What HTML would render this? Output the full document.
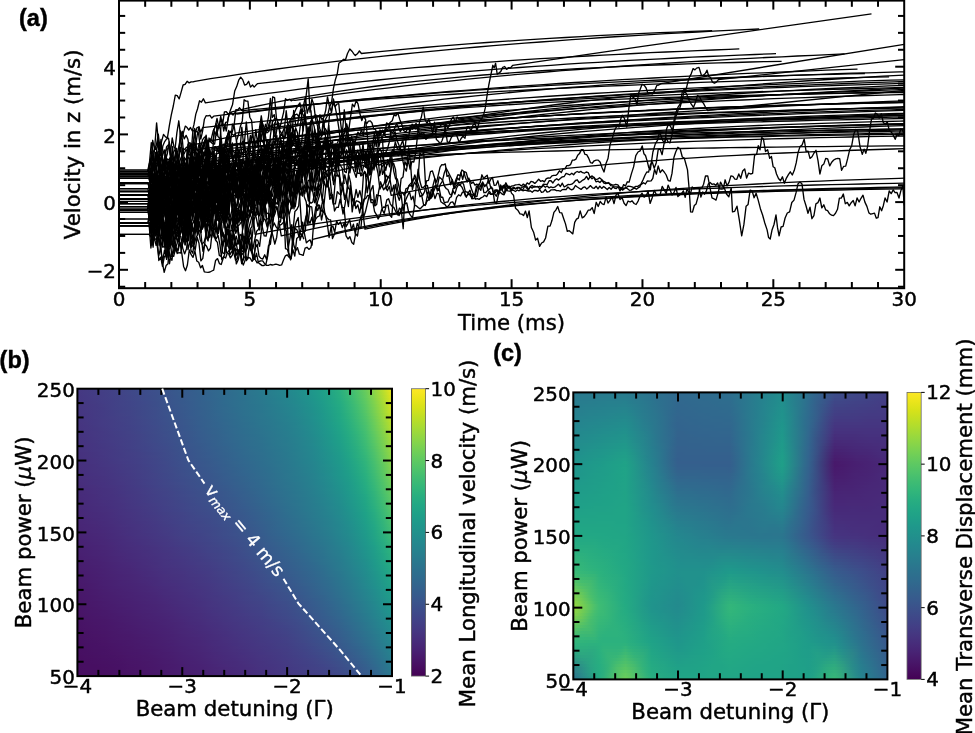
<!DOCTYPE html>
<html><head><meta charset="utf-8"><title>Figure</title>
<style>
html,body{margin:0;padding:0;background:#fff}
#fig{position:relative;width:975px;height:733px;overflow:hidden;background:#fff}
#fig svg{position:absolute;left:0;top:0}
.hm{position:absolute;height:733px}
.hm div{position:absolute;left:0;width:100%;height:3.69px}
.cb{position:absolute}
</style></head><body>
<div id="fig">
<div class="hm" style="left:77px;top:0;width:315px"><div style="top:389.0px;background:linear-gradient(90deg,#453882,#443a83,#433c84,#433f85,#424186,#414487,#3f4788,#3e4a89,#3d4d8a,#3c508b,#3a538b,#38578c,#375b8d,#355d8d,#34618d,#32658e,#31688e,#2f6b8e,#2e6f8e,#2c728e,#2b768e,#297a8e,#277e8e,#26828e,#24878e,#228c8d,#20918c,#1f988b,#1f9e88,#22a685,#29af80,#39b976,#4ec36b,#68cc5c,#8ed544,#b9de2e,#eae51b)"></div><div style="top:392.0px;background:linear-gradient(90deg,#453782,#443a83,#433c84,#433e85,#424186,#414487,#404788,#3e4a89,#3d4d8a,#3c4f8b,#3a538b,#39578c,#375a8c,#365d8d,#34608d,#32648e,#31688e,#2f6b8e,#2e6e8e,#2c728e,#2b768e,#29798e,#287e8e,#26828e,#24868e,#228b8d,#21918c,#1f978b,#1f9e89,#22a585,#28ae80,#38b877,#4cc26c,#65cb5d,#8bd546,#b5dd2f,#e6e41b)"></div><div style="top:395.0px;background:linear-gradient(90deg,#453782,#443983,#443c84,#433e85,#424186,#414387,#404688,#3f4989,#3d4c8a,#3c4f8a,#3a538b,#39568c,#375a8c,#365d8d,#34608d,#32648e,#31688e,#2f6b8e,#2e6e8e,#2c728e,#2b758e,#29798e,#287d8e,#26818e,#25858e,#238a8d,#21908c,#1f968b,#1f9d89,#22a485,#27ad81,#36b778,#4ac16d,#63cb5f,#88d448,#b2dc31,#e1e31b)"></div><div style="top:398.0px;background:linear-gradient(90deg,#453782,#443983,#443b84,#433e85,#424086,#414387,#404688,#3f4989,#3d4c8a,#3c4f8a,#3a528b,#39568c,#37598c,#365d8d,#34608d,#32648e,#31678e,#2f6b8e,#2e6e8e,#2c718e,#2b758e,#2a788e,#287c8e,#26808e,#25848e,#23898d,#218f8d,#1f958b,#1f9c89,#21a386,#26ac81,#34b679,#48c06e,#60ca60,#84d34a,#aedc33,#dde31b)"></div><div style="top:401.0px;background:linear-gradient(90deg,#453781,#443982,#443b83,#433d85,#424086,#414387,#404588,#3f4889,#3e4b8a,#3c4e8a,#3b528b,#39568c,#37598c,#365c8d,#34608d,#33638d,#31678e,#2f6b8e,#2e6e8e,#2d718e,#2b758e,#2a788e,#287c8e,#27808e,#25848e,#23898d,#218e8d,#20948c,#1f9b8a,#21a386,#25ab82,#32b57a,#46bf6f,#5ec962,#81d34c,#aadb35,#d9e21b)"></div><div style="top:403.9px;background:linear-gradient(90deg,#453781,#453882,#443a83,#433d84,#424086,#414387,#404588,#3f4889,#3e4b89,#3c4e8a,#3b528b,#39558c,#38598c,#365c8d,#34608d,#33638d,#31678e,#2f6a8e,#2e6e8e,#2d718e,#2b748e,#2a778e,#287b8e,#277f8e,#25838e,#24888e,#228d8d,#20938c,#1f9a8a,#21a287,#24aa83,#31b47b,#43be71,#5bc863,#7ed24e,#a6da36,#d5e21b)"></div><div style="top:406.9px;background:linear-gradient(90deg,#453681,#453882,#443a83,#433c84,#424086,#414287,#404587,#3f4888,#3e4b89,#3d4e8a,#3b518b,#39558c,#38588c,#365c8d,#345f8d,#33638d,#31678e,#306a8e,#2e6d8e,#2d718e,#2b748e,#2a778e,#297b8e,#277e8e,#26828e,#24878e,#228c8d,#20928c,#1f998a,#20a187,#23a983,#30b37c,#41bd72,#59c765,#7bd150,#a3da38,#d0e11c)"></div><div style="top:409.9px;background:linear-gradient(90deg,#453681,#453882,#443a83,#433c84,#423f85,#414286,#414487,#3f4788,#3e4a89,#3d4d8a,#3b518b,#3a548c,#38588c,#365b8d,#355f8d,#33628d,#31668e,#306a8e,#2e6d8e,#2d708e,#2c738e,#2a768e,#297a8e,#277e8e,#26828e,#24868e,#228c8d,#20918c,#1f988a,#20a088,#23a884,#2fb27d,#3fbc73,#56c666,#78d052,#9fd93a,#cce11f)"></div><div style="top:412.9px;background:linear-gradient(90deg,#453681,#453782,#443a83,#433c84,#423f85,#424286,#414487,#3f4788,#3e4a89,#3d4d8a,#3b518b,#3a548b,#38578c,#365b8d,#355f8d,#33628d,#32668e,#30698e,#2f6c8e,#2d708e,#2c738e,#2b768e,#297a8e,#287d8e,#26818e,#24868e,#238b8d,#21908c,#1f978b,#209f88,#22a784,#2db17d,#3dbb74,#53c568,#75cf54,#9bd83c,#c7e021)"></div><div style="top:415.9px;background:linear-gradient(90deg,#453581,#453782,#443a83,#433c84,#433f85,#424186,#414387,#404788,#3e4a89,#3d4d8a,#3b508b,#3a548b,#38578c,#375b8d,#355e8d,#33628d,#32658e,#30698e,#2f6c8e,#2d6f8e,#2c728e,#2b768e,#29798e,#287d8e,#26808e,#25858e,#238a8d,#21908d,#1f978b,#209e88,#22a785,#2cb07e,#3cba75,#50c469,#71ce56,#98d73e,#c3df23)"></div><div style="top:418.9px;background:linear-gradient(90deg,#453580,#453782,#443983,#443c84,#433e85,#424186,#414387,#404688,#3f4989,#3d4c8a,#3c508b,#3a538b,#39568c,#375a8c,#355e8d,#34618d,#32658e,#30688e,#2f6b8e,#2e6f8e,#2c728e,#2b758e,#2a788e,#287c8e,#27808e,#25848e,#23898d,#218f8d,#1f968b,#209d88,#21a685,#2aaf7f,#3ab976,#4ec36b,#6ecd58,#94d741,#bedf26)"></div><div style="top:421.9px;background:linear-gradient(90deg,#463480,#453781,#443983,#443c84,#433e85,#424086,#414387,#404688,#3f4989,#3d4c8a,#3c4f8b,#3a538b,#39568c,#375a8c,#355e8d,#34618d,#32648e,#31688e,#2f6b8e,#2e6e8e,#2c718e,#2b758e,#2a788e,#287b8e,#277f8e,#25838e,#23898d,#218e8d,#20958b,#1f9d89,#21a586,#29ae80,#38b877,#4bc26c,#6bcd5a,#90d643,#bade28)"></div><div style="top:424.9px;background:linear-gradient(90deg,#463480,#453681,#443982,#443b84,#433e85,#424086,#414287,#404588,#3f4889,#3e4b8a,#3c4f8a,#3b528b,#39558c,#37598c,#355d8d,#34618d,#32648e,#31678e,#2f6a8e,#2e6e8e,#2d718e,#2b748e,#2a778e,#297b8e,#277e8e,#26838e,#24888e,#228d8d,#20948b,#1f9c89,#20a486,#28ad80,#36b778,#49c16e,#68cc5b,#8dd545,#b6de2b)"></div><div style="top:427.9px;background:linear-gradient(90deg,#463480,#453681,#443882,#443b83,#433d85,#424086,#414286,#404588,#3f4889,#3e4b89,#3c4f8a,#3b528b,#39558c,#37598c,#365d8d,#34608d,#33638d,#31678e,#306a8e,#2e6d8e,#2d708e,#2c738e,#2a778e,#297a8e,#277e8e,#26828e,#24878e,#228d8d,#20938c,#1f9b8a,#20a387,#27ac81,#34b679,#47c06f,#66cb5d,#89d447,#b2dd2d)"></div><div style="top:430.9px;background:linear-gradient(90deg,#463480,#453681,#453882,#443a83,#433d84,#423f85,#424286,#404587,#3f4888,#3e4b89,#3c4e8a,#3b518b,#3a558c,#38588c,#365c8d,#34608d,#33638d,#31668e,#306a8e,#2e6d8e,#2d708e,#2c738e,#2b768e,#297a8e,#287d8e,#26828e,#24868e,#228c8d,#20938c,#1f9a8a,#20a287,#26ab82,#32b57a,#44bf70,#62ca5f,#85d34a,#aedc30)"></div><div style="top:433.8px;background:linear-gradient(90deg,#463380,#453581,#453882,#443a83,#433c84,#423f85,#424186,#414487,#3f4788,#3e4a89,#3d4e8a,#3b518b,#3a548c,#38588c,#365c8d,#355f8d,#33628d,#32668e,#30698e,#2f6c8e,#2d6f8e,#2c728e,#2b768e,#29798e,#287d8e,#26818e,#24868e,#228b8d,#20928c,#1f998a,#1fa187,#25aa82,#31b37b,#42be71,#5fc961,#82d24c,#aadc33)"></div><div style="top:436.8px;background:linear-gradient(90deg,#46337f,#453580,#453782,#443a83,#433c84,#433e85,#424186,#414487,#3f4788,#3e4a89,#3d4d8a,#3b508b,#3a548b,#38578c,#365b8d,#355f8d,#33628d,#32658e,#30698e,#2f6c8e,#2e6f8e,#2c718e,#2b758e,#2a798e,#287c8e,#27808e,#25858e,#238a8d,#21918c,#1f988a,#1fa088,#24a983,#30b27c,#40bd72,#5cc863,#7ed14e,#a6db35)"></div><div style="top:439.8px;background:linear-gradient(90deg,#46337f,#453580,#453781,#443983,#443c84,#433e85,#424086,#414387,#404788,#3e4a89,#3d4d8a,#3c508b,#3a538b,#38578c,#375b8d,#355e8d,#34618d,#32658e,#31688e,#2f6b8e,#2e6e8e,#2d718e,#2b758e,#2a788e,#287b8e,#27808e,#25848e,#23898d,#21908c,#1f988b,#1f9f88,#24a884,#2eb17d,#3ebc74,#59c764,#7ad150,#a2da38)"></div><div style="top:442.8px;background:linear-gradient(90deg,#46337f,#463480,#453681,#443982,#443b84,#433e85,#424086,#414387,#404688,#3f4989,#3d4c8a,#3c4f8b,#3a538b,#39578c,#375a8c,#355d8d,#34618d,#32648e,#31678e,#2f6b8e,#2e6e8e,#2d708e,#2b748e,#2a788e,#297b8e,#277f8e,#25848e,#23898e,#21908c,#1f978b,#1f9e89,#23a784,#2db07e,#3cbb75,#56c666,#77d052,#9eda3a)"></div><div style="top:445.8px;background:linear-gradient(90deg,#46327f,#463480,#453681,#443882,#443b83,#433d85,#424086,#414387,#404588,#3f4989,#3e4b8a,#3c4f8a,#3a528b,#39568c,#37598c,#365d8d,#34608d,#33638d,#31678e,#306a8e,#2e6d8e,#2d708e,#2c748e,#2a778e,#297a8e,#277f8e,#25838e,#23888e,#218f8d,#20968b,#1f9d89,#23a685,#2baf7f,#3aba76,#54c467,#74cf54,#9bd93c)"></div><div style="top:448.8px;background:linear-gradient(90deg,#46327f,#463480,#453681,#453882,#443a83,#433d84,#423f85,#414286,#404588,#3f4889,#3e4b89,#3c4e8a,#3b528b,#39558c,#38598c,#365c8d,#345f8d,#33638d,#31668e,#30698e,#2f6d8e,#2d6f8e,#2c738e,#2a768e,#297a8e,#277e8e,#26838e,#24878e,#218e8d,#20958b,#1f9c89,#22a585,#2aae7f,#38b977,#51c369,#71ce56,#97d83f)"></div><div style="top:451.8px;background:linear-gradient(90deg,#46317e,#46337f,#453580,#453882,#443a83,#433c84,#433f85,#424186,#404487,#3f4788,#3e4a89,#3d4e8a,#3b518b,#39558c,#38588c,#365b8d,#355f8d,#33628d,#32658e,#30698e,#2f6c8e,#2e6f8e,#2c728e,#2b768e,#29798e,#287e8e,#26828e,#24878e,#228d8d,#20948b,#1f9b8a,#21a486,#29ad80,#36b878,#4ec26b,#6ecd58,#94d741)"></div><div style="top:454.8px;background:linear-gradient(90deg,#46317e,#46337f,#453580,#453782,#443a83,#433c84,#433e85,#424186,#414487,#404788,#3e4a89,#3d4d8a,#3b518b,#3a548c,#38588c,#375b8d,#355e8d,#33618d,#32658e,#30688e,#2f6b8e,#2e6e8e,#2c728e,#2b758e,#29798e,#287d8e,#26828e,#24868e,#228d8d,#20938c,#1f9a8a,#21a386,#28ad80,#34b679,#4cc16c,#6bcc5a,#90d743)"></div><div style="top:457.8px;background:linear-gradient(90deg,#46317e,#46327f,#463480,#453781,#443983,#443c84,#433e85,#424086,#414387,#404688,#3e4989,#3d4d8a,#3b508b,#3a548b,#38578c,#375a8c,#355d8d,#34618d,#32648e,#31678e,#2f6b8e,#2e6e8e,#2d718e,#2b758e,#2a788e,#287d8e,#26818e,#24868e,#228c8d,#20938c,#1f998a,#20a287,#27ab81,#32b57a,#49c06d,#68cb5c,#8dd645)"></div><div style="top:460.8px;background:linear-gradient(90deg,#46307e,#46327f,#463480,#453681,#443982,#443b84,#433d85,#424086,#414387,#404688,#3f4989,#3d4c8a,#3c508b,#3a538b,#39568c,#37598c,#365d8d,#34608d,#33648d,#31678e,#306a8e,#2e6d8e,#2d718e,#2b748e,#2a788e,#287c8e,#26818e,#25858e,#228b8d,#20928c,#1f998a,#20a187,#26aa82,#30b47b,#47bf6f,#65ca5d,#89d547)"></div><div style="top:463.7px;background:linear-gradient(90deg,#47307d,#46317e,#46337f,#453681,#453882,#443a83,#433d84,#423f85,#414287,#404588,#3f4889,#3d4c8a,#3c4f8b,#3a538b,#39568c,#38598c,#365c8d,#345f8d,#33638d,#31668e,#30698e,#2e6d8e,#2d708e,#2c748e,#2a778e,#287c8e,#27808e,#25848e,#238b8d,#21918c,#1f988b,#20a087,#25a983,#2fb37c,#45be70,#61c95f,#86d44a)"></div><div style="top:466.7px;background:linear-gradient(90deg,#472f7d,#46317e,#46337f,#453580,#453782,#443a83,#433c84,#423f85,#414286,#404588,#3f4889,#3e4b89,#3c4f8a,#3b528b,#39558c,#38588c,#365b8d,#355f8d,#33628d,#32658e,#30698e,#2f6c8e,#2d6f8e,#2c738e,#2a778e,#297b8e,#277f8e,#25848e,#238a8d,#21908c,#1f978b,#209f88,#24a883,#2db27d,#43bd71,#5fc861,#82d34c)"></div><div style="top:469.7px;background:linear-gradient(90deg,#472f7d,#46317e,#46337f,#463480,#453781,#443983,#443c84,#433f85,#424186,#404587,#3f4888,#3e4b89,#3c4e8a,#3b518b,#3a548c,#38578c,#375b8d,#355e8d,#33618d,#32658e,#30688e,#2f6b8e,#2d6f8e,#2c738e,#2a768e,#297a8e,#277f8e,#25838e,#23898d,#218f8c,#1f968b,#1f9e88,#24a784,#2cb17e,#40bc73,#5cc762,#7ed24e)"></div><div style="top:472.7px;background:linear-gradient(90deg,#472f7d,#46307e,#46327f,#463480,#453681,#443982,#443b84,#433e85,#424186,#414487,#3f4788,#3e4a89,#3d4e8a,#3b518b,#3a548b,#39568c,#375a8c,#355d8d,#34618d,#32648e,#31678e,#2f6b8e,#2e6e8e,#2c728e,#2b768e,#297a8e,#277e8e,#26828e,#23888e,#218f8d,#1f968b,#1f9d89,#23a684,#2ab07f,#3ebb74,#59c664,#7ad251)"></div><div style="top:475.7px;background:linear-gradient(90deg,#472e7c,#47307d,#46327e,#46337f,#453681,#453882,#443b83,#433e85,#424186,#414487,#3f4788,#3e4a89,#3d4d8a,#3c508b,#3a538b,#39568c,#37598c,#365d8d,#34608d,#33638d,#31678e,#306a8e,#2e6e8e,#2c728e,#2b768e,#29798e,#287d8e,#26828e,#24888e,#228e8d,#1f958b,#1f9c89,#22a585,#29af80,#3cba75,#56c566,#77d153)"></div><div style="top:478.7px;background:linear-gradient(90deg,#472e7c,#472f7d,#46317e,#46337f,#453580,#453882,#443a83,#433d84,#424086,#414387,#404688,#3e4989,#3d4c8a,#3c4f8a,#3b528b,#39558c,#38598c,#365c8d,#345f8d,#33638d,#31668e,#30698e,#2e6d8e,#2d718e,#2b758e,#29798e,#287d8e,#26818e,#24878e,#228d8d,#20948c,#1f9b89,#22a486,#28ae80,#3ab976,#53c468,#73d055)"></div><div style="top:481.7px;background:linear-gradient(90deg,#472d7b,#472f7d,#46317e,#46327f,#453580,#453782,#443a83,#433d84,#424086,#414387,#404688,#3f4989,#3e4c8a,#3c4f8a,#3b518b,#3a548c,#38588c,#365b8d,#355f8d,#33628d,#32658e,#30698e,#2f6d8e,#2d718e,#2b748e,#2a788e,#287c8e,#26818e,#24868e,#228c8d,#20938c,#1f9a8a,#21a386,#27ad81,#38b877,#50c369,#70cf57)"></div><div style="top:484.7px;background:linear-gradient(90deg,#472c7b,#472e7c,#47307d,#46327f,#463480,#453681,#443983,#433c84,#423f85,#414287,#404588,#3f4888,#3e4b89,#3d4e8a,#3b518b,#3a548b,#38578c,#375a8c,#355e8d,#34618d,#32658e,#30688e,#2f6c8e,#2d708e,#2c748e,#2a778e,#287c8e,#27808e,#25858e,#228b8d,#20928c,#1f998a,#21a287,#26ac82,#36b778,#4ec26b,#6cce59)"></div><div style="top:487.7px;background:linear-gradient(90deg,#472c7b,#472d7c,#472f7d,#46317e,#46337f,#453681,#443982,#443b84,#433e85,#424286,#414487,#3f4788,#3e4a89,#3d4d8a,#3c508b,#3a538b,#39568c,#37598c,#365d8d,#34608d,#32648d,#31678e,#2f6b8e,#2d6f8e,#2c738e,#2a778e,#297b8e,#277f8e,#25858e,#238b8d,#20918c,#1f998a,#21a187,#25ab82,#34b679,#4bc16c,#69cd5b)"></div><div style="top:490.6px;background:linear-gradient(90deg,#472b7a,#472d7b,#472f7d,#46317e,#46337f,#453581,#443882,#443b83,#433e85,#424186,#414387,#404688,#3e4989,#3d4c8a,#3c4f8a,#3b528b,#39558c,#38588c,#365c8d,#345f8d,#33638d,#31678e,#2f6b8e,#2e6f8e,#2c728e,#2a768e,#297a8e,#277f8e,#25848e,#238a8d,#21908c,#1f988b,#21a087,#24aa83,#32b47a,#49c06d,#65cb5d)"></div><div style="top:493.6px;background:linear-gradient(90deg,#472b7a,#472c7b,#472e7c,#46317e,#46327f,#453580,#453882,#443a83,#433d85,#424086,#414387,#404688,#3f4989,#3e4c8a,#3c4f8a,#3b518b,#3a548c,#38588c,#365b8d,#355f8d,#33628d,#31668e,#306a8e,#2e6e8e,#2c728e,#2b768e,#297a8e,#277e8e,#25838e,#23898d,#218f8d,#1f978b,#209f88,#23a884,#31b37b,#46bf6f,#62ca5f)"></div><div style="top:496.6px;background:linear-gradient(90deg,#472a79,#472c7b,#472e7c,#46307e,#46327f,#463480,#453782,#443a83,#433d84,#424086,#414287,#404588,#3f4889,#3e4b89,#3d4e8a,#3b518b,#3a548b,#38578c,#375a8c,#355e8d,#34618d,#32658e,#30698e,#2e6d8e,#2d718e,#2b758e,#29798e,#287d8e,#26828e,#24888e,#218e8d,#20968b,#209e88,#22a784,#2fb27c,#43be71,#5fc961)"></div><div style="top:499.6px;background:linear-gradient(90deg,#482a79,#472b7a,#472d7c,#47307d,#46317e,#463480,#453781,#443983,#433c84,#423f85,#424186,#414487,#3f4788,#3e4a89,#3d4d8a,#3c508b,#3a538b,#39568c,#37598c,#365d8d,#34618d,#32658e,#30698e,#2f6d8e,#2d718e,#2b748e,#2a788e,#287d8e,#26828e,#24878e,#228d8d,#20958b,#209d89,#22a685,#2eb17d,#41bc72,#5cc863)"></div><div style="top:502.6px;background:linear-gradient(90deg,#482979,#472b7a,#472d7b,#472f7d,#46317e,#46337f,#453681,#443982,#443b84,#433e85,#424186,#414487,#404688,#3e4989,#3d4c8a,#3c4f8a,#3b528b,#39558c,#38588c,#365c8d,#34608d,#32648d,#31688e,#2f6c8e,#2d708e,#2c748e,#2a788e,#287c8e,#26818e,#24868e,#228c8d,#20948b,#209c89,#21a585,#2db07e,#3fbb73,#59c764)"></div><div style="top:505.6px;background:linear-gradient(90deg,#482978,#472a7a,#472c7b,#472e7c,#46307e,#46337f,#453681,#453882,#443b83,#433d85,#424086,#414387,#404688,#3f4989,#3e4b8a,#3c4e8a,#3b518b,#3a548b,#38588c,#365b8d,#355f8d,#33638d,#31678e,#2f6b8e,#2d6f8e,#2c738e,#2a778e,#287c8e,#27808e,#25868e,#228b8d,#20938c,#209b89,#21a486,#2baf7f,#3dba74,#57c666)"></div><div style="top:508.6px;background:linear-gradient(90deg,#482878,#472a79,#472c7b,#472e7c,#47307d,#46327f,#453580,#453782,#443a83,#433d84,#424086,#414287,#404588,#3f4889,#3e4b89,#3d4d8a,#3c508b,#3a538b,#38578c,#375a8c,#355e8d,#33628d,#31668e,#306a8e,#2e6f8e,#2c728e,#2a778e,#297b8e,#277f8e,#25858e,#238a8d,#20928c,#209a8a,#20a386,#29ae80,#3bb975,#54c568)"></div><div style="top:511.6px;background:linear-gradient(90deg,#482878,#482a79,#472b7a,#472d7b,#472f7d,#46327f,#463480,#453781,#443983,#433c84,#423f85,#414286,#414487,#3f4788,#3e4a89,#3d4c8a,#3c4f8a,#3b528b,#39568c,#37598c,#355d8d,#34618d,#32658e,#30698e,#2e6e8e,#2c728e,#2b768e,#297a8e,#277f8e,#25848e,#238a8d,#21918c,#1f998a,#1fa287,#28ac81,#39b877,#51c469)"></div><div style="top:514.6px;background:linear-gradient(90deg,#482777,#482979,#472b7a,#472c7b,#472f7d,#46317e,#463480,#453681,#443982,#443b84,#433e85,#424186,#414387,#404688,#3f4989,#3e4b8a,#3c4e8a,#3b518b,#39558c,#38588c,#365c8d,#34608d,#32648e,#30698e,#2e6d8e,#2d718e,#2b758e,#297a8e,#277e8e,#25838e,#23898e,#21908c,#1f988a,#1fa187,#27ab81,#37b778,#4ec36b)"></div><div style="top:517.6px;background:linear-gradient(90deg,#482777,#482878,#472a79,#472c7b,#472e7c,#46317e,#46337f,#453681,#453882,#443b83,#433e85,#424086,#414387,#404688,#3f4889,#3e4a89,#3d4d8a,#3b518b,#3a548b,#38588c,#365b8d,#34608d,#32648d,#31688e,#2f6c8e,#2d708e,#2b748e,#29798e,#287d8e,#26828e,#24888e,#218f8c,#20978b,#1fa088,#26aa82,#34b579,#4bc26c)"></div><div style="top:520.5px;background:linear-gradient(90deg,#482676,#482878,#482a79,#472b7a,#472e7c,#46307d,#46337f,#453580,#453782,#443a83,#433d84,#424086,#414287,#404588,#3f4788,#3e4a89,#3d4d8a,#3c508b,#3a538b,#38578c,#375b8c,#355f8d,#33638d,#31678e,#2f6c8e,#2d6f8e,#2c748e,#2a788e,#287c8e,#26818e,#24878e,#218e8d,#20968b,#1f9f88,#25a983,#33b47a,#49c16e)"></div><div style="top:523.5px;background:linear-gradient(90deg,#482676,#482777,#482978,#472b7a,#472d7b,#47307d,#46327f,#463480,#453781,#443983,#433c84,#423f85,#424286,#414487,#404788,#3f4989,#3d4c8a,#3c4f8a,#3b528b,#39568c,#375a8c,#355e8d,#33628d,#31678e,#2f6b8e,#2e6f8e,#2c738e,#2a778e,#287c8e,#26818e,#24868e,#228d8d,#20958b,#1f9e89,#24a884,#32b37b,#46bf6f)"></div><div style="top:526.5px;background:linear-gradient(90deg,#482575,#482777,#482878,#472a79,#472c7b,#472f7d,#46317e,#463480,#453681,#443982,#443b84,#433e85,#424186,#414387,#404688,#3f4889,#3e4b89,#3c4e8a,#3b518b,#39558c,#38598c,#365d8d,#33628d,#31668e,#306a8e,#2e6e8e,#2c728e,#2a768e,#297b8e,#27808e,#24868e,#228c8d,#20948b,#1f9d89,#23a784,#30b27c,#43be71)"></div><div style="top:529.5px;background:linear-gradient(90deg,#482475,#482676,#482878,#482979,#472c7b,#472e7c,#46317e,#46337f,#453681,#453882,#443b83,#433d85,#424086,#414387,#404588,#3f4788,#3e4a89,#3d4d8a,#3b508b,#3a548b,#38588c,#365c8d,#34618d,#32658e,#30698e,#2e6d8e,#2d718e,#2b768e,#297a8e,#277f8e,#25858e,#228b8d,#20938c,#1f9b8a,#22a585,#2eb17d,#40bd72)"></div><div style="top:532.5px;background:linear-gradient(90deg,#482474,#482576,#482777,#482978,#472b7a,#472e7c,#46307e,#46337f,#453580,#453782,#443a83,#433d84,#424086,#414286,#404487,#404788,#3e4a89,#3d4d8a,#3c508b,#3a538b,#38578c,#365b8d,#34608d,#32648e,#30688e,#2f6c8e,#2d708e,#2b758e,#29798e,#277e8e,#25848e,#238a8d,#21928c,#1f9a8a,#22a485,#2caf7e,#3dbc74)"></div><div style="top:535.5px;background:linear-gradient(90deg,#482374,#482575,#482677,#482878,#472b7a,#472d7b,#47307d,#46327f,#463480,#453781,#443982,#443c84,#433f85,#424186,#414387,#404688,#3f4989,#3d4c8a,#3c4f8a,#3b528b,#39568c,#375a8c,#355f8d,#33638d,#31678e,#2f6b8e,#2d6f8e,#2b748e,#2a788e,#287d8e,#25838e,#23898d,#21918c,#1f998a,#22a386,#2aae7f,#3bba75)"></div><div style="top:538.5px;background:linear-gradient(90deg,#482273,#482475,#482676,#482777,#472a79,#472c7b,#472f7d,#46317e,#46337f,#453681,#453882,#443b83,#433e85,#424086,#414387,#404588,#3f4889,#3e4b89,#3d4e8a,#3b518b,#39558c,#375a8c,#355e8d,#33628d,#31668e,#306a8e,#2e6e8e,#2c738e,#2a778e,#287c8e,#26828e,#23888d,#21908c,#1f988b,#21a286,#29ad80,#38b977)"></div><div style="top:541.5px;background:linear-gradient(90deg,#482273,#482374,#482576,#482777,#482979,#472c7b,#472e7c,#46307e,#46337f,#453580,#453782,#443a83,#433d84,#423f85,#414286,#404487,#3f4788,#3e4a89,#3d4d8a,#3b508b,#3a548b,#38598c,#365d8d,#34618d,#32658e,#30698e,#2e6d8e,#2c728e,#2a768e,#287b8e,#26818e,#24878e,#218f8c,#1f978b,#20a187,#28ab81,#36b778)"></div><div style="top:544.5px;background:linear-gradient(90deg,#482172,#482374,#482475,#482676,#482978,#472b7a,#472e7c,#472f7d,#46327e,#463480,#453781,#443983,#433c84,#433e85,#424186,#414487,#404688,#3f4989,#3d4c8a,#3c508b,#3a548b,#38588c,#365c8d,#34608d,#32648e,#30688e,#2f6c8e,#2d718e,#2b758e,#297a8e,#27808e,#24868e,#228e8d,#1f968b,#209f88,#27aa82,#33b67a)"></div><div style="top:547.4px;background:linear-gradient(90deg,#482072,#482273,#482475,#482676,#482878,#472b7a,#472d7b,#472f7d,#46317e,#46337f,#453681,#453882,#443b83,#433d84,#424086,#414387,#404588,#3f4889,#3e4b89,#3c4f8a,#3a538b,#38578c,#365b8d,#355f8d,#33638d,#31678e,#2f6c8e,#2d708e,#2b748e,#297a8e,#277f8e,#25858e,#228d8d,#1f958b,#209e88,#26a983,#31b47b)"></div><div style="top:550.4px;background:linear-gradient(90deg,#482071,#482173,#482374,#482575,#482777,#472a79,#472c7b,#472e7c,#46307d,#46337f,#453580,#453782,#443a83,#433c84,#423f85,#414287,#404487,#3f4788,#3e4a89,#3d4e8a,#3b528b,#39568c,#375a8c,#355e8d,#33628d,#31668e,#2f6b8e,#2d6f8e,#2c738e,#2a798e,#277e8e,#25858e,#228c8d,#20948c,#209d89,#24a884,#2eb37c)"></div><div style="top:553.4px;background:linear-gradient(90deg,#481f71,#482172,#482374,#482475,#482777,#482979,#472b7a,#472d7c,#47307d,#46327f,#463480,#453781,#443983,#443b84,#433e85,#424186,#414387,#404688,#3e4989,#3d4d8a,#3b518b,#39558c,#37598c,#355d8d,#34618d,#32658e,#30698e,#2e6e8e,#2c728e,#2a788e,#287d8e,#25848e,#238b8d,#20938c,#209c89,#23a684,#2db17d)"></div><div style="top:556.4px;background:linear-gradient(90deg,#481e70,#482072,#482273,#482474,#482676,#482878,#472b7a,#472d7b,#472f7d,#46317e,#463480,#453681,#453882,#443b83,#433d84,#424086,#414387,#404688,#3f4989,#3d4c8a,#3c508b,#3a548b,#38588c,#365c8d,#34608d,#32648e,#30688e,#2e6d8e,#2c718e,#2a778e,#287c8e,#26838e,#238a8d,#20928c,#209b89,#23a585,#2bb07f)"></div><div style="top:559.4px;background:linear-gradient(90deg,#481e6f,#482071,#482172,#482374,#482676,#482878,#472a79,#472c7b,#472e7c,#46317e,#46337f,#453581,#453782,#443a83,#433c84,#423f85,#414286,#404587,#3f4889,#3e4b89,#3c4f8a,#3a538b,#38578c,#365b8d,#355f8d,#33638d,#31678e,#2f6c8e,#2d718e,#2b768e,#287b8e,#26828e,#23898d,#21908c,#1f9a8a,#23a485,#29ae80)"></div><div style="top:562.4px;background:linear-gradient(90deg,#481d6f,#481f70,#482172,#482273,#482575,#482777,#482979,#472b7a,#472e7c,#46307d,#46337f,#453580,#453781,#443983,#443c84,#433e85,#424186,#414487,#3f4788,#3e4a89,#3d4e8a,#3b528b,#39568c,#375a8c,#355e8d,#33628d,#31668e,#2f6a8e,#2d708e,#2b758e,#297a8e,#26818e,#24888d,#218f8d,#1f998a,#22a386,#27ad81)"></div><div style="top:565.4px;background:linear-gradient(90deg,#481d6e,#481e70,#482071,#482273,#482475,#482677,#482878,#472b7a,#472d7b,#47307d,#46327f,#463480,#453681,#453882,#443b83,#433d84,#424086,#414387,#404688,#3e4989,#3d4d8a,#3b518b,#39558c,#37598c,#355d8d,#34618d,#32658e,#30698e,#2e6e8e,#2b748e,#297a8e,#27808e,#24878e,#218e8d,#1f988a,#21a187,#25ab82)"></div><div style="top:568.4px;background:linear-gradient(90deg,#481c6e,#481e6f,#481f71,#482172,#482474,#482676,#482777,#472a79,#472c7b,#472f7d,#46317e,#46337f,#453580,#453782,#443a83,#433c84,#423f85,#414287,#404588,#3f4889,#3d4c8a,#3c508b,#3a548b,#38588c,#365c8d,#34608d,#32648e,#30688e,#2e6d8e,#2c738e,#2a798e,#277f8e,#24868e,#228d8d,#20978b,#20a087,#24aa83)"></div><div style="top:571.4px;background:linear-gradient(90deg,#481b6d,#481d6f,#481f70,#482172,#482374,#482576,#482777,#482979,#472b7a,#472e7c,#46307e,#46337f,#463480,#453781,#443983,#443b84,#433f85,#424286,#404487,#3f4888,#3e4b89,#3c4f8a,#3a538b,#38578c,#375b8d,#355f8d,#33638d,#31678e,#2f6c8e,#2c728e,#2a778e,#287e8e,#25858e,#228c8d,#20958b,#209f88,#23a983)"></div><div style="top:574.4px;background:linear-gradient(90deg,#481b6d,#481c6e,#481e70,#482072,#482373,#482475,#482676,#482878,#472b7a,#472d7c,#47307d,#46327e,#46337f,#453681,#453882,#443b83,#433e85,#424186,#414487,#404788,#3e4a89,#3d4e8a,#3b528b,#39568c,#375a8c,#355e8d,#33628d,#31668e,#2f6b8e,#2d718e,#2a768e,#287d8e,#25848e,#228b8d,#20948b,#209d88,#22a784)"></div><div style="top:577.3px;background:linear-gradient(90deg,#481a6c,#481c6e,#481e6f,#482071,#482273,#482475,#482676,#482877,#472a79,#472c7b,#472f7d,#46317e,#46337f,#453580,#453782,#443a83,#433d84,#424086,#414387,#404688,#3f4989,#3d4d8a,#3b518b,#39558c,#38588c,#365d8d,#34618d,#32658e,#306a8e,#2d6f8e,#2b758e,#287c8e,#26828e,#238a8d,#20938c,#209c89,#22a685)"></div><div style="top:580.3px;background:linear-gradient(90deg,#48196b,#481b6d,#481d6f,#481f71,#482172,#482374,#482575,#482777,#482979,#472b7a,#472e7c,#46307d,#46327e,#463480,#453781,#443983,#433c84,#423f85,#414286,#404587,#3f4889,#3d4c8a,#3c508b,#3a548b,#38578c,#365b8d,#34608d,#32648e,#30698e,#2e6e8e,#2b748e,#297a8e,#26818e,#23898d,#21918c,#209a89,#21a486)"></div><div style="top:583.3px;background:linear-gradient(90deg,#48196b,#481a6c,#481c6e,#481f71,#482172,#482374,#482475,#482676,#482878,#472b7a,#472d7c,#472f7d,#46317e,#46337f,#453681,#453882,#443b84,#433e85,#424186,#414487,#3f4788,#3e4b89,#3c4f8a,#3a528b,#39568c,#375a8c,#355f8d,#33638d,#31688e,#2e6d8e,#2c738e,#29798e,#27808e,#24888e,#21908c,#20998a,#20a386)"></div><div style="top:586.3px;background:linear-gradient(90deg,#48186a,#481a6c,#481c6e,#481e70,#482072,#482273,#482474,#482576,#482777,#482a79,#472c7b,#472e7c,#46307e,#46337f,#453580,#453782,#443b83,#433d85,#424086,#414387,#404688,#3e4a89,#3d4e8a,#3b518b,#39558c,#37598c,#355d8d,#33628d,#31678e,#2f6c8e,#2c728e,#2a788e,#277f8e,#24878e,#218f8d,#20988a,#1fa287)"></div><div style="top:589.3px;background:linear-gradient(90deg,#48186a,#48196b,#481b6d,#481e6f,#482071,#482172,#482374,#482575,#482777,#482979,#472b7a,#472e7c,#47307d,#46327f,#463480,#453781,#443a83,#433d84,#423f85,#414286,#404588,#3f4989,#3d4c8a,#3c508b,#3a548b,#38588c,#365c8d,#34618d,#32668e,#2f6b8e,#2d718e,#2a778e,#277e8e,#25858e,#228d8d,#20968b,#1fa088)"></div><div style="top:592.3px;background:linear-gradient(90deg,#481769,#48196b,#481b6d,#481d6f,#481f70,#482172,#482273,#482475,#482676,#482878,#472b7a,#472d7b,#472f7d,#46317e,#463480,#453681,#443983,#433c84,#433e85,#424186,#404487,#3f4888,#3e4b89,#3c4f8a,#3b528b,#39578c,#365b8d,#34608d,#32658e,#306a8e,#2d708e,#2b768e,#287d8e,#25848e,#228c8d,#20958b,#1f9e88)"></div><div style="top:595.3px;background:linear-gradient(90deg,#481769,#48186b,#481a6c,#481d6e,#481e70,#482071,#482273,#482374,#482576,#482777,#472a79,#472c7b,#472e7c,#46307e,#46337f,#453681,#443882,#443b83,#433d85,#424186,#414487,#404688,#3e4a89,#3d4e8a,#3b518b,#39558c,#375a8c,#355f8d,#33638d,#30698e,#2e6f8e,#2b758e,#287c8e,#26838e,#238b8d,#20948b,#1f9d89)"></div><div style="top:598.3px;background:linear-gradient(90deg,#481669,#48186a,#481a6c,#481c6e,#481e6f,#481f71,#482172,#482374,#482575,#482677,#482979,#472b7a,#472e7c,#472f7d,#46327f,#453580,#453882,#443a83,#433d84,#424086,#414387,#404588,#3f4989,#3d4d8a,#3c508b,#3a548b,#38598c,#355d8d,#33628d,#31688e,#2e6d8e,#2c748e,#297b8e,#26828e,#238a8d,#21928c,#1f9b89)"></div><div style="top:601.3px;background:linear-gradient(90deg,#481668,#48186a,#48196b,#481b6d,#481d6f,#481f70,#482072,#482273,#482475,#482676,#482878,#472b7a,#472d7b,#472f7d,#46317e,#463480,#453781,#443983,#433c84,#423f85,#414286,#414487,#3f4889,#3e4b8a,#3c4e8a,#3a538b,#38578c,#365c8d,#34618d,#31668e,#2f6c8e,#2c738e,#29798e,#26808e,#23888d,#21918c,#1f9a8a)"></div><div style="top:604.2px;background:linear-gradient(90deg,#481568,#481769,#48196b,#481b6d,#481c6e,#481e70,#482071,#482173,#482374,#482575,#482777,#472a79,#472c7b,#472e7c,#46317e,#463480,#453681,#443982,#443b84,#433e85,#424186,#414387,#3f4788,#3e4a89,#3d4d8a,#3b528b,#39568c,#365b8d,#34608d,#32658e,#2f6b8e,#2c718e,#2a788e,#277f8e,#24878e,#21908c,#1f988b)"></div><div style="top:607.2px;background:linear-gradient(90deg,#481567,#481769,#48186a,#481a6c,#481c6e,#481d6f,#481f71,#482172,#482374,#482475,#482777,#482979,#472b7a,#472d7c,#47307d,#46337f,#453581,#453882,#443a83,#433d84,#424086,#414287,#404688,#3f4989,#3d4c8a,#3b508b,#39558c,#375a8c,#355f8d,#32648d,#306a8e,#2d708e,#2a778e,#277e8e,#24868e,#228e8d,#1f978b)"></div><div style="top:610.2px;background:linear-gradient(90deg,#481467,#481669,#48186a,#48196b,#481b6d,#481d6f,#481e70,#482072,#482273,#482474,#482676,#482878,#472b7a,#472d7b,#472f7d,#46327f,#453580,#453781,#443983,#433c84,#423f85,#424186,#404587,#3f4889,#3e4b89,#3c4f8a,#3a548b,#38598c,#355d8d,#33638d,#30688e,#2e6f8e,#2b768e,#287d8e,#25848e,#228d8d,#1f968b)"></div><div style="top:613.2px;background:linear-gradient(90deg,#481466,#481668,#48176a,#48196b,#481a6c,#481c6e,#481e6f,#482071,#482172,#482374,#482575,#482777,#472a79,#472c7b,#472e7c,#46317e,#463480,#453681,#443982,#443b84,#433e85,#424086,#414487,#3f4788,#3e4a89,#3c4e8a,#3a528b,#38578c,#365c8d,#33628d,#31678e,#2e6e8e,#2b748e,#287b8e,#25838e,#238b8d,#20948c)"></div><div style="top:616.2px;background:linear-gradient(90deg,#481366,#481568,#481769,#48186a,#481a6c,#481b6d,#481d6f,#481f70,#482172,#482273,#482475,#482677,#482979,#472b7a,#472e7c,#46307e,#46337f,#453581,#453882,#443a83,#433d84,#423f85,#414387,#404688,#3f4989,#3d4d8a,#3b518b,#39568c,#365b8d,#34608d,#32668e,#2f6c8e,#2c738e,#297a8e,#26828e,#238a8d,#20938c)"></div><div style="top:619.2px;background:linear-gradient(90deg,#471365,#481567,#481669,#481769,#48196b,#481b6d,#481d6e,#481e70,#482071,#482273,#482374,#482676,#482878,#472b7a,#472d7b,#47307d,#46327f,#453580,#453782,#443983,#433c84,#433e85,#424186,#404587,#3f4888,#3e4b8a,#3c508b,#39558c,#375a8c,#355f8d,#32648e,#2f6b8e,#2c728e,#29798e,#27808e,#23898d,#20918c)"></div><div style="top:622.2px;background:linear-gradient(90deg,#471265,#481467,#481668,#481769,#48186b,#481a6c,#481c6e,#481e6f,#481f71,#482172,#482374,#482575,#482777,#472a79,#472c7b,#472f7d,#46317e,#463480,#453681,#443982,#443b84,#433d85,#424086,#414387,#404788,#3e4a89,#3c4f8a,#3a548b,#38598c,#355e8d,#33638d,#306a8e,#2d708e,#2a778e,#277f8e,#24878e,#21908c)"></div><div style="top:625.2px;background:linear-gradient(90deg,#471265,#481466,#481568,#481669,#48186a,#481a6c,#481b6d,#481d6f,#481f70,#482072,#482273,#482475,#482777,#482979,#472b7a,#472e7c,#46307e,#46337f,#453581,#453882,#443a83,#433d84,#424085,#414287,#404588,#3f4989,#3d4d8a,#3a528b,#38578c,#365c8d,#33628d,#30688e,#2e6f8e,#2b768e,#287e8e,#24868e,#218e8d)"></div><div style="top:628.2px;background:linear-gradient(90deg,#471264,#481366,#481567,#481668,#48186a,#48196b,#481b6d,#481c6e,#481e70,#482071,#482173,#482474,#482676,#482878,#472b7a,#472d7c,#47307d,#46327f,#453580,#453781,#443983,#433c84,#433f85,#424186,#404487,#3f4888,#3d4c8a,#3b518b,#39568c,#375b8c,#34608d,#31678e,#2e6e8e,#2b758e,#287c8e,#25848e,#228d8d)"></div><div style="top:631.2px;background:linear-gradient(90deg,#471164,#471365,#481467,#481568,#481769,#48196b,#481a6c,#481c6e,#481d6f,#481f71,#482172,#482374,#482676,#482877,#472a79,#472c7b,#472f7d,#46317e,#463480,#453681,#443982,#443b84,#433e85,#424086,#414387,#3f4788,#3e4b89,#3c508b,#3a548b,#375a8c,#355f8d,#32658e,#2f6c8e,#2c738e,#297b8e,#26838e,#228c8d)"></div><div style="top:634.1px;background:linear-gradient(90deg,#471163,#471265,#481466,#481567,#481769,#48186a,#48196b,#481b6d,#481d6e,#481e70,#482072,#482273,#482575,#482777,#482979,#472b7a,#472e7c,#46307e,#46337f,#453581,#453882,#443a83,#433d84,#423f85,#414286,#404688,#3e4a89,#3c4f8a,#3a538b,#38588c,#355e8d,#32648d,#2f6b8e,#2c728e,#29798e,#26818e,#238a8d)"></div><div style="top:637.1px;background:linear-gradient(90deg,#471063,#471265,#481366,#481467,#481669,#48186a,#48196b,#481a6c,#481c6e,#481e6f,#482071,#482273,#482475,#482676,#482878,#472b7a,#472d7c,#47307d,#46327f,#453580,#453781,#443983,#433c84,#433e85,#424186,#404587,#3f4989,#3d4d8a,#3b528b,#38578c,#365c8d,#33638d,#30698e,#2d708e,#2a788e,#27808e,#23898e)"></div><div style="top:640.1px;background:linear-gradient(90deg,#471062,#471264,#471365,#481466,#481668,#481769,#48186a,#481a6c,#481b6d,#481d6f,#481f70,#482172,#482474,#482576,#482777,#472a79,#472c7b,#472f7d,#46317e,#463480,#453681,#443982,#443b84,#433d85,#424086,#414487,#3f4888,#3d4c8a,#3b508b,#39558c,#375b8d,#34618d,#31688e,#2e6f8e,#2b768e,#277f8e,#24878e)"></div><div style="top:643.1px;background:linear-gradient(90deg,#470f62,#471164,#471265,#481366,#481567,#481669,#48186a,#48196b,#481b6d,#481d6e,#481e70,#482072,#482374,#482575,#482777,#482979,#472c7b,#472e7c,#46307e,#46337f,#453581,#453882,#443a83,#433d84,#423f85,#414387,#404688,#3e4b89,#3c4f8a,#3a548b,#37598c,#345f8d,#32668e,#2e6d8e,#2b758e,#287d8e,#24868e)"></div><div style="top:646.1px;background:linear-gradient(90deg,#470f62,#471163,#471265,#471365,#481467,#481668,#481769,#48196b,#481a6c,#481c6e,#481e6f,#482071,#482273,#482475,#482676,#482978,#472b7a,#472d7c,#47307d,#46327f,#453580,#453781,#443983,#433c84,#433e85,#414286,#404588,#3e4989,#3d4e8a,#3a528b,#38588c,#355e8d,#32648d,#2f6b8e,#2c738e,#287c8e,#25858e)"></div><div style="top:649.1px;background:linear-gradient(90deg,#470f62,#471063,#471264,#471265,#481466,#481568,#481769,#48186a,#48196c,#481b6d,#481d6f,#481f71,#482273,#482374,#482676,#482878,#472b7a,#472d7b,#472f7d,#46317e,#463480,#453681,#443982,#443b83,#433d85,#424186,#404487,#3f4889,#3d4c8a,#3b518b,#39568c,#365c8d,#33628d,#30698e,#2d718e,#297a8e,#25838e)"></div><div style="top:652.1px;background:linear-gradient(90deg,#470f62,#471063,#471164,#471265,#481366,#481567,#481669,#48176a,#48196b,#481b6d,#481c6e,#481e70,#482172,#482374,#482575,#482777,#472a79,#472c7b,#472e7c,#46307e,#46337f,#453581,#453882,#443a83,#433d84,#424086,#414387,#3f4788,#3e4b89,#3c4f8a,#39558c,#375a8c,#34618d,#31688e,#2d708e,#2a788e,#26828e)"></div><div style="top:655.1px;background:linear-gradient(90deg,#470e61,#471062,#471163,#471264,#471365,#481466,#481668,#481769,#48186a,#481a6c,#481c6e,#481e6f,#482072,#482273,#482475,#482777,#482979,#472b7a,#472d7c,#47307d,#46327f,#463580,#453781,#443983,#433c84,#423f85,#414287,#404588,#3e4989,#3d4e8a,#3a538b,#38598c,#355f8d,#32668e,#2e6e8e,#2a778e,#26808e)"></div><div style="top:658.1px;background:linear-gradient(90deg,#470e61,#470f62,#471063,#471164,#471265,#481366,#481568,#481669,#48186a,#48196b,#481b6d,#481d6f,#482071,#482173,#482474,#482676,#482978,#472b7a,#472c7b,#472f7d,#46317e,#463480,#453681,#443982,#443b84,#433e85,#424186,#414487,#3f4888,#3d4c8a,#3b518b,#38578c,#365d8d,#32648d,#2f6c8e,#2b758e,#277f8e)"></div><div style="top:661.1px;background:linear-gradient(90deg,#470e61,#470f62,#471063,#471163,#471264,#471365,#481567,#481668,#481769,#48196b,#481b6d,#481d6e,#481f71,#482172,#482374,#482576,#482878,#472a79,#472b7a,#472e7c,#46317e,#46337f,#453681,#453882,#443b83,#433e85,#424086,#414387,#404788,#3e4b89,#3c4f8a,#39558b,#365b8c,#33628d,#2f6b8e,#2b748e,#277e8e)"></div><div style="top:664.0px;background:linear-gradient(90deg,#470e61,#470f62,#470f62,#471063,#471164,#471265,#481467,#481568,#481769,#48186b,#481a6c,#481c6e,#481e70,#482072,#482273,#482475,#482777,#482979,#472b7a,#472d7b,#47307d,#46337f,#453580,#453782,#443a83,#433d84,#423f85,#414286,#404588,#3f4989,#3d4e8a,#3a538b,#37598c,#34608d,#30698e,#2c728e,#287d8e)"></div><div style="top:667.0px;background:linear-gradient(90deg,#470e61,#470f62,#470f62,#471062,#471163,#471265,#481466,#481567,#481669,#48186a,#481a6c,#481c6e,#481e6f,#482071,#482173,#482474,#482676,#482878,#472a79,#472c7b,#472f7d,#46327f,#463480,#453781,#443983,#433c84,#433f85,#424186,#414487,#3f4788,#3d4c89,#3b518b,#38578c,#355e8d,#31678e,#2d718e,#287b8e)"></div><div style="top:670.0px;background:linear-gradient(90deg,#470e61,#470f61,#470f62,#470f62,#471063,#471264,#481366,#481467,#481668,#48186a,#48196b,#481b6d,#481d6f,#481f70,#482172,#482374,#482576,#482777,#482979,#472b7a,#472e7c,#46317e,#463480,#453681,#443982,#443b84,#433e85,#424085,#414287,#404688,#3e4a89,#3c4f8a,#39558c,#365c8d,#32658e,#2e6f8e,#297a8e)"></div><div style="top:673.0px;background:linear-gradient(90deg,#470e61,#470e61,#470f61,#470f61,#471062,#471164,#471365,#481466,#481568,#481769,#48196b,#481b6d,#481d6e,#481e70,#482071,#482273,#482475,#482677,#482878,#472b7a,#472e7c,#46317e,#46337f,#453681,#453882,#443b83,#433d84,#433e85,#424186,#414487,#3f4889,#3d4d8a,#3a538b,#375b8d,#33638d,#2e6d8e,#29798e)"></div></div>
<div class="hm" style="left:573px;top:0;width:314px"><div style="top:392.0px;background:linear-gradient(90deg,#2a798e,#29798e,#29798e,#297a8e,#297a8e,#297a8e,#297b8e,#297b8e,#297b8e,#287b8e,#287b8e,#287c8e,#287c8e,#297a8e,#2a798e,#2a778e,#2b768e,#2b748e,#2c738e,#2d718e,#2d6f8e,#2e6e8e,#2f6c8e,#2f6a8e,#30698e,#30698e,#306a8e,#306a8e,#2f6b8e,#2f6b8e,#2f6b8e,#2f6c8e,#2f6c8e,#2e6d8e,#2e6d8e,#2e6e8e,#2e6e8e,#2d718e,#2c748e,#2b768e,#2a798e,#297b8e,#277e8e,#26818e,#26838e,#25868e,#24888d,#238b8d,#228d8d,#24888d,#26838d,#287e8e,#2a798e,#2c748e,#2e6e8e,#30688d,#33638d,#355e8c,#38588b,#3a538b,#3d4d8a,#3d4c89,#3e4b89,#3e4a89,#3f4889,#3f4788,#404688,#404588,#404487,#414387,#414286,#424186,#424086)"></div><div style="top:395.0px;background:linear-gradient(90deg,#297a8e,#297a8e,#297b8e,#297b8e,#297b8e,#287c8e,#287c8e,#287c8e,#287d8e,#287d8e,#287d8e,#287d8e,#287d8e,#297b8e,#297a8e,#2a788e,#2a778e,#2b768e,#2c738e,#2d718e,#2d6f8e,#2e6e8e,#2f6c8e,#2f6b8e,#30688e,#30698e,#30698e,#306a8e,#306a8e,#2f6b8e,#2f6b8e,#2f6b8e,#2f6c8e,#2f6c8e,#2e6d8e,#2e6d8e,#2e6e8e,#2d718e,#2c738e,#2b768e,#2a788e,#297b8e,#277e8e,#26818e,#25838e,#24868e,#23888d,#238b8d,#218e8d,#24888d,#26838d,#287e8d,#2a798e,#2c748e,#2e6e8e,#31678d,#33628c,#365c8c,#38578b,#3b518a,#3e4b89,#3e4a89,#3e4988,#3f4888,#3f4788,#404587,#404587,#404487,#414387,#414286,#424186,#423f85,#423f85)"></div><div style="top:398.0px;background:linear-gradient(90deg,#297b8e,#287b8e,#287c8e,#287c8e,#287c8e,#287d8e,#287d8e,#287e8e,#277e8e,#277e8e,#277e8e,#277f8e,#277f8e,#287d8e,#297b8e,#297a8e,#2a788e,#2a768e,#2b748e,#2d718e,#2d6f8e,#2e6e8e,#2f6c8e,#306a8e,#31688e,#30688e,#30698e,#30698e,#306a8e,#306a8e,#2f6a8e,#2f6b8e,#2f6b8e,#2f6c8e,#2f6c8e,#2e6d8e,#2e6d8e,#2d708e,#2c738e,#2b758e,#2a788e,#297b8e,#277e8e,#26818e,#25848e,#24868d,#23898d,#228c8d,#218f8d,#24888d,#26838d,#287e8d,#2a798e,#2c748e,#2e6d8e,#31668d,#34608c,#365b8b,#39558a,#3b508a,#3e4888,#3f4888,#3f4788,#404687,#404587,#404487,#414387,#414386,#414286,#424086,#423f85,#433e85,#433e85)"></div><div style="top:401.0px;background:linear-gradient(90deg,#287c8e,#287d8e,#287d8e,#287d8e,#287e8e,#277e8e,#277f8e,#277f8e,#27808e,#27808e,#27808e,#27808e,#26818e,#277e8e,#287c8e,#297b8e,#29798e,#2a778e,#2b758e,#2c728e,#2d708e,#2e6e8e,#2f6c8e,#306a8e,#31678e,#31688e,#30688e,#30698e,#30698e,#306a8e,#306a8e,#306a8e,#2f6b8e,#2f6b8e,#2f6c8e,#2f6c8e,#2f6c8e,#2d708e,#2c738e,#2b758e,#2a788e,#297b8e,#277e8e,#26818e,#25848e,#24878d,#23898d,#228c8d,#21908c,#23898d,#26838d,#287e8d,#2a798d,#2c738e,#2e6d8e,#31668d,#345f8b,#375a8b,#39548a,#3c4d89,#3f4687,#3f4687,#404587,#404487,#414386,#414286,#414286,#414186,#424085,#423f85,#433e85,#433d84,#433d84)"></div><div style="top:404.0px;background:linear-gradient(90deg,#287d8e,#287e8e,#277e8e,#277f8e,#277f8e,#277f8e,#27808e,#26808e,#26818e,#26818e,#26818e,#26828e,#26828e,#27808e,#287e8e,#287c8e,#297a8e,#2a788e,#2b758e,#2c738e,#2d708e,#2e6e8e,#2f6c8e,#306a8e,#31678e,#31678e,#31688e,#30688e,#30698e,#30698e,#306a8e,#306a8e,#306a8e,#2f6b8e,#2f6b8e,#2f6b8e,#2f6c8e,#2e6f8e,#2c728e,#2b758e,#2a788e,#297b8e,#277e8e,#26818e,#25858e,#24878d,#238a8d,#228d8d,#21908c,#238a8d,#26848d,#287e8d,#2a798d,#2c738e,#2f6c8e,#32658d,#355e8b,#37588a,#3a5289,#3d4b88,#404486,#404486,#404386,#414286,#414185,#414185,#424085,#423f85,#423f85,#433e84,#433d84,#433c84,#433c84)"></div><div style="top:406.9px;background:linear-gradient(90deg,#277e8e,#277f8e,#277f8e,#27808e,#27808e,#26818e,#26818e,#26828e,#26828e,#26838e,#26838e,#25848e,#25848e,#26828e,#277f8e,#287d8e,#297b8e,#2a788e,#2b768e,#2c738e,#2d718e,#2e6e8e,#2f6c8e,#30698e,#31678e,#31678e,#31678e,#31688e,#30688e,#30698e,#30698e,#30698e,#306a8e,#306a8e,#2f6a8e,#2f6b8e,#2f6b8e,#2e6e8e,#2d728e,#2b758e,#2a788e,#297b8e,#277e8e,#26818e,#25858e,#24888d,#238b8d,#228e8d,#21918c,#238b8c,#25858d,#287f8d,#2a798d,#2c728e,#2f6c8e,#32658d,#355e8b,#38578a,#3b5088,#3e4987,#414285,#414185,#414185,#414085,#424085,#423f85,#423e84,#423e84,#433d84,#433d84,#433c84,#433b83,#443b83)"></div><div style="top:409.9px;background:linear-gradient(90deg,#277f8e,#27808e,#27808e,#26818e,#26828e,#26828e,#26838e,#25838e,#25848e,#25848e,#25858e,#25858e,#25868d,#25838e,#26818e,#277e8e,#287b8e,#29798e,#2a778e,#2c748e,#2d718e,#2e6e8e,#2f6b8e,#30698e,#31668e,#31678e,#31678e,#31678e,#31688e,#30688e,#30698e,#30698e,#30698e,#30698e,#306a8e,#306a8e,#2f6a8e,#2e6e8e,#2d718e,#2b748e,#2a788e,#297b8e,#277e8e,#26828e,#25858e,#24888d,#238b8d,#218f8c,#20928c,#238c8c,#25858d,#287f8d,#2a788d,#2d728e,#2f6b8e,#32648d,#355d8b,#385689,#3b4e88,#3e4786,#414085,#423f84,#423f84,#423e84,#423e84,#433d84,#433d84,#433c84,#433c83,#433b83,#443b83,#443a83,#443a83)"></div><div style="top:412.9px;background:linear-gradient(90deg,#26808e,#26818e,#26818e,#26828e,#26838e,#25838e,#25848e,#25848e,#25858e,#25868e,#24868d,#24878d,#24878d,#25858d,#26828e,#277f8e,#287c8e,#297a8e,#2a778e,#2b758e,#2c728e,#2e6e8e,#2f6b8e,#30688e,#32668e,#31668e,#31678e,#31678e,#31678e,#31688e,#31688e,#30688e,#30698e,#30698e,#30698e,#30698e,#306a8e,#2e6d8e,#2d708e,#2c748e,#2a788e,#297b8e,#277e8e,#26828e,#25858e,#24898d,#228c8d,#218f8c,#20938c,#228c8c,#25868c,#287f8d,#2a788d,#2d718e,#2f6b8e,#32648c,#355d8b,#395489,#3c4c87,#3f4585,#423e84,#423d84,#433d83,#433d83,#433c83,#433c83,#433b83,#443b83,#443a83,#443a83,#443a83,#443982,#443982)"></div><div style="top:415.9px;background:linear-gradient(90deg,#26818e,#26828e,#26838e,#25838e,#25848e,#25858e,#25858e,#24868e,#24868e,#24878d,#24888d,#23888d,#23898d,#24878d,#25848d,#27808e,#287d8e,#297a8e,#2a788e,#2b758e,#2c728e,#2e6f8e,#2f6b8e,#31688e,#32658e,#32668e,#31668e,#31668e,#31678e,#31678e,#31688e,#31688e,#30688e,#30688e,#30688e,#30698e,#30698e,#2f6c8e,#2d708e,#2c748e,#2a788e,#297b8e,#277e8e,#26828e,#25858d,#24898d,#228d8c,#21908c,#20938c,#228d8c,#25878c,#287f8d,#2a778d,#2d718e,#2f6a8e,#32638c,#365c8b,#395388,#3d4a86,#404384,#433c83,#433b83,#433b83,#433b83,#433b83,#443a83,#443a82,#443982,#443982,#443982,#443982,#443882,#453882)"></div><div style="top:418.9px;background:linear-gradient(90deg,#26838e,#25838e,#25848e,#25858e,#25858e,#24868e,#24878e,#24878e,#24888d,#23898d,#23898d,#238a8d,#238b8d,#24888d,#25858d,#26828e,#277e8e,#297b8e,#2a788e,#2b768e,#2c728e,#2e6f8e,#2f6b8e,#31688e,#32658e,#32658e,#32668e,#31668e,#31668e,#31678e,#31678e,#31678e,#31688e,#31688e,#31688e,#30688e,#30688e,#2f6c8e,#2d708e,#2c738e,#2a778e,#297b8e,#277f8e,#26828e,#25858d,#23898d,#228d8c,#21918c,#20948c,#228e8c,#25878c,#287f8d,#2a788d,#2d708e,#306a8e,#33638c,#365b8a,#3a5288,#3d4986,#414184,#443a82,#443982,#443982,#443982,#443982,#443982,#443882,#453881,#453781,#453781,#453781,#453781,#453781)"></div><div style="top:421.9px;background:linear-gradient(90deg,#25848e,#25848e,#25858e,#24868e,#24878e,#24878e,#24888e,#23898d,#23898d,#238a8d,#238b8d,#228c8d,#228c8d,#238a8d,#24868d,#26838e,#277f8e,#287c8e,#29798e,#2b768e,#2c728e,#2e6f8e,#2f6b8e,#31678e,#32648e,#32658e,#32658e,#32668e,#31668e,#31668e,#31678e,#31678e,#31678e,#31678e,#31678e,#31688e,#31688e,#2f6b8e,#2e6f8e,#2c738e,#2a778e,#297b8e,#277f8e,#26828e,#25868d,#238a8d,#228e8c,#21928c,#1f958b,#228e8c,#25878c,#287f8d,#2a788d,#2d708e,#306a8e,#33628c,#37598a,#3a5088,#3e4885,#413f83,#443781,#453781,#453781,#453781,#453781,#453781,#453781,#453681,#453681,#453681,#453681,#453681,#453681)"></div><div style="top:424.9px;background:linear-gradient(90deg,#25858e,#24858e,#24868e,#24878e,#24888e,#23898d,#23898d,#238a8d,#238b8d,#228c8d,#228c8d,#228d8d,#218e8d,#238b8d,#24878d,#25848e,#27808e,#287d8e,#297a8e,#2b768e,#2c738e,#2e6f8e,#2f6b8e,#31678e,#32648e,#32648e,#32658e,#32658e,#32658e,#32668e,#31668e,#31668e,#31668e,#31678e,#31678e,#31678e,#31678e,#2f6b8e,#2e6f8e,#2c738e,#2a778e,#297b8e,#277f8e,#26828e,#24868d,#238a8d,#228e8c,#20928c,#1f968b,#228f8c,#25878c,#287f8d,#2a788d,#2d708d,#30698e,#34618c,#375889,#3b4f87,#3e4685,#423e82,#453580,#453580,#453580,#453580,#453580,#453580,#453580,#453580,#453580,#453580,#453580,#453580,#453580)"></div><div style="top:427.9px;background:linear-gradient(90deg,#24868e,#24878e,#24888e,#23888e,#23898d,#238a8d,#238b8d,#228c8d,#228c8d,#228d8d,#228e8d,#218f8d,#21908c,#228c8d,#24888d,#25858d,#26818e,#287e8e,#297a8e,#2b768e,#2c738e,#2e6f8e,#2f6b8e,#31688e,#32648d,#32648e,#32648e,#32658e,#32658e,#32658e,#32668e,#32668e,#31668e,#31668e,#31668e,#31668e,#31668e,#2f6b8e,#2e6f8e,#2c738e,#2a778e,#297b8e,#277f8e,#26838e,#24878d,#238b8d,#228f8c,#20938c,#1f978b,#228f8c,#25878c,#28808c,#2b788d,#2d708d,#30698e,#345f8b,#375789,#3b4e86,#3f4584,#423c82,#46337f,#46337f,#46337f,#46337f,#46337f,#46337f,#46337f,#46337f,#46337f,#46337f,#46337f,#46337f,#463480)"></div><div style="top:430.9px;background:linear-gradient(90deg,#24878e,#24888d,#23898d,#238a8d,#238a8d,#238b8d,#228c8d,#228d8d,#228e8d,#228f8c,#218f8c,#21908c,#21918c,#228d8d,#238a8d,#25868d,#26838d,#277f8e,#297b8e,#2b768e,#2c738e,#2e6f8e,#2f6b8e,#31688e,#33638d,#33638d,#32648d,#32648e,#32648e,#32658e,#32658e,#32658e,#32658e,#32658e,#32668e,#32668e,#32668e,#306a8e,#2e6e8e,#2c728e,#2b768e,#297a8e,#277f8e,#26838e,#24878d,#238b8c,#228f8c,#20938b,#1f978b,#228f8b,#25878c,#28808c,#2b788d,#2d718d,#31688e,#345e8a,#385588,#3b4c86,#3f4483,#423b81,#46317d,#46317e,#46317e,#46317e,#46317e,#46317e,#46327e,#46327f,#46327f,#46327f,#46327f,#46327f,#46337f)"></div><div style="top:433.9px;background:linear-gradient(90deg,#24888d,#23898d,#238a8d,#238b8d,#228c8d,#228d8d,#228e8d,#228f8c,#228f8c,#21908c,#21918c,#21928c,#21938b,#228e8c,#238b8d,#25878d,#26848d,#27808e,#287c8e,#2a778e,#2c738e,#2e6f8e,#2f6b8e,#31688e,#33638d,#33638d,#33638d,#33648d,#32648e,#32648e,#32648e,#32648e,#32658e,#32658e,#32658e,#32658e,#32658e,#306a8e,#2e6e8e,#2c728e,#2b768e,#297a8e,#277f8e,#26848d,#24888d,#238c8c,#228f8c,#20948b,#1f988a,#228f8b,#25878c,#28808c,#2b788d,#2e708d,#31688e,#345d8a,#385487,#3b4b85,#3f4282,#433980,#462e7b,#462f7c,#462f7c,#462f7c,#462f7c,#462f7c,#46307d,#46317d,#46317e,#46317e,#46317e,#46317e,#46327e)"></div><div style="top:436.8px;background:linear-gradient(90deg,#23898d,#238a8d,#238b8d,#228c8d,#228d8d,#228e8d,#228f8c,#21908c,#21918c,#21928c,#21928c,#21938b,#21948b,#22908c,#238c8c,#24888d,#26858d,#27818e,#287c8e,#2a778e,#2c738e,#2e6f8e,#2f6c8e,#31678e,#33628d,#33638d,#33638d,#33638d,#33638d,#33648d,#32648d,#32648d,#32648d,#32648e,#32648e,#32648e,#32648e,#30698e,#2e6e8e,#2d728e,#2b768e,#297a8e,#277f8e,#26848d,#24888d,#238c8c,#22908c,#20948b,#1f998a,#22908b,#25888c,#28808c,#2b788c,#2e708d,#31678e,#355c8a,#385286,#3c4a84,#3f4181,#43377e,#462c7a,#462d7a,#462d7b,#462d7b,#462d7b,#462e7b,#462e7c,#462f7c,#462f7d,#462f7d,#462f7d,#46307d,#46317e)"></div><div style="top:439.8px;background:linear-gradient(90deg,#238b8d,#228c8d,#228d8d,#228d8d,#228e8c,#218f8c,#21908c,#21918c,#21928b,#21938b,#21948b,#21958b,#21968b,#22928b,#238d8c,#24898c,#25868d,#27818d,#287d8e,#2a788e,#2c738e,#2e6f8e,#2f6b8e,#31678d,#33628d,#33628d,#33628d,#33638d,#33638d,#33638d,#33638d,#33638d,#33638d,#33648d,#33648d,#32648d,#32648d,#30698e,#2e6d8e,#2d718e,#2b768e,#297a8e,#277f8e,#26848d,#24888d,#238c8c,#22908c,#20958b,#1f9a8a,#22918b,#25888b,#28808c,#2b788c,#2e6f8d,#31678e,#355c8a,#385186,#3c4883,#3f3f80,#43347c,#472a78,#472a78,#472b79,#472b79,#472b79,#472c7a,#472d7b,#472d7b,#472e7c,#472e7c,#462e7c,#462f7c,#462f7d)"></div><div style="top:442.8px;background:linear-gradient(90deg,#228c8d,#228d8d,#228e8c,#228f8c,#21908c,#21918c,#21928c,#21938b,#21948b,#21958b,#20968b,#20978a,#20988a,#22938b,#238f8c,#248b8c,#25868d,#26828d,#287d8e,#2a798e,#2c748e,#2e708e,#2f6b8e,#31668d,#33628d,#33628d,#33628d,#33628d,#33628d,#33628d,#33638d,#33638d,#33638d,#33638d,#33638d,#33638d,#33638d,#31688e,#2f6d8e,#2d718e,#2b768e,#297a8e,#277f8e,#26848d,#24888d,#238d8c,#22918b,#20968a,#1f9b8a,#22928a,#25898b,#28808c,#2b788c,#2e6f8d,#31668e,#355b8a,#395186,#3c4782,#403d7e,#43327a,#472776,#472877,#472977,#472978,#472a78,#472a79,#472b79,#472c7a,#472c7a,#472d7b,#472d7b,#472e7c,#472e7c)"></div><div style="top:445.8px;background:linear-gradient(90deg,#228d8d,#228e8d,#218f8c,#21908c,#21918c,#21928c,#20938b,#20948b,#20958b,#20968a,#20978a,#20988a,#20998a,#21958a,#23908b,#248c8c,#25878d,#26838d,#277e8e,#29798e,#2b758e,#2e708e,#306b8e,#32668d,#34618d,#34618d,#34618d,#33628d,#33628d,#33628d,#33628d,#33628d,#33628d,#33628d,#33628d,#33628d,#33628d,#31678d,#2f6c8e,#2d718e,#2b768e,#297b8e,#277f8e,#26848d,#24888d,#238d8c,#22928b,#20978a,#1f9b89,#22928a,#258a8b,#28808c,#2b778c,#2f6e8d,#32668e,#355b8a,#395085,#3c4581,#403a7c,#433078,#472574,#472675,#472675,#472776,#472877,#472978,#472978,#472a79,#472b79,#472b7a,#472c7a,#472d7b,#472d7b)"></div><div style="top:448.8px;background:linear-gradient(90deg,#228e8d,#218f8c,#21908c,#21918c,#21938c,#20948b,#20958b,#20968b,#20978b,#20988a,#20998a,#209a89,#209b89,#21978a,#22928b,#248d8c,#25888d,#26838d,#277f8e,#297a8e,#2b758e,#2d708e,#306a8e,#32658d,#34618d,#34618d,#34618d,#34618d,#34618d,#34618d,#34618d,#33628d,#33628d,#33628d,#33628d,#33628d,#33628d,#31678d,#2f6b8e,#2d718e,#2b768e,#297b8e,#277f8e,#26848d,#24898d,#238e8c,#22938b,#20978a,#1f9c89,#22938a,#258a8b,#28818b,#2c778c,#2f6e8d,#32658e,#355a8a,#395085,#3c4480,#40387b,#442d77,#472372,#472373,#472474,#472575,#472676,#472776,#472877,#472877,#472978,#472a79,#472b7a,#472c7a,#472c7b)"></div><div style="top:451.8px;background:linear-gradient(90deg,#218f8c,#21908c,#21918c,#20938c,#20948b,#20958b,#20968b,#20978b,#20988a,#20998a,#209b89,#209c89,#209d89,#219889,#22938a,#238e8b,#25898d,#26848d,#277f8e,#297b8e,#2b768e,#2d708e,#306a8d,#32658d,#34608d,#34608d,#34618d,#34618d,#34618d,#34618d,#34618d,#34618d,#34618d,#34618d,#34618d,#34618d,#34618d,#32668d,#306b8e,#2d708e,#2b768e,#297b8e,#277f8e,#26848d,#24898d,#238e8c,#22938b,#20988a,#1f9d89,#22948a,#258b8a,#28818b,#2c778c,#2f6d8d,#32658e,#365a89,#394f85,#3d427f,#403679,#442b75,#472071,#472171,#472272,#472373,#472474,#472575,#472676,#472776,#472777,#472978,#472a79,#472b7a,#472b7a)"></div><div style="top:454.8px;background:linear-gradient(90deg,#21908c,#20918c,#20938c,#20948b,#20958b,#20968b,#1f978b,#1f988a,#1f9a8a,#209b89,#209c89,#209d88,#209e88,#219a89,#22958a,#238f8b,#248a8c,#25848d,#27808e,#297b8e,#2b768e,#2d708e,#306a8d,#32658d,#34608d,#34608d,#34608d,#34608d,#34608d,#34608d,#34608d,#34608d,#34608d,#34608d,#34608d,#34608d,#34608d,#32658d,#306a8e,#2d708e,#2b758e,#297b8e,#277f8e,#25848d,#24898c,#238f8b,#21948a,#209989,#1f9e89,#229589,#258b8a,#29818b,#2c778c,#2f6d8d,#32648e,#365989,#394d84,#3d417e,#403578,#442973,#471e6f,#481f6f,#482071,#482172,#482273,#482474,#482474,#482575,#482676,#472777,#472978,#472a79,#472a79)"></div><div style="top:457.8px;background:linear-gradient(90deg,#20928c,#20938c,#20948b,#20958b,#1f968b,#1f988a,#1f998a,#1f9a8a,#1f9b89,#1f9c89,#209e88,#209f88,#20a088,#219b88,#22968a,#23908b,#248b8c,#25858d,#26818e,#287c8e,#2b768e,#2d708e,#306a8d,#32648d,#345f8d,#34608d,#34608d,#34608d,#34608d,#34608d,#34608d,#34608d,#34608d,#34608d,#34608d,#34608d,#34608d,#32658d,#306a8d,#2e708e,#2b758e,#297b8e,#27808e,#25848d,#248a8c,#238f8b,#21948a,#209a89,#1f9e88,#229589,#258b8a,#29818b,#2c778c,#2f6d8d,#33648d,#365989,#3a4c83,#3d407d,#413377,#442772,#481c6d,#481d6e,#481e6f,#481f70,#482071,#482273,#482373,#482374,#482575,#482676,#482777,#482878,#472979)"></div><div style="top:460.8px;background:linear-gradient(90deg,#20938c,#20948c,#1f958b,#1f978b,#1f988b,#1f998a,#1f9a8a,#1f9b89,#1f9d89,#1f9e88,#1f9f88,#1fa088,#20a287,#219c88,#229789,#23918b,#248c8c,#25868d,#26818e,#287c8e,#2b768e,#2d708e,#306a8d,#32658d,#355f8d,#355f8d,#355f8d,#355f8d,#355f8d,#355f8d,#355f8d,#355f8d,#355f8d,#355f8d,#355f8d,#355f8d,#355f8d,#32648d,#306a8d,#2e6f8e,#2b758e,#297a8e,#27808e,#25858d,#248a8c,#238f8b,#21958a,#209a89,#1f9f88,#229589,#258b8a,#29818b,#2c778c,#2f6d8d,#33638d,#365788,#3a4b82,#3d3e7c,#413277,#442571,#48196b,#481b6c,#481c6e,#481d6f,#481e70,#482071,#482172,#482273,#482374,#482575,#482676,#482777,#482878)"></div><div style="top:463.8px;background:linear-gradient(90deg,#20948c,#1f958b,#1f968b,#1f978b,#1f998a,#1f9a8a,#1e9b8a,#1f9c89,#1f9e89,#1f9f88,#1fa088,#1fa187,#1fa287,#209d88,#229889,#23928a,#248d8c,#25878d,#26828e,#287c8e,#2b778e,#2d718e,#306b8d,#32658d,#34608d,#34608d,#34608d,#34608d,#34608d,#34608d,#345f8d,#345f8d,#345f8d,#345f8d,#345f8d,#345f8d,#345f8d,#32648d,#306a8d,#2e6f8e,#2b758e,#297a8e,#277f8e,#26848d,#248a8c,#238f8b,#22948a,#209a89,#1f9f88,#229589,#268b8a,#29818b,#2c778c,#306c8d,#33638d,#365788,#3a4a82,#3d3e7c,#413176,#452570,#48196b,#481a6c,#481b6d,#481d6e,#481e70,#481f71,#482072,#482273,#482374,#482475,#482576,#482777,#482878)"></div><div style="top:466.7px;background:linear-gradient(90deg,#20958b,#1f968b,#1f978b,#1f988a,#1f998a,#1f9b8a,#1f9c89,#1f9d89,#1f9e89,#1f9f88,#1fa088,#1fa287,#20a387,#209e88,#219889,#23938a,#248d8c,#25888d,#26838e,#287e8e,#2a788e,#2d728e,#2f6c8d,#31678d,#34618d,#34618d,#34618d,#34618d,#34618d,#34618d,#34618d,#34618d,#34618d,#34618d,#34618d,#34618d,#34608d,#32658d,#306a8d,#2d708e,#2b758e,#297b8e,#277f8e,#26838e,#24898c,#238e8b,#22938a,#209989,#1f9d89,#239489,#268a8a,#297f8b,#2d758c,#306b8d,#33628d,#375788,#3a4a82,#3e3e7d,#413277,#452571,#481a6c,#481b6d,#481c6e,#481e6f,#481f70,#482071,#482172,#482273,#482374,#482575,#482676,#482777,#482878)"></div><div style="top:469.7px;background:linear-gradient(90deg,#1f968b,#1f968b,#1f988b,#1f998a,#1f9a8a,#1f9b8a,#1f9c89,#1f9d89,#1f9e89,#1f9f88,#1fa188,#1fa287,#20a387,#209e88,#219989,#22938a,#238e8c,#24888d,#25848e,#277f8e,#2a798e,#2c738e,#2e6e8d,#31688d,#33638d,#33638d,#33638d,#33638d,#33638d,#33638d,#33628d,#33628d,#33628d,#33628d,#33628d,#33628d,#34618d,#32658d,#306b8e,#2d708e,#2b768e,#297b8e,#277f8e,#26838e,#25888d,#238d8c,#22928b,#21978a,#209b89,#23928a,#26888a,#2a7e8b,#2d748c,#306a8d,#33628d,#375789,#3a4b83,#3e3e7d,#413277,#452672,#481b6d,#481c6e,#481d6f,#481e70,#482071,#482172,#482273,#482373,#482474,#482575,#482676,#482777,#482878)"></div><div style="top:472.7px;background:linear-gradient(90deg,#1f968b,#1f978b,#1f988a,#1f998a,#1f9b8a,#1f9c89,#1f9d89,#1f9d89,#1f9e88,#1fa088,#1fa187,#1fa287,#20a387,#209e88,#219989,#22948a,#238e8b,#24898d,#25858e,#27808e,#297a8e,#2b758e,#2e6f8d,#306a8d,#32658d,#32648d,#32648d,#32648d,#32648d,#32648d,#33648d,#33638d,#33638d,#33638d,#33638d,#33638d,#33638d,#31678d,#2f6b8e,#2d708e,#2b768e,#297a8e,#277e8e,#26828e,#25868d,#248c8c,#22918b,#21958a,#20998a,#23908a,#26878b,#2a7d8b,#2d738c,#306a8d,#34618d,#375688,#3a4b83,#3e3f7e,#413278,#452773,#481c6e,#481d6f,#481e6f,#481f71,#482172,#482273,#482273,#482374,#482475,#482576,#482777,#482878,#482878)"></div><div style="top:475.7px;background:linear-gradient(90deg,#1f978b,#1f988a,#1f998a,#1f9a8a,#1f9b89,#1f9c89,#1f9d89,#1f9e89,#1f9f88,#1fa088,#1fa187,#1fa287,#20a387,#209e88,#219989,#22948a,#238f8b,#248a8d,#25858e,#27808e,#297c8e,#2b768e,#2d708d,#2f6b8e,#31678e,#31668d,#32668d,#32668d,#32668d,#32658d,#32658d,#32658d,#32648d,#32648d,#32648d,#32648d,#33648d,#31688e,#2f6c8e,#2d718e,#2b768e,#297a8e,#277e8e,#26828e,#25868d,#248b8c,#23908b,#21948b,#20978a,#248f8a,#27868b,#2a7c8c,#2d728c,#31698d,#34618d,#375688,#3a4b84,#3e3f7e,#413379,#452874,#481e6f,#481e70,#481f70,#482071,#482172,#482273,#482374,#482474,#482575,#482676,#482777,#482878,#482978)"></div><div style="top:478.7px;background:linear-gradient(90deg,#1f988a,#1f998a,#1f9a8a,#1f9b8a,#1f9c89,#1f9d89,#1f9d89,#1f9e88,#1f9f88,#1fa088,#1fa187,#1fa287,#20a387,#209e88,#219989,#22958a,#23908b,#238b8c,#24868e,#26818e,#287c8e,#2a778e,#2d728e,#2f6d8e,#31688e,#31688e,#31688e,#31678e,#31678e,#31678e,#31668e,#31668e,#32668e,#32668e,#32658e,#32658e,#32658d,#30698e,#2f6d8e,#2d718e,#2b758e,#297a8e,#287e8e,#26818e,#25858d,#248a8c,#238e8c,#22928b,#21968a,#248d8b,#27848b,#2a7b8c,#2e728c,#31698d,#34608d,#375588,#3b4b84,#3e3f7f,#41347a,#452975,#481f70,#482071,#482071,#482172,#482273,#482374,#482474,#482475,#482576,#482676,#482777,#482878,#482978)"></div><div style="top:481.7px;background:linear-gradient(90deg,#1f998a,#1f9a8a,#1f9b8a,#1f9b89,#1f9c89,#1f9d89,#1f9e89,#1f9f88,#1fa088,#1fa088,#1fa187,#20a287,#20a387,#209e88,#219a89,#22958a,#22918b,#238c8c,#24878e,#26828e,#287d8e,#2a798e,#2c748e,#2e6f8e,#306a8e,#306a8e,#30698e,#30698e,#30698e,#31688e,#31688e,#31688e,#31678e,#31678e,#31668e,#31668e,#32668e,#306a8e,#2e6e8e,#2d718e,#2b758e,#29798e,#287d8e,#27818e,#25858d,#24898d,#238c8c,#22908c,#21948b,#248b8b,#27828c,#2b7a8c,#2e718c,#31688d,#34608d,#385588,#3b4a84,#3e407f,#41357b,#452b76,#482071,#482172,#482172,#482273,#482373,#482374,#482475,#482575,#482676,#482777,#482777,#482878,#482979)"></div><div style="top:484.7px;background:linear-gradient(90deg,#1f9a8a,#1f9b8a,#1f9c89,#1f9c89,#1f9d89,#1f9e89,#1f9e88,#1f9f88,#1fa088,#1fa188,#1fa187,#20a287,#20a387,#209e88,#219a89,#22958a,#22918b,#238d8c,#24888e,#26838e,#287e8e,#297a8e,#2b768e,#2d718e,#2f6c8e,#2f6b8e,#2f6b8e,#306a8e,#306a8e,#306a8e,#30698e,#30698e,#30698e,#31688e,#31688e,#31678e,#31678e,#2f6b8e,#2e6f8e,#2c728e,#2b758e,#2a798e,#287d8e,#27818e,#26858d,#25878d,#248a8d,#228e8c,#21928b,#25898c,#28808c,#2b798c,#2e718c,#31688d,#355f8d,#385488,#3b4a84,#3e4080,#41377c,#452c77,#482172,#482273,#482373,#482374,#482374,#482475,#482575,#482676,#482777,#482777,#482877,#482878,#482979)"></div><div style="top:487.7px;background:linear-gradient(90deg,#1f9b8a,#1f9c89,#1f9c89,#1f9d89,#1f9d89,#1f9e89,#1f9f88,#1fa088,#1fa088,#1fa187,#1fa187,#20a287,#20a387,#209e88,#219a89,#21968a,#22928b,#238e8c,#23898d,#25848d,#277f8d,#297b8e,#2a778e,#2c728e,#2e6d8e,#2e6d8e,#2f6d8e,#2f6c8e,#2f6b8e,#2f6b8e,#2f6b8e,#306a8e,#306a8e,#30698e,#30698e,#30688e,#31688e,#2f6c8e,#2d708e,#2c728e,#2b758e,#2a788e,#287c8e,#27808e,#26848d,#25868d,#24898d,#238c8c,#22908c,#25878c,#287f8d,#2b778c,#2e708c,#32678d,#355f8d,#385488,#3b4984,#3e4080,#41377c,#452d78,#482273,#482374,#482474,#482474,#482475,#482575,#482676,#482677,#482777,#482877,#482878,#482978,#482a79)"></div><div style="top:490.7px;background:linear-gradient(90deg,#1f9c89,#1f9c89,#1f9d89,#1f9d89,#1f9e89,#1f9e88,#1f9f88,#1fa088,#1fa188,#1fa187,#1fa287,#20a287,#20a386,#209e88,#219a89,#21968a,#22938b,#228e8c,#238a8d,#25858d,#27808d,#287c8e,#2a788e,#2c748e,#2e6f8e,#2e6f8e,#2e6e8e,#2e6e8e,#2e6d8e,#2f6c8e,#2f6c8e,#2f6c8e,#2f6b8e,#2f6b8e,#306a8e,#30698e,#30698e,#2e6d8e,#2d708e,#2c728e,#2b758e,#2a788e,#287c8e,#27808e,#26838d,#25858d,#24888d,#238b8d,#228e8c,#25868d,#287e8d,#2c768d,#2f6f8d,#32678d,#355e8d,#385388,#3b4a84,#3e4181,#42387d,#452e79,#482474,#482475,#482575,#482575,#482575,#482576,#482676,#482777,#482877,#482878,#482878,#482978,#482a79)"></div><div style="top:493.6px;background:linear-gradient(90deg,#1f9c89,#1f9d89,#1f9e89,#1f9e89,#1f9f88,#1f9f88,#1fa088,#1fa188,#1fa187,#1fa287,#1fa287,#20a287,#20a386,#209f88,#219b89,#21978a,#22938b,#228f8c,#238b8d,#25868d,#26828e,#287e8e,#297a8e,#2b768e,#2d718e,#2d708e,#2d708e,#2d6f8e,#2e6f8e,#2e6e8e,#2e6d8e,#2e6d8e,#2f6c8e,#2f6c8e,#2f6b8e,#2f6a8e,#306a8e,#2e6e8e,#2d708e,#2c738e,#2b758e,#2a788e,#287c8e,#277f8e,#26828e,#25848e,#24878d,#23898d,#228d8d,#26848d,#297d8d,#2c758d,#2f6e8d,#32668d,#355e8d,#395388,#3c4a85,#3f4181,#42387d,#452f7a,#482575,#482576,#482676,#482676,#482676,#482676,#482777,#482877,#482878,#482878,#482978,#482979,#482a79)"></div><div style="top:496.6px;background:linear-gradient(90deg,#1f9d89,#1f9e89,#1f9e89,#1f9f88,#1f9f88,#1fa088,#1fa088,#1fa187,#1fa187,#1fa287,#20a287,#20a387,#20a386,#209f88,#219b89,#21978a,#21938b,#22908c,#228b8d,#24878d,#26838e,#277f8e,#297b8e,#2a778e,#2c738e,#2c728e,#2d718e,#2d718e,#2d708e,#2d6f8e,#2e6f8e,#2e6e8e,#2e6e8e,#2e6d8e,#2f6c8e,#2f6c8e,#2f6b8e,#2e6e8e,#2d718e,#2c738e,#2b768e,#2a788e,#297b8e,#287e8e,#27818e,#26838e,#25868e,#24888d,#238b8d,#26838d,#297b8d,#2c748d,#2f6c8d,#32658d,#365d8d,#395489,#3c4a85,#3f4182,#42387e,#452f7a,#482676,#482676,#482677,#482777,#482777,#482777,#482777,#482878,#482878,#482978,#482979,#482a79,#472a79)"></div><div style="top:499.6px;background:linear-gradient(90deg,#1f9e89,#1f9f88,#1f9f88,#1f9f88,#1fa088,#1fa088,#1fa188,#1fa187,#1fa287,#1fa287,#20a387,#20a387,#20a386,#20a087,#219c89,#21988a,#21948b,#22908c,#228c8d,#23888d,#25848d,#27808e,#287c8e,#2a788e,#2b748e,#2c748e,#2c738e,#2c728e,#2c728e,#2d718e,#2d708e,#2d708e,#2e6f8e,#2e6e8e,#2e6e8e,#2e6d8e,#2f6c8e,#2e6e8e,#2d718e,#2c738e,#2b768e,#2a798e,#297b8e,#287d8e,#277f8e,#26828e,#25848e,#24878e,#23898d,#26828d,#297a8d,#2c738d,#306b8d,#33648d,#365c8d,#395489,#3c4b86,#3f4282,#42397e,#45307b,#482777,#482777,#482777,#482877,#482878,#482878,#482878,#482878,#482978,#482979,#482a79,#472a79,#472a7a)"></div><div style="top:502.6px;background:linear-gradient(90deg,#1f9f88,#1f9f88,#1fa088,#1fa088,#1fa188,#1fa187,#1fa187,#1fa287,#1fa287,#20a287,#20a387,#20a386,#20a486,#20a087,#209c88,#21988a,#21948b,#22918c,#228d8d,#238a8d,#25868d,#26828e,#287d8e,#29798e,#2b768e,#2b758e,#2b748e,#2c748e,#2c738e,#2c728e,#2c728e,#2d718e,#2d708e,#2d6f8e,#2e6f8e,#2e6e8e,#2e6d8e,#2e6f8e,#2d718e,#2c748e,#2a768e,#29798e,#297a8e,#287c8e,#277e8e,#26818e,#25838e,#24868e,#24878e,#27818d,#2a798d,#2d728d,#306a8d,#33638d,#365c8d,#39548a,#3c4b86,#3f4282,#42397f,#45307b,#482878,#482878,#482878,#482978,#482978,#482978,#482978,#482978,#482979,#482a79,#472a79,#472b7a,#472b7a)"></div><div style="top:505.6px;background:linear-gradient(90deg,#1fa088,#1fa088,#1fa088,#1fa187,#1fa187,#20a287,#20a287,#20a287,#20a287,#20a387,#20a386,#20a486,#20a486,#20a187,#209d88,#219989,#21958b,#21918c,#218e8d,#238b8d,#24878d,#26838d,#277f8e,#297b8e,#2a788e,#2a778e,#2b768e,#2b758e,#2b758e,#2c748e,#2c738e,#2c728e,#2d718e,#2d718e,#2d708e,#2d6f8e,#2e6e8e,#2d6f8e,#2c728e,#2b748e,#2a778e,#29798e,#297a8e,#297b8e,#287d8e,#27808e,#26828e,#25858e,#24868e,#277f8d,#2a788d,#2d718d,#31698d,#34628d,#365b8d,#39548a,#3c4b86,#3f4283,#42397f,#45317b,#472979,#472979,#472979,#472979,#472a79,#472a79,#472a79,#482979,#472a79,#472a79,#472b7a,#472b7a,#472b7a)"></div><div style="top:508.6px;background:linear-gradient(90deg,#20a187,#20a187,#20a187,#20a287,#20a287,#20a287,#20a287,#20a287,#20a387,#20a386,#20a486,#20a486,#20a486,#20a187,#209d88,#219989,#21958a,#21928c,#218f8d,#228c8d,#24888d,#25848d,#27808e,#287c8e,#29798e,#2a788e,#2a778e,#2a778e,#2b768e,#2b758e,#2b748e,#2c738e,#2c728e,#2c728e,#2d718e,#2d708e,#2d6f8e,#2d708e,#2c728e,#2b748e,#2a778e,#2a788e,#297a8e,#297b8e,#287c8e,#277f8e,#26818e,#26838e,#25848e,#287e8d,#2b778d,#2e6f8d,#31688d,#34618d,#375b8d,#39548a,#3c4c87,#3f4383,#423a7f,#45327c,#472a79,#472a79,#472a79,#472a79,#472b7a,#472a7a,#472a79,#472a79,#472a79,#472b7a,#472b7a,#472b7a,#472b7a)"></div><div style="top:511.6px;background:linear-gradient(90deg,#20a287,#20a287,#20a287,#20a287,#20a387,#20a387,#20a386,#20a386,#20a386,#20a386,#20a486,#20a486,#20a486,#20a187,#209e88,#219a89,#21968a,#21938b,#21908c,#228c8d,#23898d,#25858d,#26818d,#287e8e,#297b8e,#297a8e,#29798e,#2a788e,#2a778e,#2a778e,#2b768e,#2b758e,#2c748e,#2c738e,#2c728e,#2d718e,#2d708e,#2c718e,#2c738e,#2b758e,#2a778e,#2a788e,#29798e,#297a8e,#287c8e,#287e8e,#27808e,#26818e,#26828e,#297c8d,#2b768d,#2e6e8d,#31678d,#34618d,#375a8c,#39538a,#3c4c87,#3f4383,#423a80,#44337d,#472c7a,#472b7a,#472b7a,#472b7a,#472b7a,#472b7a,#472b7a,#472b7a,#472b7a,#472b7a,#472b7a,#472b7a,#472b7a)"></div><div style="top:514.6px;background:linear-gradient(90deg,#20a287,#20a387,#20a386,#20a386,#20a386,#20a386,#20a486,#20a486,#20a486,#20a486,#20a486,#20a486,#20a486,#20a187,#209e88,#209a89,#21978a,#21948b,#21918c,#228d8d,#238a8d,#24878d,#26838d,#27808e,#287c8e,#287c8e,#297b8e,#297a8e,#2a798e,#2a788e,#2a778e,#2b768e,#2b758e,#2b748e,#2c738e,#2c728e,#2d718e,#2c738e,#2c748e,#2b758e,#2a778e,#2a788e,#29798e,#297a8e,#297b8e,#287d8e,#277e8e,#277f8e,#26818e,#297a8e,#2c748d,#2f6d8d,#32678d,#34608d,#375a8c,#3a528a,#3c4b87,#3f4384,#423c81,#44347e,#472d7b,#472d7b,#472c7b,#472c7b,#472c7b,#472c7b,#472c7a,#472c7a,#472c7a,#472c7a,#472c7a,#472b7a,#472b7a)"></div><div style="top:517.6px;background:linear-gradient(90deg,#21a386,#21a386,#21a486,#21a486,#20a486,#20a486,#20a486,#20a486,#20a486,#20a486,#20a486,#20a486,#20a486,#20a187,#209e88,#209b89,#20988a,#20958b,#20918c,#228e8c,#238b8d,#24888d,#25858d,#26818e,#277e8e,#287d8e,#287c8e,#297b8e,#297a8e,#29798e,#2a788e,#2a778e,#2a768e,#2b758e,#2b748e,#2c738e,#2c728e,#2c748e,#2b758e,#2b758e,#2b768e,#2a778e,#2a788e,#297a8e,#297b8e,#287c8e,#287c8e,#287e8e,#277f8e,#2a788e,#2d728d,#2f6c8d,#32668d,#35608d,#37598c,#3a5289,#3c4b87,#3f4484,#413d81,#44357f,#472e7c,#472e7c,#472d7b,#472d7b,#472d7b,#472d7b,#472c7b,#472c7b,#472c7b,#472c7b,#472c7b,#472c7b,#472c7a)"></div><div style="top:520.6px;background:linear-gradient(90deg,#21a486,#21a486,#21a486,#21a486,#21a486,#21a486,#21a586,#21a586,#21a586,#21a586,#20a486,#20a486,#20a486,#20a187,#209e88,#209b89,#20998a,#20968b,#20928c,#218f8c,#238c8d,#23898d,#24868d,#26838e,#27808e,#277f8e,#287e8e,#287d8e,#287c8e,#297b8e,#297a8e,#2a798e,#2a788e,#2a778e,#2b758e,#2b748e,#2c738e,#2b758e,#2b768e,#2b768e,#2b768e,#2a778e,#2a788e,#29798e,#297a8e,#297b8e,#297b8e,#287c8e,#287d8e,#2b778e,#2d708d,#306b8d,#32668d,#355f8d,#38598c,#3a5189,#3d4a87,#3f4484,#413e82,#44367f,#462f7c,#472f7c,#472f7c,#472e7c,#472e7c,#472d7c,#472d7b,#472d7b,#472d7b,#472d7b,#472c7b,#472c7b,#472c7b)"></div><div style="top:523.5px;background:linear-gradient(90deg,#21a585,#21a585,#21a585,#21a585,#21a585,#21a585,#21a585,#21a585,#21a585,#21a586,#20a586,#20a586,#20a586,#20a187,#209e88,#209c89,#20998a,#20968b,#20938c,#21908c,#228d8c,#238a8d,#24888d,#25858e,#26818e,#26808e,#277f8e,#277e8e,#287d8e,#287c8e,#297b8e,#297a8e,#29798e,#2a788e,#2a768e,#2b758e,#2b758e,#2b768e,#2a768e,#2b768e,#2b768e,#2a778e,#2a788e,#29798e,#297a8e,#29798e,#29798e,#297a8e,#297b8e,#2b758e,#2e6f8e,#306a8d,#32658d,#355f8c,#38588c,#3a5189,#3d4a87,#3f4485,#413f83,#443880,#46307d,#46307d,#46307d,#472f7d,#472e7c,#472e7c,#472e7c,#472e7c,#472e7c,#472d7b,#472c7b,#472c7b,#472c7b)"></div><div style="top:526.5px;background:linear-gradient(90deg,#22a685,#22a685,#21a685,#21a685,#21a685,#21a685,#21a685,#21a685,#21a685,#21a585,#21a586,#21a586,#20a586,#21a287,#209f88,#209c89,#209a8a,#20978b,#20948c,#21918c,#228e8c,#238c8d,#23898d,#24868e,#25838e,#26828e,#26818e,#27808e,#277e8e,#287d8e,#287c8e,#287b8e,#297a8e,#29798e,#2a788e,#2a768e,#2b768e,#2a778e,#2a778e,#2a768e,#2b768e,#2b768e,#2a778e,#2a788e,#2a798e,#2a788e,#2a788e,#2a788e,#297a8e,#2c738e,#2e6e8e,#31698d,#33648d,#355e8c,#38588c,#3b5089,#3d4a87,#3f4585,#413f83,#433981,#46317e,#46317e,#46317e,#46307d,#472f7d,#472f7d,#472f7c,#472f7c,#472e7c,#472d7c,#472d7b,#472c7b,#472c7b)"></div><div style="top:529.5px;background:linear-gradient(90deg,#22a785,#22a785,#22a785,#22a685,#22a685,#21a685,#21a685,#21a685,#21a685,#21a685,#21a585,#21a586,#21a586,#21a287,#209f88,#209d88,#209a89,#1f988a,#1f958b,#21928c,#218f8c,#228d8d,#238a8d,#24888d,#25858e,#25848e,#26828e,#26818e,#27808e,#277f8e,#287e8e,#287d8e,#287b8e,#297a8e,#29798e,#2a788e,#2a778e,#2a778e,#2a778e,#2a778e,#2a768e,#2b768e,#2a778e,#2a788e,#2a788e,#2a778e,#2a778e,#2a778e,#2a788e,#2c728e,#2f6d8e,#31688d,#33628d,#365d8c,#38578c,#3b5089,#3d4b87,#3f4585,#413f83,#433981,#46327f,#46327f,#46327e,#46317e,#46307d,#47307d,#472f7d,#472f7d,#472f7c,#472e7c,#472d7c,#472d7b,#472c7b)"></div><div style="top:532.5px;background:linear-gradient(90deg,#22a884,#22a784,#22a784,#22a784,#22a785,#22a785,#22a785,#21a785,#21a685,#21a685,#21a685,#21a585,#21a586,#20a286,#20a087,#209d88,#209b89,#1f988a,#1f968b,#20938c,#21918c,#228e8c,#228c8d,#23898d,#24868e,#25858e,#25848e,#26838e,#26818e,#27808e,#277f8e,#277e8e,#287d8e,#287b8e,#297a8e,#29798e,#2a788e,#2a788e,#2a778e,#2a778e,#2a778e,#2a768e,#2a768e,#2a778e,#2a768e,#2a768e,#2b768e,#2b768e,#2b768e,#2d718e,#2f6c8e,#32668d,#34618d,#365c8c,#38578c,#3b518a,#3d4b88,#3f4586,#413f84,#433a82,#463480,#46337f,#46327f,#46327f,#46317e,#46317e,#46307d,#47307d,#472f7d,#472e7c,#472e7c,#472d7c,#472d7b)"></div><div style="top:535.5px;background:linear-gradient(90deg,#23a983,#23a884,#23a884,#23a884,#23a884,#22a884,#22a784,#22a785,#22a785,#21a685,#21a685,#21a685,#21a585,#20a386,#20a087,#209e88,#209b89,#1f998a,#1f968b,#20948c,#21918c,#218f8c,#228c8d,#238a8d,#24888e,#24868e,#25858e,#25848e,#26838e,#26818e,#26808e,#277f8e,#277e8e,#287d8e,#287c8e,#297a8e,#297a8e,#29798e,#2a798e,#2a788e,#2a788e,#2a788e,#2a778e,#2a778e,#2a778e,#2a778e,#2a778e,#2a778e,#2a768e,#2d718e,#2f6c8e,#31678d,#34628d,#365d8c,#38588c,#3a528a,#3c4d88,#3f4786,#414184,#433b82,#453680,#453580,#453480,#45347f,#46337f,#46337f,#46327e,#46317e,#46307d,#46307d,#472f7d,#472e7c,#472e7c)"></div><div style="top:538.5px;background:linear-gradient(90deg,#25aa82,#24a983,#24a983,#24a983,#24a983,#24a983,#23a884,#22a884,#22a784,#22a784,#22a785,#22a685,#21a685,#20a386,#20a187,#209e88,#209c89,#1f998a,#1f978b,#20948b,#20928c,#218f8c,#228d8d,#238a8d,#23888e,#24888e,#24868e,#25858e,#25848e,#26838e,#26828e,#26828e,#27808e,#277f8e,#287e8e,#287d8e,#287c8e,#287c8e,#297b8e,#297b8e,#297b8e,#297a8e,#297a8e,#29798e,#29798e,#29798e,#2a798e,#2a798e,#2a788e,#2c748e,#2e6e8e,#30698d,#33648d,#355f8c,#375a8c,#39558b,#3b4f89,#3d4a87,#3f4485,#423e83,#443982,#443881,#443781,#443780,#453680,#453580,#45347f,#46337f,#46327e,#46327e,#46317e,#46307d,#462f7d)"></div><div style="top:541.5px;background:linear-gradient(90deg,#27ac81,#26ab82,#25aa82,#25aa82,#25aa82,#25aa83,#24a983,#23a884,#23a884,#22a784,#22a784,#22a785,#21a685,#21a386,#20a187,#209e88,#209c89,#1f998a,#1f978b,#20958b,#20928c,#21908c,#228d8d,#238b8d,#23898d,#23898d,#24878e,#24868e,#25858e,#25848e,#25838e,#26838e,#26828e,#26818e,#27808e,#277f8e,#277f8d,#287e8e,#287e8e,#287e8e,#287d8e,#287d8e,#287c8e,#287c8e,#297b8e,#297b8e,#297b8e,#297b8e,#297a8e,#2b768e,#2d718e,#2f6c8d,#32668d,#34618d,#365d8c,#38588b,#3a528a,#3c4d88,#3e4786,#404184,#423c83,#433b82,#433a82,#433981,#443981,#443881,#443780,#453580,#45347f,#45347f,#45337e,#46327e,#46317d)"></div><div style="top:544.5px;background:linear-gradient(90deg,#29ad80,#28ac81,#27ac81,#27ab81,#27ab81,#26ab82,#25aa83,#24a983,#23a884,#23a884,#23a884,#22a784,#21a685,#21a386,#20a187,#209f88,#209c89,#1f9a8a,#1f978b,#1f958b,#20938c,#21908c,#228e8d,#228c8d,#238a8d,#23898d,#23898d,#24878d,#24868e,#25858e,#25858e,#25858e,#25848d,#26838d,#26828d,#26828d,#26828d,#27818d,#27818d,#27808d,#27808d,#277f8d,#277f8e,#287e8e,#287e8e,#287d8e,#287d8e,#287d8e,#287c8e,#2a788e,#2c738e,#2e6e8d,#31698d,#33648d,#355f8d,#375a8b,#39558a,#3b5088,#3d4a86,#3f4585,#414084,#423e83,#423d83,#423c83,#423c82,#433a82,#443981,#443881,#443680,#453680,#45357f,#45347f,#46327e)"></div><div style="top:547.5px;background:linear-gradient(90deg,#2bae7f,#29ae80,#28ad80,#28ad81,#28ac81,#27ac81,#25ab82,#25aa83,#24a983,#23a983,#23a884,#22a784,#21a685,#21a486,#20a187,#209f88,#209c89,#1f9a8a,#1f978b,#1f958b,#20938c,#21918c,#218f8c,#228d8d,#238b8d,#238a8d,#23898d,#24888d,#24878d,#24878d,#24868e,#25868d,#25868d,#25858d,#25848d,#25848d,#26848d,#26848d,#26838d,#26838d,#26828d,#26828d,#26818d,#27818d,#27808e,#27808e,#277f8e,#277f8e,#277e8e,#297a8e,#2b758e,#2d708d,#306b8d,#32678d,#33628d,#355d8c,#38588b,#3a5389,#3c4d87,#3e4886,#404385,#404284,#414084,#413f84,#423e83,#423d83,#433b82,#433a82,#443981,#443881,#443780,#453580,#45347f)"></div><div style="top:550.4px;background:linear-gradient(90deg,#2cb07e,#2baf7f,#2aae7f,#29ae80,#28ad80,#27ac81,#26ac81,#25ab82,#25aa83,#24a983,#23a884,#22a784,#21a685,#21a486,#21a187,#209f88,#209c89,#1f9a8a,#1f988b,#1f968b,#20948c,#21918c,#218f8c,#228d8d,#228b8d,#238b8d,#238a8d,#23898d,#23898d,#24888d,#24878d,#24878d,#24888d,#24878d,#24878d,#25878d,#25878d,#25878d,#25868d,#25858d,#25858d,#25848d,#26848d,#26838d,#26828d,#26828d,#26818e,#26818e,#27808e,#297c8e,#2b778e,#2d728d,#2f6e8d,#30698d,#32658d,#34608c,#365b8b,#385589,#3a5088,#3d4b87,#3f4686,#3f4585,#404385,#404285,#414184,#413f84,#423e83,#423c83,#433b82,#433a82,#443981,#443781,#453680)"></div><div style="top:553.4px;background:linear-gradient(90deg,#2eb17d,#2db07e,#2cb07e,#2baf7f,#29ae80,#28ad80,#27ac81,#26ac82,#25ab82,#24aa83,#23a984,#22a884,#22a785,#21a486,#21a287,#209f88,#209d89,#1f9a8a,#1f988b,#1f968b,#20948b,#20928c,#21908c,#218e8d,#228c8d,#228c8d,#238b8d,#238b8d,#238a8d,#23898d,#23898d,#23898d,#24898d,#24898d,#248a8c,#248a8c,#248a8c,#24898c,#24898c,#24888d,#24878d,#25878d,#25868d,#25858d,#25858d,#25848d,#26838d,#26838e,#26828e,#287e8e,#2a798d,#2c758d,#2d708d,#2f6c8d,#31678d,#33628c,#355d8b,#37588a,#395489,#3b4f88,#3d4a87,#3e4886,#3e4786,#3f4586,#404385,#404285,#414084,#423f84,#423d83,#433c83,#433a82,#443982,#443781)"></div><div style="top:556.4px;background:linear-gradient(90deg,#30b37c,#2fb27c,#2eb17d,#2cb07e,#2aaf7f,#29ae80,#28ad80,#27ac81,#26ab82,#25aa82,#23a983,#23a884,#22a785,#21a486,#21a287,#209f88,#209d89,#1f9a8a,#1f988b,#1f968b,#20948b,#20938c,#21918c,#218f8c,#228d8d,#228c8d,#228c8d,#228c8d,#228b8d,#238b8d,#238a8d,#238a8d,#238a8d,#238b8c,#238d8c,#238d8c,#238d8c,#238c8c,#238b8c,#238b8c,#238a8d,#24898d,#24888d,#24888d,#24878d,#24868d,#25858d,#25858d,#25848e,#277f8d,#297b8d,#2b778d,#2c738e,#2e6e8e,#306a8d,#32658c,#34608b,#365b8b,#38578a,#3a5289,#3c4d88,#3d4b88,#3d4a87,#3e4887,#3f4686,#404486,#404386,#414185,#414084,#423e84,#433c83,#433a82,#443982)"></div><div style="top:559.4px;background:linear-gradient(90deg,#32b47b,#31b37b,#2fb27c,#2db17d,#2bb07e,#2aaf7f,#29ae80,#28ad80,#27ac81,#25ab82,#24a983,#23a884,#22a784,#21a585,#21a286,#20a088,#209d89,#1f9b8a,#1f988b,#1f968b,#20948b,#20938c,#20928c,#21908c,#218e8d,#228d8d,#228d8d,#228d8d,#228d8d,#228c8d,#228c8d,#228c8d,#228c8d,#228e8c,#228f8c,#228f8c,#228f8c,#228f8c,#228e8c,#228d8c,#238c8c,#238c8c,#238b8d,#238a8d,#238a8d,#24888d,#24878d,#24878d,#24868d,#26818d,#287d8d,#2a798e,#2b758e,#2d718e,#2f6c8e,#31678c,#33638c,#355e8b,#375a8b,#39558a,#3b5089,#3b4f89,#3c4d88,#3d4b88,#3e4887,#3f4787,#3f4587,#404486,#414285,#414085,#423e84,#433c83,#443a83)"></div><div style="top:562.4px;background:linear-gradient(90deg,#34b57a,#32b57a,#31b47b,#2fb27c,#2cb17e,#2bb07f,#2aaf7f,#29ae80,#27ad81,#26ab82,#24aa83,#23a884,#22a784,#22a585,#21a286,#20a087,#209d88,#1f9b8a,#1f988b,#1f968b,#20958b,#20948c,#20928c,#21918c,#218f8d,#218e8d,#228e8d,#228e8d,#228e8d,#228e8d,#228d8d,#228d8d,#228e8c,#21908c,#21918c,#21928b,#21928b,#21928b,#21918c,#21908c,#228f8c,#228e8c,#228d8c,#228d8c,#228c8d,#238b8d,#238a8d,#23898d,#24888d,#26838d,#277f8d,#297b8e,#2a778e,#2c738e,#2e6f8e,#306a8d,#32658c,#34618c,#355d8c,#37588b,#39538a,#3a528a,#3b5089,#3c4e89,#3d4b88,#3e4988,#3f4888,#3f4687,#404486,#414286,#424085,#433e84,#433c84)"></div><div style="top:565.4px;background:linear-gradient(90deg,#35b779,#34b679,#32b57a,#30b37c,#2eb27d,#2cb17e,#2ab07f,#29af7f,#28ad80,#26ac81,#25aa82,#23a983,#22a884,#22a585,#21a386,#20a087,#209e88,#1f9b89,#1f998a,#1f978b,#1f958b,#20948b,#20938c,#20918c,#218f8d,#218f8d,#218f8d,#218f8d,#218f8d,#218f8d,#218e8d,#218f8c,#21908c,#21928c,#20938b,#20958b,#20958b,#20948b,#20938b,#21928b,#21918c,#21908c,#21908c,#218f8c,#228e8c,#228d8d,#228c8d,#238b8d,#238a8d,#25858d,#26828d,#287e8e,#297a8e,#2b768e,#2d718e,#2f6d8d,#30688d,#32648d,#34608c,#365c8c,#38578b,#39558b,#3a538a,#3b508a,#3c4e89,#3d4c89,#3e4a89,#3e4888,#3f4687,#404487,#414286,#423f85,#433e84)"></div><div style="top:568.4px;background:linear-gradient(90deg,#37b877,#35b778,#33b67a,#31b47b,#2fb37c,#2db27d,#2bb17e,#2aaf7f,#28ae80,#27ac81,#25ab82,#24a983,#22a884,#22a585,#21a386,#20a087,#209e88,#1f9b89,#1f998a,#1f978b,#1f968b,#20958b,#20938c,#20928c,#21908c,#21908c,#21908c,#21908c,#21908c,#21908c,#21908c,#21918c,#20928c,#20948b,#20958b,#1f978b,#1f988b,#1f978b,#1f968b,#20958b,#20948b,#20938c,#20928c,#20918c,#21908c,#218f8c,#228e8d,#228d8d,#228c8d,#24888d,#25848d,#27808e,#287c8e,#2a788e,#2b748e,#2d708e,#2f6b8d,#31678d,#33638d,#355f8d,#375a8c,#38588c,#39568b,#3a538b,#3b518a,#3c4f8a,#3d4d8a,#3e4b89,#3f4888,#404688,#414487,#414186,#423f85)"></div><div style="top:571.4px;background:linear-gradient(90deg,#3cba74,#38b977,#36b778,#34b679,#32b57a,#30b37b,#2cb27d,#2ab07f,#29ae80,#27ad81,#26ab82,#24aa83,#22a884,#22a585,#21a386,#21a087,#209e88,#1f9b89,#1f998a,#1f978b,#1f968b,#20958b,#20938c,#20928c,#21908c,#21918c,#21918c,#21918c,#21918c,#21918c,#20918c,#21938c,#20948b,#20968b,#20978b,#1f988a,#1f9a8a,#1f998a,#20988a,#20978a,#20968b,#20968b,#20958b,#20938c,#21928c,#21918c,#21908c,#228f8c,#228e8d,#238a8d,#25868d,#26828d,#287e8e,#297a8e,#2a768e,#2c728e,#2e6e8e,#306a8d,#32658d,#34618d,#365d8d,#375a8c,#38588c,#39568c,#3a538b,#3b518b,#3c4f8a,#3d4c8a,#3e4a89,#3f4888,#404587,#414387,#424186)"></div><div style="top:574.4px;background:linear-gradient(90deg,#44bd70,#3dba74,#3bb975,#39b876,#37b677,#35b578,#2eb27d,#2bb07e,#2aaf7f,#28ad80,#27ac81,#25aa82,#23a884,#22a585,#21a386,#21a087,#209e88,#1f9b89,#1f988b,#1f978b,#1f958b,#20948c,#20938c,#20918c,#21908d,#21918c,#21918c,#21918c,#21918c,#21918c,#20928c,#21948b,#21968b,#21978a,#20998a,#209a89,#219d88,#219c89,#219b89,#219a89,#21998a,#21988a,#21978a,#21968b,#21958b,#21938b,#22928b,#22918c,#22908c,#238c8d,#24888d,#26848d,#27818d,#297d8d,#2a798e,#2b758e,#2d708e,#2f6c8d,#31688d,#33638d,#355f8d,#365c8d,#375a8c,#38588c,#39568b,#3a538b,#3b508b,#3d4e8a,#3e4b89,#3e4988,#3f4788,#404487,#424186)"></div><div style="top:577.4px;background:linear-gradient(90deg,#4dc06b,#44bd70,#40bb72,#3eba73,#3cb874,#38b677,#30b37c,#2db17d,#2baf7f,#29ae80,#28ac81,#26ab82,#23a984,#22a585,#21a386,#21a087,#209e88,#209b89,#1f988b,#1f968b,#20958b,#20948c,#20928c,#21918c,#218f8d,#21908c,#21918c,#21918c,#21918c,#20918c,#20928c,#22958a,#22978a,#229989,#219a89,#219c88,#239f87,#229e87,#229d88,#229c88,#229b88,#229a89,#219989,#21988a,#21978a,#22968a,#22958a,#22948b,#22928b,#228f8c,#248b8c,#25878d,#27838d,#287f8d,#297b8e,#2a778e,#2c738e,#2e6e8d,#306a8d,#32668d,#34628d,#355f8d,#365c8c,#375a8c,#38588c,#39558b,#3b528b,#3c4f8a,#3d4d89,#3e4a89,#3f4888,#404587,#414287)"></div><div style="top:580.3px;background:linear-gradient(90deg,#55c266,#4cbf6b,#45bd6f,#43bb70,#41ba71,#3ab776,#31b47b,#2eb27d,#2cb07e,#2aaf7f,#29ad80,#26ab82,#23a984,#22a685,#22a386,#21a087,#209e88,#209b89,#1f978b,#1f968b,#20948b,#20938c,#20928c,#21908c,#218f8d,#21908c,#21918c,#21918c,#21918c,#20928c,#20938c,#22968a,#239989,#229a89,#229c88,#239e87,#25a285,#24a086,#239f87,#239e87,#249d87,#239c88,#229b88,#229a89,#229989,#229889,#22978a,#22968a,#22958a,#23918b,#238d8c,#25898c,#26858c,#27818d,#287d8e,#2a798e,#2b758e,#2d718d,#2f6c8d,#31688d,#33648d,#34618d,#355e8d,#365c8c,#375a8c,#38578b,#3a548b,#3b518a,#3c4e8a,#3d4c89,#3e4988,#3f4688,#414387)"></div><div style="top:583.3px;background:linear-gradient(90deg,#5dc561,#54c266,#4cbf6b,#48bd6d,#44bb70,#3bb875,#33b57a,#30b37c,#2db17d,#2baf7f,#29ad80,#26ab82,#23a983,#22a685,#22a386,#21a087,#209d88,#209a8a,#1f978b,#1f958b,#20948c,#20938c,#21918c,#21908c,#218e8d,#218f8d,#21918c,#21918c,#21918c,#20928c,#20948c,#21978a,#239a88,#239c88,#239e87,#25a186,#26a484,#26a385,#25a285,#25a186,#25a086,#249f87,#239e87,#239c88,#229b88,#229a88,#239989,#229889,#22978a,#23938a,#238f8b,#248b8c,#26878c,#26838d,#27808e,#297b8e,#2a778e,#2c738d,#2e6f8d,#306b8d,#31668d,#33638d,#34618d,#355e8c,#365c8c,#38598c,#39568b,#3a538b,#3c4f8a,#3d4d89,#3e4a89,#3f4788,#414487)"></div><div style="top:586.3px;background:linear-gradient(90deg,#65c85c,#5dc561,#54c266,#4dbf6b,#46bc6f,#3db974,#34b679,#31b47b,#2eb27d,#2cb07e,#29ae80,#26ab81,#23a983,#23a685,#22a386,#21a087,#219d88,#209a8a,#1f968b,#20958b,#20938c,#20928c,#21918c,#218f8d,#228e8d,#218f8d,#21908c,#21918c,#20928c,#20938c,#20948b,#21988a,#239b88,#249d87,#25a086,#27a384,#28a683,#27a583,#27a484,#26a384,#25a285,#24a186,#24a086,#239f87,#239e87,#239d88,#239b88,#229a88,#229989,#23958a,#23918a,#248e8b,#258a8c,#26868d,#26828d,#287e8d,#2a798d,#2b758d,#2d718d,#2f6d8d,#30698d,#32668d,#33638d,#34608d,#365d8c,#375a8c,#38578c,#39548b,#3b518a,#3c4e8a,#3d4b89,#3f4888,#404587)"></div><div style="top:589.3px;background:linear-gradient(90deg,#6dca57,#65c75c,#5cc462,#52c168,#47bd6e,#3fba73,#36b778,#33b57a,#30b37c,#2db07e,#29ae80,#26ac81,#24a983,#23a684,#22a386,#21a087,#219c89,#20998a,#1f968b,#20948b,#20938c,#20918c,#21908c,#218e8d,#228d8d,#218e8d,#21908c,#21918c,#20938c,#20948c,#1f958b,#21988a,#239b88,#259f86,#27a384,#28a683,#2aa981,#29a882,#28a783,#27a583,#26a484,#25a385,#24a285,#24a186,#24a086,#239f87,#239e87,#229d88,#229c88,#239889,#23948a,#24908b,#248c8c,#25888c,#25848d,#27808d,#297c8d,#2a788d,#2c738e,#2e6f8e,#2f6b8e,#31688d,#32658d,#33628d,#355f8d,#365c8c,#37598c,#39568b,#3a538b,#3c4f8a,#3d4c89,#3e4988,#404688)"></div><div style="top:592.3px;background:linear-gradient(90deg,#76cd52,#6dca57,#64c75d,#57c365,#49be6d,#40bb72,#38b877,#35b679,#32b47b,#2eb17d,#2aae7f,#27ac81,#24aa83,#23a684,#22a386,#22a087,#219c89,#20998a,#1f968b,#20948c,#20938c,#21918c,#218f8c,#228e8d,#228c8d,#228e8d,#218f8d,#21918c,#20938c,#20958b,#1f968b,#21998a,#239c88,#26a185,#29a583,#2aa881,#2cab80,#2baa80,#2aa981,#28a882,#27a783,#26a584,#25a484,#25a385,#24a285,#24a186,#23a087,#229f87,#229e87,#239a88,#239689,#23928a,#238e8b,#248a8c,#24868d,#26828d,#287e8d,#297a8d,#2b768e,#2d728e,#2e6d8e,#306b8d,#31688d,#32648d,#34618d,#355e8c,#365b8c,#38588c,#39558b,#3b518a,#3d4d89,#3e4a89,#404788)"></div><div style="top:595.3px;background:linear-gradient(90deg,#7ed04d,#75cd53,#6bc959,#5bc462,#4cc06b,#42bc71,#39b976,#36b778,#33b47a,#2fb27d,#2aaf7f,#27ac81,#24aa83,#23a784,#22a386,#229f87,#219c89,#20988a,#1f958b,#20948c,#20928c,#21908c,#218f8d,#228d8d,#228c8d,#228d8d,#218f8d,#21918c,#20948c,#20958b,#1f978b,#219a89,#239d87,#26a285,#2aa782,#2cab80,#2dae7e,#2dad7f,#2bac80,#2aaa81,#28a982,#27a883,#26a683,#25a584,#25a484,#24a385,#23a286,#23a186,#22a087,#239c87,#239888,#23948a,#23908b,#238d8c,#24898d,#25848d,#27808d,#287c8d,#2a788e,#2c748e,#2d708e,#2f6d8e,#306a8d,#32668d,#33638d,#34608d,#365d8c,#375a8c,#39568b,#3a528a,#3c4e8a,#3e4b89,#3f4788)"></div><div style="top:598.3px;background:linear-gradient(90deg,#86d249,#7dcf4e,#70cb56,#60c65f,#51c168,#43bd70,#3bba75,#38b877,#34b57a,#2fb27c,#2baf7f,#27ac81,#24aa83,#23a784,#23a386,#229f87,#219b89,#20988a,#1f958c,#20938c,#20928c,#21908c,#218e8d,#228d8d,#228b8d,#228d8d,#218f8c,#21918c,#20948b,#1f968b,#1f978b,#219a89,#249f87,#27a484,#2ba981,#2ead7f,#2fb07d,#2eaf7e,#2dae7f,#2bad80,#29ab81,#27aa82,#26a982,#26a883,#25a783,#24a684,#23a485,#23a385,#22a286,#239e87,#239a88,#229789,#22938b,#228f8c,#238b8d,#24878d,#26838d,#277f8d,#297a8e,#2b768e,#2c728e,#2e6f8e,#2f6c8e,#31688d,#32658d,#34618d,#355e8d,#365b8c,#38578b,#3a538b,#3c4f8a,#3d4b89,#3f4889)"></div><div style="top:601.3px;background:linear-gradient(90deg,#8ed544,#84d14a,#75cd53,#65c85c,#56c365,#47be6e,#3cbb75,#39b977,#35b679,#30b37c,#2cb07e,#28ad81,#24aa83,#24a784,#23a386,#229f87,#219b89,#20978a,#20948c,#20938c,#21918c,#218f8c,#228e8d,#228c8d,#238b8d,#228c8d,#218f8c,#21918c,#20948b,#1f968b,#1f988b,#219c89,#24a086,#28a583,#2baa80,#2faf7d,#31b37c,#30b27c,#2eb07d,#2caf7e,#2aae80,#28ac81,#27ab81,#27aa82,#26a983,#25a883,#24a784,#23a685,#22a585,#23a186,#229d87,#229989,#22958a,#21918c,#228d8d,#23898d,#25858d,#27818d,#287d8e,#2a798e,#2b758e,#2d718e,#2e6e8e,#306a8e,#31678d,#33638d,#34608d,#365d8c,#37598c,#39558b,#3b518a,#3d4d8a,#3e4989)"></div><div style="top:604.3px;background:linear-gradient(90deg,#96d83f,#89d347,#79cf50,#6aca59,#5bc562,#4cc06c,#3ebc74,#3ab976,#36b679,#31b37b,#2db07e,#28ad80,#24ab82,#24a784,#23a386,#229f87,#219b89,#20978a,#20948c,#20928c,#21918c,#218f8d,#228d8d,#228c8d,#238a8d,#228c8d,#218f8c,#21918c,#20948b,#1f968b,#1f998a,#229d88,#25a285,#29a782,#2cac7f,#30b17d,#33b57a,#31b47b,#2fb37c,#2db17d,#2bb07e,#2aaf7f,#28ad80,#27ac81,#26ab82,#25aa82,#24a983,#23a884,#22a784,#22a386,#229f87,#229b88,#21978a,#21938b,#218f8c,#238b8d,#24878d,#26838d,#277f8e,#297b8e,#2a778e,#2c748e,#2d708e,#2f6c8e,#30698e,#32658d,#33628d,#355e8d,#375a8c,#39568b,#3b528b,#3c4e8a,#3e4a89)"></div><div style="top:607.2px;background:linear-gradient(90deg,#96d73f,#89d347,#79ce50,#6aca59,#5bc563,#4bc06c,#3ebc74,#3ab976,#36b678,#31b37b,#2db17d,#29ae80,#25ab82,#24a784,#23a385,#229f87,#219c88,#21988a,#20948c,#20928c,#21918c,#218f8c,#228e8d,#228c8d,#238b8d,#228d8d,#218f8c,#21928c,#20948b,#1f978b,#1f998a,#229e88,#25a385,#29a882,#2cac7f,#30b17c,#33b67a,#31b57b,#2fb37c,#2db27d,#2cb17e,#2aaf7f,#28ae80,#27ad81,#26ac81,#25ab82,#24aa83,#23a983,#22a884,#22a485,#22a087,#219c88,#21998a,#21958b,#20918c,#228d8d,#23898d,#25858d,#26818e,#287d8e,#29798e,#2b758e,#2c728e,#2e6e8e,#2f6b8e,#31678e,#33638d,#345f8d,#365b8c,#38578b,#3a538b,#3c4f8a,#3e4b89)"></div><div style="top:610.2px;background:linear-gradient(90deg,#8dd444,#83d14a,#74cc53,#65c85c,#55c366,#46be6f,#3cbb75,#3ab976,#35b679,#31b37b,#2db07e,#28ad80,#25ac82,#24a883,#23a485,#23a086,#229c88,#21998a,#20958b,#20948c,#20928c,#21908c,#228f8c,#228d8d,#228c8d,#228e8d,#21908c,#20938c,#20958b,#1f988b,#1f9a8a,#219e88,#25a285,#28a782,#2cac7f,#2fb17d,#32b57b,#30b47b,#2eb37c,#2db17d,#2bb07f,#29af80,#28ae80,#27ad81,#26ac82,#25ab82,#24aa83,#23a884,#22a884,#22a585,#22a187,#219d88,#21998a,#21958b,#20928c,#218f8c,#238b8d,#24878d,#26838d,#277e8e,#297b8e,#2a778e,#2c748e,#2d708e,#2f6c8e,#30698e,#32658e,#34618d,#365d8c,#38598c,#39548b,#3b508a,#3d4c8a)"></div><div style="top:613.2px;background:linear-gradient(90deg,#84d14a,#7ccf4e,#6fca56,#5fc660,#50c169,#43bd71,#3bba75,#39b977,#35b679,#30b37b,#2cb07e,#28ae80,#26ac81,#25a983,#24a585,#23a186,#229d88,#219a89,#20978b,#20958b,#20938c,#21928c,#21908c,#228e8c,#228d8d,#228f8c,#21918c,#20938b,#20968b,#1f988a,#1f9a8a,#219e88,#24a285,#28a783,#2bac80,#2eb17d,#30b47b,#2fb37c,#2eb27d,#2cb07e,#2aaf7f,#28ae80,#27ad81,#26ac81,#25ab82,#25aa83,#24a983,#23a884,#22a784,#22a585,#21a187,#219d88,#219989,#20968b,#20938c,#21908c,#228c8d,#24888d,#25848d,#27808e,#287d8e,#2a798e,#2b758e,#2d728e,#2e6e8e,#306a8e,#31668e,#33628d,#355e8c,#375a8c,#39568b,#3b528a,#3d4d8a)"></div><div style="top:616.2px;background:linear-gradient(90deg,#7bce4f,#73cb54,#6ac859,#5ac463,#4bbf6c,#41bc72,#39b976,#37b878,#34b679,#30b37c,#2cb07e,#29ae80,#27ad81,#25a983,#24a684,#23a286,#229e87,#219b89,#20988a,#20968b,#20948b,#21938c,#21918c,#218f8c,#228e8d,#21908c,#21928c,#20948b,#1f978b,#1f998a,#1f9b8a,#219e88,#23a286,#27a783,#2aac80,#2db07e,#2fb37c,#2eb27d,#2db17d,#2bb07f,#29ae80,#28ad80,#27ac81,#26ac82,#25ab82,#24aa83,#23a983,#22a884,#22a784,#22a485,#21a187,#219e88,#219a89,#20978b,#20948c,#21918c,#228e8c,#238a8d,#25858d,#26828d,#277f8e,#297b8e,#2a778e,#2c738e,#2d708e,#2f6c8e,#31678e,#33638d,#355f8d,#375b8c,#38578b,#3a538b,#3c4f8a)"></div><div style="top:619.2px;background:linear-gradient(90deg,#72cb54,#6ac859,#62c65e,#55c266,#47bd6e,#40bb73,#38b877,#35b779,#33b57a,#2fb37c,#2cb07e,#29af7f,#27ad81,#26aa82,#24a784,#23a385,#229f87,#219c88,#20998a,#20978a,#20958b,#21948b,#21928c,#21908c,#218f8d,#21918c,#21938c,#20958b,#1f978b,#1f998a,#1f9b89,#219f88,#23a286,#26a783,#29ab81,#2caf7f,#2eb27d,#2db17d,#2cb07e,#2aaf7f,#28ae80,#27ad81,#26ac81,#25ab82,#25aa82,#24a983,#23a884,#22a884,#22a785,#21a486,#21a187,#219e88,#209a89,#20988a,#20958b,#21928c,#228f8c,#238b8c,#24878d,#25848d,#26818e,#287d8e,#2a798e,#2b758e,#2d718e,#2f6d8e,#30698e,#32658d,#34608d,#365c8c,#38588b,#3a548b,#3c508a)"></div><div style="top:622.2px;background:linear-gradient(90deg,#69c859,#61c55e,#59c363,#50c069,#46bc6f,#3eba73,#36b778,#34b679,#32b47b,#2fb27c,#2cb17e,#2aaf7f,#28ae80,#26aa82,#25a783,#24a485,#22a186,#219d88,#209a8a,#20988a,#20978b,#20958b,#21938b,#21918c,#21908c,#21928c,#20948b,#20968b,#1f988a,#1f9a8a,#1f9c89,#219f87,#23a386,#26a783,#28aa81,#2aae7f,#2db17e,#2cb07e,#2aaf7f,#29ae80,#28ad80,#27ac81,#26ab82,#25ab82,#24aa83,#24a983,#23a884,#22a784,#22a785,#21a486,#21a187,#219e88,#209b89,#20988a,#20968b,#21938b,#21908c,#238d8c,#24898d,#25868d,#26838d,#277f8e,#297b8e,#2b778e,#2c738e,#2e6e8e,#306a8e,#32668d,#34628d,#355d8c,#37598c,#39558b,#3b518b)"></div><div style="top:625.2px;background:linear-gradient(90deg,#60c55f,#59c263,#51c068,#4abe6c,#44bb70,#3cb974,#34b679,#32b57a,#30b37c,#2eb27c,#2db17d,#2bb07f,#28ae80,#27ab81,#26a883,#24a585,#22a286,#219f88,#209c89,#209a8a,#20988a,#20968b,#20948b,#21928c,#21918c,#20938c,#20958b,#20978b,#1f998a,#1f9b8a,#1f9d89,#21a087,#23a385,#25a684,#27a982,#29ad80,#2bb07e,#2aaf7f,#29ae80,#28ad80,#27ad81,#26ac81,#25ab82,#24aa83,#24a983,#23a983,#23a884,#22a784,#21a685,#21a486,#21a187,#209f88,#209c89,#20998a,#1f978b,#20948b,#21918c,#228e8c,#238b8c,#24888d,#25858d,#26818d,#287d8d,#2a788e,#2c748e,#2d708e,#2f6b8e,#31678d,#33638d,#355f8c,#375a8c,#39568b,#3b528b)"></div><div style="top:628.2px;background:linear-gradient(90deg,#58c264,#50bf69,#48bc6d,#45bc6f,#43bb70,#3bb875,#33b57a,#31b47b,#2eb27c,#2eb27d,#2db27d,#2bb07e,#29af80,#28ac81,#26a883,#24a684,#22a386,#21a087,#209d89,#209b89,#20998a,#20978a,#20958b,#20938b,#20928c,#20948b,#20968b,#20978a,#1f998a,#1f9b89,#1f9d89,#21a187,#23a485,#24a684,#26a883,#28ac81,#2aaf7f,#29ae80,#28ad80,#27ad81,#27ac81,#26ab82,#25aa82,#24aa83,#23a983,#23a884,#23a884,#22a784,#21a685,#21a386,#21a187,#209f88,#209d88,#209a8a,#1f988b,#20958b,#21928b,#22908c,#228d8c,#238a8d,#24878d,#26838d,#277f8d,#297a8e,#2b758e,#2d718e,#2f6d8e,#30688d,#32648d,#34608d,#365c8c,#38578c,#3a538b)"></div><div style="top:631.2px;background:linear-gradient(90deg,#4fbf69,#47bc6e,#41ba72,#40b972,#3fb972,#39b776,#31b47b,#2fb37c,#2db27d,#2db27d,#2db27d,#2cb17e,#2aaf7f,#28ac81,#27a982,#25a784,#23a485,#21a187,#209e88,#209c89,#209a89,#20988a,#20968b,#20948b,#20938c,#20958b,#1f978b,#1f988a,#1f9a8a,#1f9c89,#1f9e89,#21a187,#23a485,#24a684,#25a883,#27ab82,#29ae80,#28ad80,#27ac81,#26ac81,#26ac82,#25ab82,#24aa83,#23a983,#23a884,#23a884,#22a784,#22a785,#21a685,#21a386,#20a187,#209f88,#209e88,#1f9b89,#1f998a,#20968b,#21938b,#21918c,#218f8c,#228c8d,#23898d,#25858d,#27818d,#297c8d,#2b778e,#2c728e,#2e6e8e,#306a8e,#32658d,#34618d,#365d8c,#38598c,#39548b)"></div><div style="top:634.2px;background:linear-gradient(90deg,#46bb6f,#3eb973,#3bb875,#3bb775,#3ab775,#38b677,#30b37c,#2db27d,#2db27d,#2db27d,#2db27d,#2cb17e,#2ab07f,#29ad80,#27aa82,#25a883,#23a585,#21a286,#209f88,#209d88,#209b89,#20998a,#20978a,#20958b,#20948c,#1f968b,#1f978b,#1f998a,#1f9b8a,#1f9c89,#1f9e89,#21a287,#22a485,#23a685,#24a884,#25aa82,#28ad80,#27ac81,#26ac82,#26ab82,#25ab82,#25aa82,#24a983,#23a984,#23a884,#22a884,#22a784,#22a785,#21a685,#21a386,#20a187,#20a088,#209e88,#1f9c89,#1f998a,#20978a,#20948b,#21928b,#21918c,#228e8c,#228b8d,#24878d,#26828d,#287d8d,#2a788e,#2c738e,#2d6f8e,#2f6b8e,#31678d,#33628d,#355e8d,#375a8c,#39568c)"></div><div style="top:637.1px;background:linear-gradient(90deg,#3db874,#37b677,#36b678,#35b578,#35b579,#34b579,#2eb27d,#2cb17e,#2cb17e,#2cb17e,#2cb17e,#2cb17e,#2bb07e,#29ad80,#27ab81,#25a883,#23a684,#21a386,#20a187,#209f88,#209d89,#209b89,#1f998a,#1f978b,#20958b,#1f978b,#1f988a,#1f9a8a,#1f9b89,#1f9d89,#1f9f88,#21a287,#22a486,#23a585,#24a784,#25a983,#26ac81,#25ab82,#25ab82,#25aa82,#24aa83,#24aa83,#23a983,#23a884,#22a884,#22a784,#22a785,#21a685,#21a685,#21a386,#20a287,#20a088,#1f9e88,#1f9d89,#1f9a8a,#20988a,#20968b,#20948b,#21928c,#21908c,#228e8d,#23898d,#25848d,#277f8d,#297a8e,#2b758e,#2d708e,#2f6c8e,#31688d,#33648d,#355f8d,#375b8c,#38578c)"></div><div style="top:640.1px;background:linear-gradient(90deg,#34b579,#31b47b,#31b47b,#30b37b,#2fb37c,#2fb37c,#2cb27d,#2cb17e,#2cb17e,#2cb17e,#2cb17e,#2cb17e,#2bb17e,#29ae80,#27ac81,#25a983,#23a784,#21a486,#1fa287,#1fa088,#1f9e88,#1f9c89,#1f9a8a,#1f988b,#1f968b,#1f978b,#1f998a,#1f9b8a,#1f9c89,#1f9e89,#1f9f88,#20a287,#21a386,#22a585,#23a784,#24a983,#25ab82,#25ab82,#24aa83,#24aa83,#24a983,#23a983,#23a884,#22a884,#22a784,#22a785,#21a685,#21a685,#21a585,#20a386,#20a287,#20a087,#1f9f88,#1f9d89,#1f9b8a,#1f998a,#1f978b,#20958b,#20948c,#20928c,#21908c,#238b8d,#25868d,#27818d,#297c8e,#2a778e,#2c728e,#2e6e8e,#30698e,#32658d,#34618d,#365c8d,#38588c)"></div><div style="top:643.1px;background:linear-gradient(90deg,#2fb17d,#2fb27d,#2eb17d,#2db17d,#2db07e,#2cb07e,#2bb17e,#2db27d,#2db27d,#2db27d,#2db27d,#2db27d,#2eb27c,#2baf7f,#29ad80,#27ab81,#25a883,#23a684,#20a387,#20a187,#209f88,#1f9d89,#1f9b89,#1f998a,#1f978b,#1f988a,#1f9a8a,#1f9b89,#1f9d89,#1f9e88,#1fa088,#20a187,#21a386,#22a585,#23a784,#24a983,#24aa82,#24aa83,#24aa83,#23a983,#23a984,#23a884,#22a884,#22a784,#22a785,#21a685,#21a685,#21a585,#21a586,#20a486,#20a287,#20a187,#1f9f88,#1f9d89,#1e9c89,#1f9b89,#20998a,#20978a,#20958b,#21938b,#22928b,#238d8c,#25888d,#27838d,#297e8d,#2a798d,#2c738e,#2e6f8e,#306a8e,#32668d,#33628d,#355e8d,#37598c)"></div><div style="top:646.1px;background:linear-gradient(90deg,#2fac7e,#2eaf7e,#2dae7e,#2dae7e,#2cad7f,#2cad7f,#2bb07e,#2fb27c,#2fb27c,#2fb27c,#2fb27c,#2fb27c,#34b579,#2eb17d,#2caf7e,#2aac80,#28aa81,#26a783,#21a486,#20a287,#20a087,#209e88,#209c89,#209a8a,#1f988a,#1f998a,#1f9b8a,#1f9c89,#1f9e89,#1f9f88,#1fa088,#20a187,#21a386,#22a585,#22a784,#23a983,#24aa83,#24aa83,#23a983,#23a984,#23a884,#22a884,#22a784,#22a785,#22a785,#21a685,#21a685,#21a586,#21a586,#20a486,#20a287,#20a187,#1f9f88,#1f9d89,#1e9c89,#209d89,#219b89,#219989,#21978a,#22958a,#23968a,#238f8b,#258a8c,#27858c,#29808c,#2b7b8d,#2b758e,#2d708e,#2f6c8e,#31678d,#33638d,#355f8d,#375a8c)"></div><div style="top:649.1px;background:linear-gradient(90deg,#2fa680,#2eab7f,#2dab7f,#2cab7f,#2caa80,#2bab80,#2ab07f,#30b37b,#32b37b,#32b37b,#32b37b,#33b47a,#39b776,#32b37a,#2fb07c,#2dae7e,#2bab7f,#28a981,#21a585,#21a386,#20a187,#209f88,#209d88,#209b89,#1f998a,#1f9a8a,#1f9b89,#1f9d89,#1f9f88,#1fa088,#1fa188,#20a287,#20a386,#21a585,#22a784,#23a983,#24aa83,#23a983,#23a984,#23a884,#22a884,#22a784,#22a785,#22a785,#21a685,#21a685,#21a585,#21a586,#20a586,#20a486,#20a287,#1fa187,#1f9f88,#1f9e89,#1f9d89,#219e88,#229d88,#229b89,#229989,#239889,#259988,#25928a,#268d8b,#28888b,#2a838b,#2b7d8c,#2b768e,#2d718e,#2f6d8e,#30698d,#32648d,#34608d,#365b8d)"></div><div style="top:652.1px;background:linear-gradient(90deg,#2ea181,#2da580,#2da880,#2ca880,#2ba881,#2aab80,#2aaf7f,#2fb27c,#34b479,#34b479,#34b479,#38b677,#3eb973,#38b677,#32b27b,#30b07c,#2ead7e,#29aa81,#22a685,#21a486,#21a286,#21a087,#219e88,#209c89,#209b89,#209b89,#1f9c89,#1f9e88,#1f9f88,#1fa088,#1fa187,#20a287,#20a386,#21a585,#22a784,#23a884,#23a983,#23a984,#23a884,#22a884,#22a784,#22a785,#22a685,#21a685,#21a685,#21a585,#21a586,#20a586,#20a486,#20a386,#20a287,#1fa187,#1f9f88,#1f9e89,#1f9d89,#219e88,#239f87,#239d88,#239b88,#259b87,#279c86,#279588,#278f8a,#298a8a,#2b858a,#2b7f8c,#2a788e,#2c738e,#2e6e8e,#306a8d,#32668d,#34618d,#365c8d)"></div><div style="top:655.1px;background:linear-gradient(90deg,#2e9b83,#2da082,#2ca481,#2ca581,#2ba681,#2aaa80,#29af80,#2fb27c,#35b479,#36b578,#38b677,#3eb974,#44bc70,#3db874,#36b478,#33b17a,#30af7c,#29ab80,#23a784,#22a585,#21a386,#21a187,#219f87,#209e88,#209c89,#209d89,#209d89,#209f88,#20a088,#20a187,#1fa287,#20a387,#20a486,#21a585,#22a784,#23a884,#23a984,#23a884,#23a884,#22a784,#22a785,#22a685,#21a685,#21a685,#21a585,#21a586,#20a586,#20a486,#20a486,#20a386,#20a287,#1fa187,#1f9f88,#1f9e88,#1f9d89,#219e88,#23a087,#249e87,#259d87,#279f86,#29a084,#299986,#289288,#298c89,#2b878a,#2a808c,#29798e,#2b748e,#2d708e,#2f6b8d,#31678d,#33628d,#355e8d)"></div><div style="top:658.1px;background:linear-gradient(90deg,#2e9684,#2d9a83,#2c9f83,#2ba282,#2aa582,#29aa81,#28ae80,#2eb17d,#34b479,#39b677,#3db874,#43bb71,#49be6d,#42ba71,#3cb675,#36b379,#31b07c,#2aac80,#23a884,#23a684,#22a485,#22a286,#21a187,#209f88,#209d89,#209e88,#209f88,#20a088,#20a187,#20a187,#20a287,#20a386,#21a486,#21a585,#22a685,#22a784,#23a884,#22a884,#22a784,#22a785,#22a685,#21a685,#21a585,#21a585,#21a586,#21a586,#20a486,#20a486,#20a486,#20a387,#20a287,#1fa187,#1fa088,#1f9f88,#1f9e89,#219f88,#23a086,#25a086,#27a185,#29a284,#2ba383,#2b9c85,#2a9587,#2a8f88,#2a888a,#29828c,#297b8e,#2b768e,#2d718e,#2f6d8e,#31688d,#33638d,#355f8d)"></div><div style="top:661.1px;background:linear-gradient(90deg,#2e9086,#2d9585,#2c9984,#2b9f83,#2aa582,#29a981,#28ae80,#2eb17d,#34b37a,#3bb775,#42bb71,#48be6e,#4ec06a,#48bd6e,#41b972,#39b577,#31b17b,#2bad7f,#24a983,#24a784,#23a585,#22a486,#21a286,#21a087,#209e88,#209f88,#20a088,#20a087,#20a187,#20a287,#20a387,#20a486,#21a486,#21a585,#21a685,#22a785,#22a884,#22a784,#22a785,#22a685,#21a685,#21a585,#21a586,#21a586,#21a486,#20a486,#20a486,#20a486,#20a486,#20a387,#20a287,#1fa187,#1fa088,#1f9f88,#1f9e89,#219f87,#23a086,#26a285,#29a483,#2ba582,#2da681,#2da083,#2c9985,#2b9187,#298a8a,#29838c,#287c8e,#2a778e,#2c738e,#2e6e8e,#30698d,#32648d,#34608d)"></div><div style="top:664.1px;background:linear-gradient(90deg,#2d8b87,#2c8f87,#2b9486,#2a9c84,#29a482,#28a982,#27ad81,#2db07d,#33b37a,#3db874,#48bd6e,#4ec06b,#54c367,#4dbf6b,#46bb6f,#3cb675,#32b27b,#2cae7f,#25aa83,#24a883,#24a684,#23a585,#21a386,#21a187,#20a088,#20a087,#20a187,#20a187,#20a287,#20a287,#20a386,#20a486,#21a585,#21a585,#21a585,#22a685,#22a784,#22a785,#22a685,#21a685,#21a585,#21a586,#21a486,#20a486,#20a486,#20a486,#20a486,#20a486,#20a386,#20a287,#1fa187,#1fa187,#1fa088,#1f9f88,#1f9e89,#219f87,#23a186,#27a484,#2ba781,#2da980,#2faa7f,#2fa381,#2e9c83,#2b9487,#298b8a,#28858c,#287e8e,#2a798e,#2c748e,#2e6f8e,#306a8e,#32668d,#34618d)"></div><div style="top:667.0px;background:linear-gradient(90deg,#2d8589,#2c8a88,#2b9087,#2a9985,#29a283,#28a882,#27ad81,#2daf7e,#34b379,#40b973,#4cbf6c,#53c268,#59c564,#52c168,#4bbd6d,#3fb873,#34b379,#2caf7e,#26ab82,#25a983,#24a784,#23a685,#22a485,#21a386,#20a187,#20a287,#20a287,#20a287,#20a287,#20a386,#20a486,#21a486,#21a585,#21a585,#21a585,#21a685,#22a785,#22a685,#21a685,#21a585,#21a586,#21a486,#20a486,#20a486,#20a486,#20a486,#20a486,#20a386,#20a386,#20a287,#1fa187,#1fa187,#1fa088,#1fa088,#1f9e88,#21a087,#24a286,#28a683,#2caa80,#2fac7e,#31ad7d,#31a67f,#2f9f82,#2c9686,#298d89,#28868c,#277f8e,#297a8e,#2b768e,#2d718e,#2f6b8e,#31678d,#33628d)"></div><div style="top:670.0px;background:linear-gradient(90deg,#2d808a,#2c858a,#2b8d88,#299686,#289f84,#27a882,#26ac81,#2caf7e,#36b478,#42ba71,#4ec06b,#58c565,#5ec861,#58c465,#4ebf6b,#42ba71,#37b578,#2db07d,#26ac81,#26aa82,#25a883,#23a784,#22a585,#21a486,#20a287,#20a386,#20a386,#20a386,#20a386,#20a386,#20a486,#21a586,#21a585,#21a585,#21a585,#21a585,#21a685,#21a685,#21a585,#21a586,#21a486,#20a486,#20a486,#20a386,#20a386,#20a386,#20a386,#20a386,#20a387,#1fa287,#1fa187,#1fa187,#1fa088,#1fa088,#1f9f88,#21a087,#25a385,#29a882,#2dac7f,#31af7d,#33b17b,#33aa7d,#30a181,#2d9985,#2a9089,#27888c,#26818e,#287c8e,#2a778e,#2d728e,#2f6d8e,#31688e,#33638d)"></div><div style="top:673.0px;background:linear-gradient(90deg,#2c7b8c,#2b808b,#2a8a89,#299387,#289c85,#26a683,#25ac82,#2daf7e,#39b577,#45bb70,#50c169,#5cc662,#64ca5e,#5cc663,#51c169,#45bb70,#3ab676,#2fb17c,#27ad81,#26ab82,#25aa83,#24a883,#23a784,#21a585,#20a386,#20a486,#20a486,#20a486,#20a486,#20a486,#20a486,#21a585,#21a585,#21a585,#21a585,#21a585,#21a685,#21a585,#21a586,#20a486,#20a486,#20a486,#20a386,#20a387,#20a387,#20a387,#20a387,#20a387,#20a387,#1fa287,#1fa187,#1fa187,#1fa088,#1fa088,#1f9f88,#21a187,#26a584,#2aaa81,#2eae7e,#32b27b,#35b47a,#34ad7c,#31a480,#2d9b84,#2a9288,#27898b,#26828e,#287d8e,#2a788e,#2c738e,#2e6e8e,#30698e,#32648d)"></div><div style="top:676.0px;background:linear-gradient(90deg,#2c758d,#2b7d8c,#2a878a,#299088,#279986,#26a384,#25ab82,#2fb07c,#3bb675,#47bc6f,#53c168,#5fc761,#69cc5b,#5fc761,#54c267,#48bd6e,#3db874,#32b37a,#28ae80,#27ac81,#26ab82,#24a983,#23a884,#22a685,#21a586,#21a586,#21a586,#21a586,#21a586,#21a586,#21a586,#21a585,#21a585,#21a585,#21a585,#21a585,#21a585,#21a586,#20a486,#20a486,#20a486,#20a386,#20a387,#20a387,#20a387,#20a387,#20a387,#20a387,#20a387,#1fa287,#1fa187,#1fa187,#1fa088,#1fa088,#1f9f88,#22a386,#27a783,#2bab80,#2fb07d,#33b47a,#37b778,#35af7b,#31a67f,#2e9d83,#2b9587,#288c8b,#25848e,#277f8e,#297a8e,#2b748e,#2e6f8e,#306a8e,#32658e)"></div></div>
<div class="cb" style="left:411.40px;top:388.70px;width:14.20px;height:287.40px;background:linear-gradient(180deg,#fde725,#ece51b,#d8e219,#c2df23,#addc30,#98d83e,#84d44b,#70cf57,#5ec962,#4ec36b,#3fbc73,#32b67a,#28ae80,#22a785,#1fa088,#1f988b,#21918c,#23898e,#26828e,#297a8e,#2c728e,#2f6b8e,#33638d,#375b8d,#3b528b,#3e4989,#424086,#453781,#472d7b,#482374,#48186a,#470d60,#440154)"></div>
<div class="cb" style="left:907.00px;top:392.40px;width:14.20px;height:287.00px;background:linear-gradient(180deg,#fde725,#ece51b,#d8e219,#c2df23,#addc30,#98d83e,#84d44b,#70cf57,#5ec962,#4ec36b,#3fbc73,#32b67a,#28ae80,#22a785,#1fa088,#1f988b,#21918c,#23898e,#26828e,#297a8e,#2c728e,#2f6b8e,#33638d,#375b8d,#3b528b,#3e4989,#424086,#453781,#472d7b,#482374,#48186a,#470d60,#440154)"></div>
<svg width="975" height="733" viewBox="0 0 975 733">
<rect x="411.40" y="388.70" width="14.20" height="287.40" fill="none" stroke="#6b6b6b" stroke-width="0.8"/>
<rect x="907.00" y="392.40" width="14.20" height="287.00" fill="none" stroke="#6b6b6b" stroke-width="0.8"/>
<clipPath id="ca"><rect x="119.0" y="0.6" width="785.2" height="287.59999999999997"/></clipPath>
<g clip-path="url(#ca)" fill="none" stroke-linejoin="round">
<polyline points="119.0,191.4 149.0,191.4 150.9,190.7 152.8,180.3 154.7,171.8 156.5,187.2 158.4,198.6 160.3,201.6 162.2,193.0 164.1,184.2 165.9,194.9 167.8,203.1 169.7,212.4 171.6,218.1 173.5,219.0 175.3,218.4 177.2,192.1 179.1,199.1 181.0,202.7 182.9,196.9 184.7,208.3 186.6,211.4 188.5,209.5 190.4,198.8 192.2,213.9 194.1,195.4 196.0,199.3 197.9,196.5 199.8,185.9 201.6,178.7 203.5,167.6 205.4,168.1 207.3,170.7 209.2,168.9 211.0,182.7 212.9,168.7 214.8,179.7 216.7,194.9 218.6,169.2 220.4,172.3 222.3,187.2 224.2,164.5 226.1,170.2 228.0,158.8 229.8,170.9 231.7,174.7 233.6,195.0 235.5,215.3 237.3,222.1 239.2,217.5 241.1,203.1 243.0,171.3 244.9,184.1 246.7,171.2 248.6,179.0 250.5,180.5 252.4,197.4 254.3,212.3 256.1,217.2 258.0,226.3 259.9,220.4 261.8,223.4 263.7,203.0 265.5,198.1 267.4,193.6 269.3,178.3 271.2,172.1 273.0,173.3 274.9,174.9 276.8,176.7 278.7,164.1 280.6,156.6 282.4,154.8 284.3,148.2 286.2,158.1 288.1,154.4 290.0,173.8 291.8,158.2 293.7,159.2 295.6,159.0 297.5,153.9 299.4,156.4 301.2,161.5 303.1,148.9 305.0,150.3 306.9,163.7 308.7,159.3 310.6,180.7 312.5,159.8 314.4,162.8 316.3,162.8 318.1,136.6 320.0,114.8 321.9,119.5 323.8,117.6 325.7,110.3 327.5,96.9 329.4,106.3 331.3,111.4 333.2,102.9 335.1,106.7 336.9,104.2 338.8,103.6 340.7,123.6 342.6,137.9 344.4,171.4 346.3,172.6 348.2,154.8 350.1,168.1 352.0,152.0 353.8,140.6 355.7,143.1 357.6,144.6 359.5,144.9 361.4,156.3 363.2,159.5 365.1,159.5 367.0,151.7 368.9,142.9 370.8,153.5 372.6,144.3 374.5,155.2 376.4,157.7 378.3,153.5 380.1,154.5 382.0,156.6 383.9,153.8 385.7,152.5 387.5,148.7 389.3,142.0 391.1,131.5 392.9,132.9 394.7,128.1 396.6,123.6 398.5,127.7 400.3,131.6 402.2,128.4 417.9,125.9 433.6,123.6 449.3,121.3 465.0,119.2 480.7,117.1 496.4,115.1 512.2,113.3 527.9,111.5 543.6,109.7 559.3,108.1 575.0,106.5 590.7,105.0 606.4,103.5 622.1,102.2 637.8,100.8 653.5,99.6 669.2,98.3 684.9,97.2 700.6,96.1 716.3,95.0 732.0,94.0 747.7,93.0 763.4,92.1 779.1,91.2 794.8,90.3 810.5,89.5 826.2,88.7 841.9,88.0 857.6,87.3 873.3,86.6 889.0,85.9 904.2,85.3" stroke-width="1.35" stroke="#000"/>
<polyline points="119.0,195.1 150.3,195.1 152.2,192.0 154.1,192.7 155.9,183.1 157.8,183.6 159.7,219.0 161.6,197.5 163.5,184.8 165.3,187.5 167.2,193.0 169.1,190.7 171.0,206.5 172.8,201.5 174.7,203.3 176.6,206.1 178.5,215.0 180.4,219.7 182.2,202.5 184.1,184.4 186.0,178.1 187.9,178.9 189.7,189.3 191.6,179.6 193.5,160.6 195.4,181.9 197.3,167.9 199.1,195.1 201.0,197.5 202.9,191.2 204.8,206.3 206.6,221.7 208.5,215.9 210.4,202.6 212.3,206.9 214.2,189.2 216.0,198.7 217.9,177.2 219.8,177.5 221.7,176.5 223.7,167.2 225.7,162.9 227.7,148.7 229.8,152.8 231.7,147.5 233.5,151.8 235.4,153.0 237.3,153.5 253.0,151.1 268.7,148.8 284.4,146.6 300.1,144.4 315.8,142.4 331.5,140.5 347.2,138.7 362.9,136.9 378.6,135.3 394.4,133.7 410.1,132.1 425.8,130.7 441.5,129.3 457.2,128.0 472.9,126.7 488.6,125.5 504.3,124.3 520.0,123.2 535.7,122.1 551.4,121.1 567.1,120.2 582.8,119.2 598.5,118.3 614.2,117.5 629.9,116.7 645.6,115.9 661.3,115.2 677.0,114.5 692.7,113.8 708.4,113.2 724.1,112.6 739.8,112.0 755.5,111.4 771.2,110.9 787.0,110.4 802.7,109.9 818.4,109.4 834.1,109.0 849.8,108.6 865.5,108.2 881.2,107.8 896.9,107.4 904.2,107.2" stroke-width="1.35" stroke="#000"/>
<polyline points="119.0,225.7 148.2,225.7 150.1,226.2 152.0,245.1 153.9,230.0 155.8,226.7 157.7,210.9 159.6,201.3 161.5,199.9 163.4,197.9 165.3,183.7 167.2,187.3 169.1,190.2 171.0,190.1 172.9,181.2 174.8,171.9 176.7,151.9 178.6,158.0 180.5,147.4 182.4,160.8 184.3,157.5 186.2,160.4 188.1,143.8 190.0,142.6 191.9,154.0 193.8,152.0 195.7,152.9 197.6,161.6 199.5,169.1 201.4,183.3 203.3,152.0 205.2,155.6 207.1,148.8 209.0,168.3 210.9,184.5 212.7,187.6 214.6,190.3 216.5,181.4 218.4,195.1 220.3,188.7 222.2,171.5 224.1,185.3 226.0,175.7 227.9,189.4 229.8,185.9 231.7,182.6 233.6,163.4 235.5,175.2 237.4,175.4 239.3,165.2 241.2,182.4 243.1,185.5 245.0,203.3 246.9,217.8 248.8,214.8 250.7,212.8 252.6,189.6 254.5,184.3 256.4,181.6 258.3,197.3 260.2,193.0 262.0,185.1 263.9,192.6 265.8,165.7 267.7,172.7 269.6,169.2 271.5,160.4 273.3,147.6 275.2,140.0 277.1,141.4 279.0,142.2 280.9,140.6 282.8,141.4 284.6,142.0 300.3,138.8 316.0,135.8 331.8,133.0 347.5,130.3 363.2,127.8 378.9,125.4 394.6,123.2 410.3,121.0 426.0,119.1 441.7,117.2 457.4,115.4 473.1,113.7 488.8,112.2 504.5,110.7 520.2,109.3 535.9,108.0 551.6,106.7 567.3,105.5 583.0,104.4 598.7,103.4 614.4,102.4 630.1,101.5 645.8,100.6 661.5,99.8 677.2,99.0 692.9,98.2 708.6,97.6 724.4,96.9 740.1,96.3 755.8,95.7 771.5,95.2 787.2,94.6 802.9,94.2 818.6,93.7 834.3,93.3 850.0,92.9 865.7,92.5 881.4,92.1 897.1,91.8 904.2,91.6" stroke-width="1.35" stroke="#000"/>
<polyline points="119.0,206.6 149.1,206.6 151.0,185.7 152.9,193.9 154.8,193.2 156.7,184.2 158.6,191.2 160.5,184.8 162.4,192.9 164.4,184.0 166.3,184.0 168.2,196.0 170.1,178.9 172.0,181.9 173.9,186.9 175.8,198.9 177.7,204.0 179.6,204.0 181.5,200.7 183.4,186.6 185.4,202.8 187.3,205.3 189.2,188.9 191.1,186.5 193.0,181.6 194.9,163.2 196.8,162.0 198.7,159.4 200.6,163.4 202.5,146.4 204.4,143.0 206.4,161.8 208.3,163.9 210.2,186.5 212.1,180.5 214.0,180.7 215.9,191.4 217.8,204.3 219.7,209.4 221.7,191.0 223.6,191.3 225.6,187.8 227.5,177.6 229.4,180.6 231.4,175.6 233.3,171.7 235.2,163.4 237.1,166.6 239.0,159.1 240.9,163.6 242.8,163.6 258.5,162.7 274.2,161.8 289.9,160.9 305.6,160.1 321.3,159.3 337.0,158.5 352.7,157.8 368.4,157.1 384.1,156.5 399.8,155.9 415.5,155.3 431.2,154.7 446.9,154.2 462.6,153.6 478.3,153.1 494.0,152.7 509.7,152.2 525.4,151.8 541.2,151.4 556.9,151.0 572.6,150.6 588.3,150.3 604.0,149.9 619.7,149.6 635.4,149.3 651.1,149.0 666.8,148.7 682.5,148.5 698.2,148.2 713.9,148.0 729.6,147.7 745.3,147.5 761.0,147.3 776.7,147.1 792.4,146.9 808.1,146.7 823.8,146.6 839.5,146.4 855.2,146.2 870.9,146.1 886.6,145.9 902.3,145.8 904.2,145.8" stroke-width="1.35" stroke="#000"/>
<polyline points="119.0,203.6 149.0,203.6 150.9,213.2 152.8,209.7 154.7,208.0 156.6,225.5 158.5,226.2 160.4,241.2 162.3,262.3 164.2,272.3 166.1,265.6 168.0,263.8 169.9,238.8 171.8,255.2 173.7,256.3 175.6,248.0 177.5,242.4 179.4,228.8 181.3,220.3 183.2,220.9 185.2,241.0 187.1,241.5 189.0,209.4 190.9,191.9 192.8,182.9 194.8,191.2 196.8,186.6 198.7,187.9 200.7,178.7 202.6,178.1 204.6,173.5 206.6,172.9 208.5,169.0 210.3,174.6 212.2,172.2 214.1,173.8 229.8,171.5 245.5,169.4 261.2,167.4 276.9,165.4 292.6,163.6 308.3,161.8 324.0,160.1 339.7,158.5 355.4,157.0 371.2,155.6 386.9,154.2 402.6,152.9 418.3,151.7 434.0,150.5 449.7,149.4 465.4,148.4 481.1,147.4 496.8,146.4 512.5,145.5 528.2,144.6 543.9,143.8 559.6,143.0 575.3,142.3 591.0,141.6 606.7,140.9 622.4,140.3 638.1,139.7 653.8,139.1 669.5,138.6 685.2,138.1 700.9,137.6 716.6,137.1 732.3,136.6 748.0,136.2 763.8,135.8 779.5,135.4 795.2,135.1 810.9,134.7 826.6,134.4 842.3,134.1 858.0,133.8 873.7,133.5 889.4,133.2 904.2,133.0" stroke-width="1.35" stroke="#000"/>
<polyline points="119.0,182.7 148.3,182.7 150.2,192.7 152.1,197.6 154.0,193.4 155.9,205.6 157.9,199.2 159.8,180.1 161.7,202.3 163.6,188.4 165.5,167.3 167.4,181.9 169.4,180.3 171.3,202.3 173.2,200.8 175.1,207.2 177.0,205.4 178.9,203.0 180.7,194.6 182.6,184.6 184.4,178.1 186.3,169.7 188.1,157.6 190.0,158.4 191.9,159.9 193.8,158.0 195.7,157.4 211.4,154.6 227.1,151.8 242.8,149.3 258.5,146.8 274.2,144.5 289.9,142.3 305.6,140.2 321.3,138.3 337.0,136.4 352.7,134.7 368.4,133.0 384.1,131.4 399.8,129.9 415.5,128.5 431.2,127.2 446.9,125.9 462.6,124.7 478.4,123.6 494.1,122.5 509.8,121.5 525.5,120.5 541.2,119.6 556.9,118.8 572.6,118.0 588.3,117.2 604.0,116.4 619.7,115.8 635.4,115.1 651.1,114.5 666.8,113.9 682.5,113.3 698.2,112.8 713.9,112.3 729.6,111.8 745.3,111.4 761.0,111.0 776.7,110.6 792.4,110.2 808.1,109.8 823.8,109.5 839.5,109.2 855.2,108.9 871.0,108.6 886.7,108.3 902.4,108.1 904.2,108.0" stroke-width="1.35" stroke="#000"/>
<polyline points="119.0,171.5 149.5,171.5 151.4,192.1 153.2,183.8 155.1,163.7 156.9,176.8 158.8,176.0 160.7,183.2 162.5,186.4 164.4,192.8 166.2,202.9 168.1,197.4 169.9,191.1 171.8,196.1 173.6,183.1 175.5,176.6 177.3,175.4 179.2,190.6 181.1,176.6 183.1,175.8 185.1,190.7 187.0,181.1 189.0,173.8 190.9,162.2 192.9,156.6 194.9,159.3 196.8,160.0 198.6,158.9 200.5,158.5 202.4,160.1 218.1,157.9 233.8,155.8 249.5,153.8 265.2,151.9 280.9,150.1 296.6,148.4 312.3,146.7 328.0,145.1 343.7,143.6 359.5,142.2 375.2,140.8 390.9,139.4 406.6,138.2 422.3,136.9 438.0,135.8 453.7,134.7 469.4,133.6 485.1,132.6 500.8,131.6 516.5,130.7 532.2,129.8 547.9,128.9 563.6,128.1 579.3,127.3 595.0,126.6 610.7,125.9 626.4,125.2 642.1,124.5 657.8,123.9 673.5,123.3 689.2,122.7 704.9,122.2 720.6,121.6 736.3,121.1 752.1,120.7 767.8,120.2 783.5,119.8 799.2,119.4 814.9,119.0 830.6,118.6 846.3,118.2 862.0,117.9 877.7,117.5 893.4,117.2 904.2,117.0" stroke-width="1.35" stroke="#000"/>
<polyline points="119.0,178.2 148.7,178.2 150.5,183.7 152.4,186.6 154.3,188.6 156.1,175.2 158.0,171.2 159.9,161.2 161.8,157.6 163.6,163.7 165.5,154.9 167.4,162.5 169.2,163.2 171.1,178.5 173.0,179.0 174.8,184.4 176.7,180.9 178.6,160.9 180.4,136.7 182.3,131.3 184.2,138.9 186.1,135.4 187.9,139.3 189.8,152.5 191.7,157.7 193.5,164.3 195.4,174.3 197.3,159.6 199.1,169.2 201.0,177.0 202.9,169.7 204.7,179.6 206.6,193.6 208.5,202.2 210.3,194.1 212.2,188.0 214.1,183.6 216.0,188.5 217.8,198.1 219.7,185.0 221.6,201.1 223.4,200.7 225.3,213.4 227.2,213.6 229.0,210.8 230.9,192.1 232.8,223.8 234.6,201.9 236.5,208.6 238.4,200.0 240.3,186.2 242.1,192.5 244.0,190.0 245.9,180.9 247.7,180.0 249.6,186.4 251.5,181.1 253.3,179.3 255.1,187.0 256.9,170.4 258.8,175.5 260.6,188.8 262.4,179.1 264.3,164.2 266.1,172.6 268.0,168.8 269.9,172.1 271.7,174.6 273.6,172.8 289.3,169.9 305.0,167.3 320.7,164.7 336.4,162.3 352.1,160.0 367.8,157.8 383.6,155.8 399.3,153.8 415.0,152.0 430.7,150.2 446.4,148.5 462.1,146.9 477.8,145.4 493.5,144.0 509.2,142.6 524.9,141.3 540.6,140.1 556.3,138.9 572.0,137.8 587.7,136.7 603.4,135.7 619.1,134.8 634.8,133.9 650.5,133.0 666.2,132.2 681.9,131.4 697.6,130.7 713.3,130.0 729.0,129.3 744.7,128.7 760.4,128.1 776.2,127.5 791.9,127.0 807.6,126.5 823.3,126.0 839.0,125.5 854.7,125.1 870.4,124.7 886.1,124.3 901.8,123.9 904.2,123.8" stroke-width="1.35" stroke="#000"/>
<polyline points="119.0,173.6 150.3,173.6 152.2,164.8 154.1,167.8 156.0,197.0 157.8,202.3 159.7,199.5 161.6,173.0 163.5,167.6 165.4,160.4 167.3,153.8 169.2,141.9 171.1,160.8 173.0,173.9 174.8,189.4 176.7,192.5 178.6,196.0 180.5,193.7 182.4,205.1 184.3,201.9 186.2,210.4 188.1,182.7 190.0,189.8 191.8,159.6 193.7,144.0 195.6,163.8 197.5,155.8 199.4,152.9 201.3,175.7 203.2,170.4 205.1,174.0 207.0,171.9 208.8,184.3 210.7,185.9 212.6,181.5 214.5,184.7 216.4,192.6 218.3,194.0 220.2,205.0 222.1,198.9 224.0,227.8 225.8,205.0 227.7,201.9 229.6,194.3 231.5,183.0 233.4,197.8 235.3,169.0 237.2,183.8 239.1,177.9 241.0,174.3 242.8,159.3 244.7,161.7 246.6,180.3 248.5,176.0 250.4,205.1 252.3,203.8 254.2,205.6 256.1,183.1 258.0,185.2 259.8,188.9 261.7,195.7 263.6,202.8 265.5,205.4 267.4,194.0 269.3,206.7 271.2,204.6 273.1,217.6 275.0,213.7 276.9,206.3 278.7,216.4 280.6,217.4 282.5,210.3 284.4,196.2 286.3,181.6 288.2,181.5 290.1,191.9 292.0,208.5 293.9,195.1 295.7,177.3 297.6,174.1 299.5,157.3 301.4,166.7 303.3,174.4 305.2,158.2 307.1,174.6 309.0,170.2 310.8,168.1 312.7,169.4 314.5,160.8 316.3,175.0 318.2,172.5 320.0,181.6 321.9,175.9 323.7,173.0 325.6,172.3 327.4,170.2 329.3,170.7 331.2,169.7 333.1,171.0 335.0,171.4 350.7,167.9 366.4,164.7 382.1,161.7 397.8,158.9 413.5,156.2 429.2,153.7 444.9,151.4 460.6,149.2 476.3,147.1 492.0,145.2 507.7,143.3 523.4,141.6 539.1,140.0 554.8,138.5 570.5,137.1 586.2,135.8 601.9,134.5 617.6,133.3 633.3,132.2 649.0,131.2 664.7,130.2 680.5,129.3 696.2,128.5 711.9,127.7 727.6,126.9 743.3,126.2 759.0,125.5 774.7,124.9 790.4,124.3 806.1,123.8 821.8,123.3 837.5,122.8 853.2,122.3 868.9,121.9 884.6,121.5 900.3,121.1 904.2,121.0" stroke-width="1.35" stroke="#000"/>
<polyline points="119.0,206.6 147.9,206.6 149.8,211.3 151.7,210.5 153.6,210.9 155.5,199.9 157.4,212.3 159.3,182.4 161.2,197.9 163.1,204.6 165.0,194.1 166.8,206.0 168.7,212.0 170.6,211.0 172.5,245.5 174.4,246.2 176.3,251.9 178.2,248.1 180.1,235.6 182.0,222.7 183.9,201.0 185.8,182.6 187.6,171.2 189.5,174.1 191.4,163.6 193.3,178.8 195.2,181.5 197.1,165.5 199.0,159.2 200.9,179.6 202.8,186.6 204.7,171.9 206.6,161.6 208.4,146.4 210.3,166.1 212.2,176.6 214.1,172.9 216.0,177.6 217.9,169.7 219.9,162.4 222.0,153.4 224.1,148.9 226.1,138.0 228.2,134.0 230.0,132.1 231.9,133.7 233.8,135.5 235.7,133.2 251.4,130.8 267.1,128.5 282.8,126.3 298.5,124.2 314.2,122.2 329.9,120.2 345.6,118.3 361.3,116.5 377.0,114.8 392.7,113.1 408.4,111.5 424.1,110.0 439.8,108.5 455.5,107.1 471.3,105.7 487.0,104.4 502.7,103.1 518.4,101.9 534.1,100.7 549.8,99.6 565.5,98.6 581.2,97.5 596.9,96.5 612.6,95.6 628.3,94.7 644.0,93.8 659.7,93.0 675.4,92.1 691.1,91.4 706.8,90.6 722.5,89.9 738.2,89.2 753.9,88.5 769.6,87.9 785.3,87.3 801.0,86.7 816.7,86.1 832.4,85.6 848.1,85.1 863.9,84.6 879.6,84.1 895.3,83.6 904.2,83.4" stroke-width="1.35" stroke="#000"/>
<polyline points="119.0,171.9 149.4,171.9 151.3,182.4 153.2,175.3 155.1,185.7 156.9,225.7 158.8,218.9 160.7,209.5 162.6,193.8 164.5,186.7 166.4,188.5 168.3,182.1 170.1,178.7 172.0,180.4 173.9,172.0 175.7,169.4 177.5,176.4 179.4,164.8 181.2,165.4 183.0,165.1 184.8,183.9 186.6,167.8 188.4,168.6 190.3,172.9 192.1,167.0 194.0,165.6 195.9,169.7 197.7,165.5 199.6,166.8 215.3,164.0 231.0,161.2 246.7,158.6 262.4,156.1 278.1,153.8 293.8,151.5 309.5,149.3 325.3,147.2 341.0,145.2 356.7,143.3 372.4,141.4 388.1,139.7 403.8,138.0 419.5,136.4 435.2,134.8 450.9,133.3 466.6,131.9 482.3,130.5 498.0,129.2 513.7,128.0 529.4,126.8 545.1,125.7 560.8,124.6 576.5,123.5 592.2,122.5 607.9,121.5 623.6,120.6 639.3,119.7 655.0,118.9 670.7,118.1 686.4,117.3 702.1,116.6 717.9,115.9 733.6,115.2 749.3,114.5 765.0,113.9 780.7,113.3 796.4,112.7 812.1,112.2 827.8,111.7 843.5,111.2 859.2,110.7 874.9,110.2 890.6,109.8 904.2,109.4" stroke-width="1.35" stroke="#000"/>
<polyline points="119.0,183.5 147.9,183.5 149.8,189.2 151.7,207.3 153.5,215.9 155.4,219.3 157.3,211.8 159.2,201.6 161.1,207.8 163.0,223.8 164.9,223.2 166.7,233.6 168.6,211.2 170.5,222.2 172.4,211.6 174.3,198.5 176.2,208.7 178.1,194.2 180.0,195.2 181.8,203.9 183.7,213.3 185.6,208.8 187.5,193.2 189.4,214.6 191.3,203.3 193.2,202.2 195.0,208.2 196.9,205.6 198.8,202.1 200.7,199.5 202.6,186.8 204.5,196.1 206.4,169.9 208.3,165.3 210.1,173.4 212.0,180.7 213.9,170.3 215.8,172.4 217.7,166.1 219.6,166.2 221.5,159.6 223.4,170.8 225.3,165.8 227.2,169.9 229.0,171.0 230.9,170.6 232.8,168.1 234.7,170.0 250.4,167.9 266.1,165.9 281.8,163.9 297.5,162.1 313.2,160.3 328.9,158.6 344.6,157.0 360.3,155.4 376.0,153.9 391.7,152.5 407.4,151.2 423.1,149.9 438.9,148.7 454.6,147.5 470.3,146.3 486.0,145.3 501.7,144.2 517.4,143.2 533.1,142.3 548.8,141.4 564.5,140.5 580.2,139.7 595.9,138.9 611.6,138.2 627.3,137.5 643.0,136.8 658.7,136.1 674.4,135.5 690.1,134.9 705.8,134.3 721.5,133.8 737.2,133.2 752.9,132.7 768.6,132.3 784.3,131.8 800.0,131.4 815.7,130.9 831.5,130.5 847.2,130.2 862.9,129.8 878.6,129.4 894.3,129.1 904.2,128.9" stroke-width="1.35" stroke="#000"/>
<polyline points="119.0,195.2 149.0,195.2 150.9,174.8 152.8,167.6 154.7,147.5 156.6,122.9 158.5,142.6 160.4,155.3 162.3,156.8 164.2,149.8 166.1,161.0 168.0,168.5 169.9,158.4 171.8,173.1 173.7,172.9 175.6,162.4 177.5,169.3 179.4,163.0 181.3,168.2 183.2,190.5 185.1,197.6 187.0,199.9 188.9,203.6 190.8,202.6 192.7,197.3 194.6,194.1 196.4,192.6 198.3,198.6 200.2,201.3 202.1,205.6 204.0,211.9 205.9,193.9 207.8,217.2 209.7,212.1 211.6,229.8 213.5,233.0 215.4,217.6 217.3,213.3 219.2,188.7 221.1,194.5 223.0,191.1 224.9,191.5 226.8,183.4 228.7,179.7 230.6,176.5 232.3,173.5 234.1,164.6 235.8,166.4 237.5,163.5 239.3,159.4 241.2,160.6 243.1,161.0 244.9,161.4 246.8,160.2 262.5,158.9 278.2,157.6 293.9,156.4 309.6,155.3 325.3,154.2 341.1,153.1 356.8,152.1 372.5,151.1 388.2,150.2 403.9,149.3 419.6,148.5 435.3,147.6 451.0,146.9 466.7,146.1 482.4,145.4 498.1,144.7 513.8,144.0 529.5,143.4 545.2,142.8 560.9,142.2 576.6,141.7 592.3,141.1 608.0,140.6 623.7,140.1 639.4,139.7 655.1,139.2 670.8,138.8 686.5,138.4 702.2,138.0 717.9,137.6 733.7,137.2 749.4,136.9 765.1,136.5 780.8,136.2 796.5,135.9 812.2,135.6 827.9,135.3 843.6,135.1 859.3,134.8 875.0,134.5 890.7,134.3 904.2,134.1" stroke-width="1.35" stroke="#000"/>
<polyline points="119.0,223.0 147.9,223.0 149.9,209.4 151.8,216.9 153.8,231.1 155.7,233.8 157.7,220.2 159.7,224.3 161.6,229.4 163.6,210.6 165.6,205.3 167.5,208.5 169.5,188.9 171.4,188.1 173.3,187.4 175.1,184.5 176.9,176.0 178.7,167.9 180.5,158.9 182.4,154.6 184.2,153.7 186.0,149.5 187.9,152.3 189.8,147.8 191.7,149.4 193.5,150.2 209.2,147.9 224.9,145.6 240.6,143.5 256.4,141.5 272.1,139.5 287.8,137.7 303.5,135.9 319.2,134.1 334.9,132.5 350.6,130.9 366.3,129.4 382.0,127.9 397.7,126.5 413.4,125.2 429.1,123.9 444.8,122.7 460.5,121.5 476.2,120.4 491.9,119.3 507.6,118.2 523.3,117.2 539.0,116.3 554.7,115.3 570.4,114.4 586.1,113.6 601.8,112.8 617.5,112.0 633.2,111.3 649.0,110.5 664.7,109.8 680.4,109.2 696.1,108.5 711.8,107.9 727.5,107.4 743.2,106.8 758.9,106.3 774.6,105.7 790.3,105.2 806.0,104.8 821.7,104.3 837.4,103.9 853.1,103.5 868.8,103.1 884.5,102.7 900.2,102.3 904.2,102.2" stroke-width="1.35" stroke="#000"/>
<polyline points="119.0,201.4 150.2,201.4 152.1,194.8 154.0,209.5 155.9,190.8 157.7,213.5 159.6,213.5 161.5,226.7 163.4,230.6 165.2,232.9 167.1,224.9 169.0,238.8 170.9,233.3 172.7,215.6 174.6,214.4 176.5,207.7 178.4,203.1 180.2,213.0 182.1,217.0 184.0,215.6 185.9,209.1 187.7,184.8 189.6,168.1 191.5,178.3 193.4,186.8 195.2,201.1 197.1,228.9 199.0,210.3 200.9,203.1 202.7,226.1 204.6,223.0 206.5,192.3 208.4,187.5 210.2,182.9 212.1,182.4 214.0,193.5 215.9,207.9 217.7,216.5 219.6,212.4 221.5,213.3 223.4,202.9 225.2,181.0 227.1,175.6 229.0,167.9 230.9,175.2 232.7,192.9 234.6,167.1 236.5,161.6 238.4,151.2 240.2,160.7 242.1,184.7 244.0,169.8 245.9,198.1 247.7,199.2 249.6,204.6 251.5,200.2 253.4,189.3 255.2,179.5 257.1,205.8 259.0,191.9 260.9,214.3 262.7,202.3 264.6,203.7 266.5,213.0 268.4,213.7 270.2,223.3 272.1,215.9 274.0,197.6 275.8,182.9 277.7,178.7 279.5,165.3 281.2,161.1 283.0,144.5 284.7,145.9 286.5,144.5 288.2,135.3 290.0,126.0 291.9,127.9 293.7,126.6 295.6,126.2 297.5,125.6 313.2,123.5 328.9,121.4 344.6,119.5 360.3,117.6 376.0,115.7 391.7,114.0 407.4,112.3 423.2,110.6 438.9,109.1 454.6,107.5 470.3,106.1 486.0,104.7 501.7,103.3 517.4,102.0 533.1,100.8 548.8,99.5 564.5,98.4 580.2,97.3 595.9,96.2 611.6,95.1 627.3,94.1 643.0,93.2 658.7,92.2 674.4,91.4 690.1,90.5 705.8,89.7 721.5,88.9 737.2,88.1 752.9,87.4 768.6,86.6 784.3,86.0 800.0,85.3 815.8,84.7 831.5,84.1 847.2,83.5 862.9,82.9 878.6,82.3 894.3,81.8 904.2,81.5" stroke-width="1.35" stroke="#000"/>
<polyline points="119.0,195.2 149.3,195.2 151.2,217.8 153.1,215.4 155.0,216.4 156.9,234.9 158.8,260.5 160.7,257.2 162.5,266.4 164.4,256.4 166.3,255.7 168.2,245.4 170.1,246.2 172.0,224.6 173.9,215.8 175.8,198.0 177.7,199.3 179.6,214.0 181.5,231.6 183.4,236.0 185.2,230.2 187.1,236.2 189.0,204.1 190.9,206.3 192.8,201.8 194.7,202.3 196.6,218.8 198.5,205.2 200.4,198.2 202.3,189.3 204.2,203.1 206.1,203.6 207.9,204.7 209.8,190.9 211.7,209.5 213.6,200.9 215.5,186.1 217.4,193.4 219.3,204.4 221.2,188.1 223.1,186.8 225.0,174.8 226.9,168.7 228.7,159.5 230.6,166.4 232.5,195.7 234.4,188.6 236.3,197.7 238.2,189.8 240.1,196.6 242.0,176.4 243.9,181.3 245.8,172.5 247.7,161.3 249.6,165.7 251.4,164.6 253.3,167.7 255.2,181.4 257.1,164.3 259.0,178.1 260.9,198.1 262.8,202.7 264.7,199.0 266.6,196.5 268.5,199.2 270.4,202.9 272.3,226.5 274.1,213.7 276.0,188.9 277.9,197.1 279.8,217.2 281.7,203.9 283.6,203.3 285.5,248.6 287.4,249.3 289.3,255.9 291.2,258.2 293.1,229.5 294.9,211.5 296.8,209.6 298.7,205.7 300.6,183.3 302.5,196.1 304.4,185.0 306.3,191.9 308.2,180.7 310.1,179.7 312.0,191.0 313.9,179.0 315.8,175.0 317.6,156.0 319.5,167.0 321.4,170.2 323.3,183.4 325.3,170.8 327.3,176.4 329.2,166.7 331.2,153.8 333.2,152.7 335.2,148.5 337.1,143.2 339.1,139.5 341.0,138.5 342.9,138.2 344.8,139.8 346.7,140.7 362.4,139.3 378.1,137.9 393.8,136.6 409.5,135.3 425.2,134.1 440.9,132.9 456.6,131.7 472.3,130.6 488.0,129.5 503.7,128.5 519.4,127.5 535.1,126.5 550.8,125.5 566.5,124.6 582.2,123.7 597.9,122.8 613.6,122.0 629.3,121.2 645.0,120.4 660.7,119.6 676.4,118.9 692.1,118.2 707.8,117.5 723.5,116.8 739.3,116.1 755.0,115.5 770.7,114.9 786.4,114.3 802.1,113.7 817.8,113.2 833.5,112.6 849.2,112.1 864.9,111.6 880.6,111.1 896.3,110.6 904.2,110.4" stroke-width="1.35" stroke="#000"/>
<polyline points="119.0,223.0 149.0,223.0 150.9,248.0 152.8,234.4 154.6,230.6 156.5,233.3 158.4,231.4 160.3,236.6 162.1,239.0 164.0,226.9 165.9,227.4 167.8,216.5 169.7,224.1 171.5,244.2 173.4,247.7 175.3,244.5 177.2,253.5 179.0,252.6 180.9,253.1 182.8,236.1 184.7,222.1 186.5,206.7 188.4,215.8 190.3,210.3 192.2,193.8 194.1,192.8 195.9,194.9 197.8,205.2 199.7,194.6 201.6,193.3 203.4,182.0 205.3,186.0 207.2,162.5 209.1,167.2 210.9,186.0 212.8,185.0 214.7,180.5 216.6,166.7 218.5,176.1 220.3,185.0 222.2,189.5 224.1,194.8 226.0,220.4 227.8,208.2 229.7,190.9 231.6,200.2 233.5,211.0 235.3,210.1 237.2,217.4 239.1,204.1 241.0,209.6 242.9,199.2 244.7,212.7 246.6,226.4 248.5,240.2 250.4,250.2 252.2,236.9 254.1,219.7 256.0,213.2 257.9,206.4 259.7,230.0 261.6,210.1 263.5,221.1 265.4,199.8 267.3,167.4 269.1,167.6 271.0,160.9 272.9,154.9 274.8,173.1 276.6,186.8 278.5,193.4 280.4,188.9 282.3,176.4 284.1,174.3 286.0,160.3 287.9,167.5 289.8,184.9 291.7,182.5 293.5,181.3 295.4,196.8 297.3,180.6 299.2,190.5 301.0,195.3 302.9,186.3 304.8,193.8 306.7,179.5 308.5,169.3 310.4,159.2 312.3,155.6 314.2,157.8 316.1,162.8 318.0,161.1 320.0,155.1 322.0,158.4 324.0,160.7 326.0,157.1 328.0,155.3 330.0,162.8 331.8,165.8 333.7,162.9 335.6,161.3 337.5,163.2 353.2,160.4 368.9,157.7 384.6,155.2 400.3,152.7 416.0,150.4 431.7,148.2 447.4,146.1 463.1,144.1 478.8,142.2 494.5,140.4 510.2,138.6 525.9,137.0 541.6,135.4 557.3,133.9 573.1,132.5 588.8,131.1 604.5,129.8 620.2,128.6 635.9,127.4 651.6,126.3 667.3,125.2 683.0,124.2 698.7,123.2 714.4,122.3 730.1,121.4 745.8,120.6 761.5,119.8 777.2,119.0 792.9,118.3 808.6,117.6 824.3,117.0 840.0,116.3 855.7,115.7 871.4,115.2 887.1,114.6 902.8,114.1 904.2,114.1" stroke-width="1.35" stroke="#000"/>
<polyline points="119.0,206.6 149.9,206.6 151.7,223.1 153.6,213.8 155.5,191.5 157.4,173.8 159.3,186.3 161.1,191.5 163.0,196.2 164.9,206.7 166.8,185.3 168.7,195.4 170.5,209.4 172.4,203.7 174.3,199.1 176.2,180.5 178.1,164.1 179.9,170.4 181.8,199.1 183.7,190.7 185.6,181.8 187.5,161.9 189.3,185.2 191.2,200.7 193.1,181.5 195.0,163.7 196.8,152.0 198.7,157.7 200.6,146.8 202.5,159.6 204.4,179.1 206.2,182.0 208.1,182.5 210.0,174.4 211.9,163.9 213.8,189.1 215.6,186.5 217.5,181.8 219.4,198.8 221.3,201.7 223.2,200.3 225.0,194.4 226.9,204.9 228.8,211.1 230.7,222.5 232.5,215.0 234.4,216.6 236.3,221.1 238.2,210.1 240.1,210.3 241.9,222.8 243.8,205.6 245.7,192.4 247.6,186.9 249.5,200.2 251.3,185.9 253.2,193.7 255.1,216.0 257.0,214.6 258.9,190.0 260.7,195.4 262.6,187.7 264.5,171.5 266.4,171.4 268.3,177.2 270.1,178.3 272.0,172.4 273.9,180.3 275.8,176.8 277.6,171.1 279.5,177.2 281.4,169.4 283.3,164.3 285.2,170.4 287.0,173.9 288.9,173.4 290.8,175.9 292.7,178.8 294.6,190.8 296.4,187.9 298.3,177.7 300.2,169.3 302.1,178.6 304.0,170.0 305.8,161.6 307.7,172.2 309.6,164.1 311.5,165.0 313.3,167.9 315.2,163.0 317.0,164.3 318.8,175.3 320.6,162.0 322.4,169.3 324.2,163.0 326.0,163.3 327.9,161.8 329.8,163.3 331.7,163.3 347.4,160.1 363.1,157.2 378.8,154.4 394.5,151.7 410.2,149.2 425.9,146.8 441.6,144.6 457.3,142.5 473.0,140.5 488.7,138.6 504.4,136.8 520.1,135.1 535.8,133.5 551.5,132.0 567.3,130.6 583.0,129.2 598.7,127.9 614.4,126.7 630.1,125.6 645.8,124.5 661.5,123.5 677.2,122.5 692.9,121.6 708.6,120.8 724.3,119.9 740.0,119.2 755.7,118.5 771.4,117.8 787.1,117.1 802.8,116.5 818.5,115.9 834.2,115.4 849.9,114.9 865.6,114.4 881.3,113.9 897.0,113.5 904.2,113.3" stroke-width="1.35" stroke="#000"/>
<polyline points="119.0,195.2 149.3,195.2 151.1,186.0 152.9,210.9 154.7,204.7 156.5,195.0 158.2,186.1 160.0,175.8 161.8,182.0 163.6,185.4 165.5,181.4 167.4,184.0 169.2,180.8 171.1,170.6 172.9,180.9 174.8,177.0 176.6,164.2 178.5,173.7 180.3,171.6 182.2,174.1 184.1,171.2 186.0,171.4 187.9,171.5 203.6,169.1 219.3,166.8 235.0,164.7 250.7,162.6 266.4,160.6 282.1,158.7 297.8,156.8 313.5,155.1 329.2,153.4 344.9,151.8 360.6,150.3 376.3,148.9 392.0,147.5 407.7,146.1 423.4,144.9 439.1,143.7 454.8,142.5 470.5,141.4 486.2,140.3 501.9,139.3 517.6,138.4 533.3,137.4 549.0,136.5 564.8,135.7 580.5,134.9 596.2,134.1 611.9,133.4 627.6,132.7 643.3,132.0 659.0,131.4 674.7,130.8 690.4,130.2 706.1,129.6 721.8,129.1 737.5,128.6 753.2,128.1 768.9,127.6 784.6,127.2 800.3,126.7 816.0,126.3 831.7,125.9 847.4,125.6 863.1,125.2 878.8,124.9 894.5,124.5 904.2,124.3" stroke-width="1.35" stroke="#000"/>
<polyline points="119.0,173.6 150.2,173.6 152.1,171.3 154.0,186.6 155.9,183.6 157.7,208.2 159.6,193.2 161.5,199.7 163.4,192.5 165.3,177.3 167.2,192.9 169.1,180.3 171.0,180.1 172.8,169.0 174.7,176.9 176.6,187.6 178.5,173.7 180.4,171.6 182.3,174.1 184.2,190.1 186.0,175.2 187.9,181.4 189.8,185.4 191.7,194.3 193.6,193.9 195.5,186.6 197.4,187.7 199.2,188.9 201.1,195.2 203.0,176.9 204.9,159.1 206.8,165.8 208.7,178.3 210.6,176.0 212.5,195.7 214.3,191.1 216.2,186.8 218.1,184.1 220.0,165.0 221.9,145.3 223.8,144.1 225.7,152.3 227.5,143.3 229.4,134.0 231.3,152.9 233.2,164.0 235.1,168.3 237.0,188.3 238.9,199.4 240.7,177.1 242.6,191.2 244.5,179.0 246.4,187.5 248.3,174.0 250.2,170.0 252.1,159.7 254.0,177.2 255.8,173.1 257.7,179.5 259.6,169.5 261.5,161.4 263.4,160.5 265.3,163.3 267.2,164.3 269.0,162.2 270.9,169.1 272.8,174.4 274.7,181.3 276.6,192.2 278.5,177.3 280.4,191.7 282.2,173.9 284.1,165.1 286.0,185.4 287.9,204.6 289.8,199.9 291.7,208.5 293.6,202.0 295.5,186.9 297.3,180.4 299.2,181.4 301.1,181.8 303.0,162.9 304.9,167.5 306.8,157.3 308.7,155.0 310.6,167.1 312.5,162.9 314.5,154.7 316.4,166.8 318.3,160.1 320.2,156.1 322.1,161.5 324.0,163.7 325.9,160.7 327.8,161.2 329.7,161.7 345.4,160.1 361.1,158.5 376.8,156.9 392.5,155.4 408.2,154.0 423.9,152.6 439.6,151.2 455.3,149.9 471.0,148.6 486.7,147.4 502.4,146.2 518.1,145.0 533.8,143.9 549.5,142.8 565.2,141.7 580.9,140.7 596.6,139.7 612.3,138.8 628.0,137.8 643.7,136.9 659.4,136.1 675.1,135.2 690.8,134.4 706.6,133.6 722.3,132.9 738.0,132.1 753.7,131.4 769.4,130.7 785.1,130.0 800.8,129.4 816.5,128.7 832.2,128.1 847.9,127.5 863.6,127.0 879.3,126.4 895.0,125.9 904.2,125.6" stroke-width="1.35" stroke="#000"/>
<polyline points="119.0,188.9 148.0,188.9 150.0,201.8 151.9,188.5 153.9,173.3 155.8,192.9 157.7,171.1 159.7,192.7 161.6,188.4 163.6,190.3 165.5,189.9 167.5,180.2 169.4,186.9 171.4,179.3 173.3,166.4 175.2,169.4 177.1,160.4 179.0,160.2 180.9,169.8 182.8,148.3 184.6,149.6 186.5,147.1 188.4,149.1 190.3,143.9 192.2,145.0 194.1,145.6 196.0,144.0 197.9,143.8 213.6,140.4 229.3,137.2 245.0,134.3 260.7,131.5 276.4,128.9 292.1,126.4 307.8,124.1 323.5,122.0 339.2,119.9 354.9,118.0 370.6,116.3 386.3,114.6 402.0,113.0 417.7,111.6 433.4,110.2 449.1,108.9 464.8,107.7 480.5,106.6 496.3,105.5 512.0,104.5 527.7,103.6 543.4,102.7 559.1,101.9 574.8,101.1 590.5,100.4 606.2,99.7 621.9,99.1 637.6,98.5 653.3,97.9 669.0,97.4 684.7,96.9 700.4,96.5 716.1,96.0 731.8,95.6 747.5,95.3 763.2,94.9 778.9,94.6 794.6,94.3 810.3,94.0 826.0,93.7 841.7,93.4 857.4,93.2 873.1,93.0 888.9,92.7 904.2,92.6" stroke-width="1.35" stroke="#000"/>
<polyline points="119.0,225.7 148.3,225.7 150.2,224.5 152.1,232.0 153.9,221.2 155.8,209.4 157.7,201.1 159.6,216.2 161.5,203.4 163.4,202.5 165.3,200.7 167.2,199.7 169.0,194.4 170.9,189.5 172.8,173.8 174.7,174.1 176.6,178.2 178.5,173.4 180.4,177.7 182.2,167.8 184.1,169.7 186.0,164.7 187.9,174.7 189.8,166.2 191.7,162.9 193.6,176.8 195.5,183.7 197.3,184.3 199.2,201.0 201.1,212.9 203.0,205.3 204.9,198.5 206.8,182.8 208.7,199.1 210.6,202.9 212.4,225.2 214.3,201.5 216.2,215.8 218.1,216.1 220.0,191.4 221.9,175.4 223.8,187.5 225.7,162.5 227.5,161.1 229.4,176.7 231.3,175.7 233.2,170.4 235.1,165.8 237.0,193.3 238.9,172.0 240.8,192.7 242.6,194.8 244.5,177.8 246.4,174.8 248.3,176.9 250.2,185.2 252.1,178.9 254.0,164.1 255.8,173.1 257.7,169.8 259.6,175.9 261.5,181.8 263.4,205.7 265.3,199.9 267.2,187.0 269.1,187.9 270.9,175.0 272.8,173.5 274.7,160.0 276.6,160.4 278.5,166.5 280.4,173.3 282.3,172.4 284.2,169.3 286.0,178.7 287.9,179.7 289.8,194.0 291.7,206.6 293.6,194.8 295.5,187.7 297.4,175.4 299.3,173.0 301.1,169.6 303.0,148.5 304.9,160.4 306.8,158.0 308.7,141.2 310.6,121.2 312.5,120.3 314.3,127.2 316.2,143.9 318.1,148.4 320.0,148.9 321.9,150.8 323.8,146.9 325.7,142.7 327.6,150.9 329.4,162.9 331.3,166.5 333.2,161.5 335.1,143.5 337.0,164.8 338.9,152.8 340.8,157.7 342.7,146.6 344.5,128.3 346.4,128.1 348.3,146.6 350.2,154.8 352.1,153.2 354.0,159.7 355.9,162.7 357.8,173.3 359.7,173.2 361.7,174.2 363.7,165.4 365.7,167.2 367.7,163.9 369.7,175.1 371.7,167.9 373.7,168.3 375.7,163.6 377.5,164.5 379.4,165.0 381.3,164.4 383.2,162.7 398.9,160.7 414.6,158.9 430.3,157.1 446.0,155.4 461.7,153.8 477.4,152.3 493.1,150.8 508.8,149.4 524.5,148.1 540.2,146.8 555.9,145.6 571.6,144.5 587.3,143.4 603.0,142.4 618.8,141.4 634.5,140.5 650.2,139.6 665.9,138.7 681.6,137.9 697.3,137.1 713.0,136.4 728.7,135.7 744.4,135.0 760.1,134.4 775.8,133.8 791.5,133.2 807.2,132.7 822.9,132.1 838.6,131.6 854.3,131.2 870.0,130.7 885.7,130.3 901.4,129.9 904.2,129.8" stroke-width="1.35" stroke="#000"/>
<polyline points="119.0,195.1 147.8,195.1 149.7,199.6 151.6,200.5 153.5,193.4 155.4,183.8 157.3,189.4 159.2,189.6 161.1,184.5 163.0,176.2 164.9,179.3 166.8,191.3 168.7,186.4 170.6,179.0 172.5,180.4 174.4,176.6 176.3,161.6 178.2,172.0 180.1,183.2 182.0,197.2 183.9,193.1 185.7,182.6 187.6,189.8 189.5,169.7 191.4,179.1 193.3,177.6 195.2,180.6 197.1,166.2 199.0,176.3 200.9,159.4 202.8,165.1 204.7,183.3 206.6,190.5 208.5,192.3 210.4,173.0 212.3,180.5 214.2,181.8 216.1,159.4 218.0,161.4 219.9,172.0 221.8,182.6 223.7,201.1 225.6,195.7 227.4,181.3 229.3,186.5 231.2,199.4 233.1,195.6 235.0,195.3 236.9,196.7 238.8,191.3 240.7,191.3 242.6,195.7 244.5,184.1 246.4,189.3 248.2,181.1 250.1,172.4 252.0,173.5 253.9,154.3 255.7,157.7 257.6,162.7 259.5,156.6 261.4,157.1 263.3,157.6 279.0,155.1 294.7,152.8 310.4,150.6 326.1,148.5 341.8,146.5 357.5,144.6 373.2,142.9 388.9,141.2 404.6,139.6 420.3,138.0 436.0,136.6 451.7,135.2 467.4,133.9 483.1,132.7 498.8,131.5 514.5,130.4 530.2,129.3 545.9,128.3 561.6,127.4 577.4,126.5 593.1,125.6 608.8,124.8 624.5,124.1 640.2,123.3 655.9,122.6 671.6,122.0 687.3,121.4 703.0,120.8 718.7,120.2 734.4,119.7 750.1,119.2 765.8,118.7 781.5,118.2 797.2,117.8 812.9,117.4 828.6,117.0 844.3,116.6 860.0,116.3 875.7,116.0 891.4,115.6 904.2,115.4" stroke-width="1.35" stroke="#000"/>
<polyline points="119.0,173.6 148.3,173.6 150.2,181.2 152.1,172.1 154.0,164.2 155.9,156.9 157.8,140.6 159.8,160.9 161.7,155.6 163.6,177.8 165.5,171.4 167.4,164.8 169.3,160.0 171.2,154.9 173.1,161.1 175.0,172.1 176.9,165.9 178.8,176.2 180.8,170.9 182.7,186.8 184.6,187.9 186.5,189.9 188.4,204.9 190.3,212.9 192.2,206.6 194.1,211.9 196.0,211.8 198.1,206.6 200.1,195.5 202.1,195.9 204.2,184.6 206.2,166.4 208.2,165.4 210.1,164.1 212.0,165.3 213.9,165.2 215.8,166.1 231.5,164.0 247.2,161.9 262.9,160.0 278.6,158.2 294.3,156.4 310.0,154.8 325.7,153.2 341.4,151.7 357.1,150.3 372.8,149.0 388.5,147.7 404.2,146.5 419.9,145.4 435.6,144.3 451.3,143.3 467.0,142.4 482.7,141.4 498.4,140.6 514.1,139.8 529.9,139.0 545.6,138.3 561.3,137.6 577.0,136.9 592.7,136.3 608.4,135.7 624.1,135.1 639.8,134.6 655.5,134.1 671.2,133.6 686.9,133.2 702.6,132.7 718.3,132.3 734.0,131.9 749.7,131.6 765.4,131.2 781.1,130.9 796.8,130.6 812.5,130.3 828.2,130.0 843.9,129.8 859.6,129.5 875.3,129.3 891.0,129.1 904.2,128.9" stroke-width="1.35" stroke="#000"/>
<polyline points="119.0,210.5 148.6,210.5 150.5,214.3 152.4,222.3 154.2,223.5 156.1,213.6 158.0,198.2 159.9,194.5 161.8,179.5 163.6,180.5 165.5,200.9 167.4,191.8 169.3,214.6 171.2,212.7 173.0,210.4 174.9,221.0 176.8,219.9 178.7,222.8 180.6,217.7 182.4,218.2 184.3,208.5 186.2,211.1 188.1,202.5 190.0,201.8 191.8,198.6 193.7,197.2 195.6,202.6 197.5,189.7 199.4,184.4 201.2,211.5 203.1,223.6 205.0,201.7 206.9,204.4 208.7,172.3 210.6,170.5 212.5,168.6 214.4,177.0 216.3,181.5 218.1,181.1 220.0,172.2 221.9,173.3 223.8,175.6 225.7,188.0 227.5,193.0 229.4,196.8 231.3,196.8 233.2,203.4 235.1,213.2 236.9,213.0 238.8,236.8 240.7,247.0 242.6,248.4 244.5,236.4 246.3,237.9 248.2,243.7 250.1,229.5 252.0,226.3 253.9,207.1 255.7,207.8 257.6,214.0 259.5,215.8 261.4,193.7 263.3,177.0 265.1,177.6 266.9,172.0 268.7,183.5 270.4,169.2 272.2,172.9 273.9,174.2 275.7,172.8 277.4,171.4 279.3,171.1 281.2,172.4 283.1,172.0 285.0,172.1 300.7,170.0 316.4,168.0 332.1,166.2 347.8,164.4 363.5,162.7 379.2,161.0 394.9,159.5 410.6,158.1 426.3,156.7 442.0,155.4 457.7,154.1 473.4,152.9 489.1,151.8 504.8,150.7 520.5,149.7 536.2,148.7 551.9,147.8 567.7,147.0 583.4,146.1 599.1,145.4 614.8,144.6 630.5,143.9 646.2,143.2 661.9,142.6 677.6,142.0 693.3,141.4 709.0,140.9 724.7,140.3 740.4,139.9 756.1,139.4 771.8,138.9 787.5,138.5 803.2,138.1 818.9,137.7 834.6,137.4 850.3,137.0 866.0,136.7 881.7,136.4 897.4,136.1 904.2,136.0" stroke-width="1.35" stroke="#000"/>
<polyline points="119.0,195.2 149.6,195.2 151.5,203.4 153.4,199.2 155.3,196.3 157.1,207.9 159.0,203.2 160.9,197.1 162.8,222.4 164.6,228.8 166.5,224.1 168.4,222.4 170.3,228.1 172.1,231.7 174.0,208.1 175.9,216.8 177.8,208.6 179.7,226.1 181.5,222.4 183.4,213.2 185.3,221.1 187.2,230.0 189.0,210.2 190.9,215.2 192.8,205.9 194.7,224.8 196.6,206.2 198.4,230.5 200.3,239.9 202.2,244.2 204.1,241.8 205.9,236.7 207.8,216.5 209.7,193.1 211.6,174.6 213.4,169.9 215.3,172.5 217.2,199.8 219.1,201.8 221.0,208.9 222.8,201.6 224.7,213.4 226.6,221.7 228.5,227.9 230.3,216.5 232.2,209.1 234.1,215.3 236.0,228.1 237.8,226.0 239.7,224.4 241.6,221.5 243.5,211.4 245.4,194.9 247.2,187.0 249.0,190.3 250.9,186.6 252.7,170.8 254.5,175.5 256.3,166.4 258.2,165.0 260.0,159.8 261.8,149.4 263.7,153.2 265.6,153.8 267.4,151.4 269.3,152.6 271.2,153.3 286.9,151.5 302.6,149.8 318.3,148.1 334.0,146.5 349.7,145.0 365.4,143.5 381.1,142.1 396.8,140.7 412.6,139.4 428.3,138.1 444.0,136.9 459.7,135.7 475.4,134.5 491.1,133.5 506.8,132.4 522.5,131.4 538.2,130.4 553.9,129.4 569.6,128.5 585.3,127.7 601.0,126.8 616.7,126.0 632.4,125.2 648.1,124.5 663.8,123.7 679.5,123.0 695.2,122.4 710.9,121.7 726.6,121.1 742.3,120.5 758.0,119.9 773.7,119.3 789.4,118.8 805.2,118.3 820.9,117.8 836.6,117.3 852.3,116.8 868.0,116.4 883.7,115.9 899.4,115.5 904.2,115.4" stroke-width="1.35" stroke="#000"/>
<polyline points="119.0,210.0 147.7,210.0 149.6,220.6 151.5,216.2 153.4,240.7 155.2,239.2 157.1,238.6 159.0,235.4 160.9,208.8 162.8,220.6 164.7,225.4 166.5,236.8 168.4,225.8 170.3,221.4 172.2,230.8 174.1,215.6 175.9,209.8 177.8,192.0 179.7,184.2 181.6,185.0 183.5,196.4 185.4,223.4 187.2,229.9 189.1,216.3 191.0,219.9 192.9,230.0 194.8,226.8 196.6,218.7 198.5,188.9 200.4,190.6 202.3,183.6 204.1,183.9 206.0,178.1 207.9,165.9 209.7,167.5 211.6,170.8 213.5,152.6 215.4,146.7 217.2,148.0 219.1,148.0 221.0,150.4 222.9,149.9 224.7,146.6 226.6,148.6 242.3,147.3 258.0,146.0 273.7,144.8 289.5,143.6 305.2,142.5 320.9,141.4 336.6,140.4 352.3,139.3 368.0,138.3 383.7,137.4 399.4,136.5 415.1,135.6 430.8,134.7 446.5,133.9 462.2,133.0 477.9,132.3 493.6,131.5 509.3,130.8 525.0,130.1 540.7,129.4 556.4,128.7 572.1,128.1 587.8,127.4 603.5,126.8 619.2,126.3 634.9,125.7 650.6,125.1 666.3,124.6 682.1,124.1 697.8,123.6 713.5,123.1 729.2,122.7 744.9,122.2 760.6,121.8 776.3,121.4 792.0,121.0 807.7,120.6 823.4,120.2 839.1,119.9 854.8,119.5 870.5,119.2 886.2,118.8 901.9,118.5 904.2,118.5" stroke-width="1.35" stroke="#000"/>
<polyline points="119.0,195.1 147.8,195.1 149.7,192.9 151.6,185.3 153.4,202.6 155.3,201.8 157.2,210.2 159.1,223.5 160.9,227.4 162.8,247.2 164.7,246.6 166.6,259.3 168.5,246.9 170.3,225.6 172.2,208.0 174.1,216.7 176.0,217.6 177.8,194.3 179.7,181.7 181.6,177.9 183.5,205.9 185.3,210.0 187.2,184.7 189.1,182.3 191.0,190.5 192.9,191.7 194.7,166.4 196.6,156.9 198.5,177.8 200.4,194.6 202.2,196.0 204.1,182.8 206.0,194.8 207.9,203.3 209.8,233.5 211.6,237.9 213.5,227.9 215.4,219.1 217.3,235.2 219.1,223.5 221.0,232.0 222.9,246.2 224.8,236.7 226.6,252.7 228.5,253.5 230.4,257.9 232.3,255.2 234.2,248.8 236.0,249.1 237.9,251.8 239.8,250.5 241.7,263.7 243.5,259.0 245.4,228.2 247.3,217.9 249.2,199.1 251.1,195.3 252.9,186.7 254.7,175.1 256.5,164.6 258.3,155.5 260.2,149.0 262.0,151.2 263.9,149.2 265.8,150.9 267.7,148.5 283.4,145.6 299.1,142.9 314.8,140.3 330.5,137.9 346.2,135.6 361.9,133.5 377.6,131.5 393.3,129.6 409.0,127.8 424.7,126.1 440.4,124.5 456.1,123.0 471.9,121.6 487.6,120.2 503.3,118.9 519.0,117.7 534.7,116.6 550.4,115.6 566.1,114.6 581.8,113.6 597.5,112.7 613.2,111.9 628.9,111.1 644.6,110.3 660.3,109.6 676.0,109.0 691.7,108.3 707.4,107.7 723.1,107.2 738.8,106.7 754.5,106.2 770.2,105.7 785.9,105.2 801.6,104.8 817.3,104.4 833.0,104.1 848.7,103.7 864.5,103.4 880.2,103.1 895.9,102.8 904.2,102.6" stroke-width="1.35" stroke="#000"/>
<polyline points="119.0,195.1 148.6,195.1 150.5,202.2 152.4,214.3 154.3,227.3 156.2,216.0 158.1,224.6 160.0,223.5 161.8,216.3 163.7,222.4 165.6,237.6 167.5,235.5 169.4,235.3 171.3,244.5 173.2,240.5 175.1,223.3 176.9,211.6 178.8,194.4 180.7,181.0 182.6,183.1 184.5,186.9 186.4,203.0 188.3,190.5 190.2,200.0 192.0,194.9 193.9,177.7 195.8,180.5 197.7,201.8 199.6,215.2 201.5,218.9 203.4,202.5 205.3,207.5 207.1,209.8 209.0,222.7 210.9,217.4 212.8,215.8 214.7,206.1 216.6,218.1 218.5,210.4 220.4,227.5 222.2,233.8 224.1,238.0 226.0,237.6 227.9,230.2 229.8,255.0 231.7,251.6 233.6,251.8 235.5,260.2 237.3,258.7 239.2,249.9 241.1,250.7 243.0,251.7 244.9,239.3 246.8,244.8 248.7,228.3 250.6,221.5 252.4,214.9 254.3,207.0 256.2,192.2 258.1,202.2 260.0,188.9 261.9,200.9 263.8,196.6 265.7,188.7 267.5,184.2 269.4,194.4 271.3,204.0 273.2,210.5 275.1,203.2 277.0,193.7 278.9,180.2 280.8,192.3 282.6,181.7 284.4,169.1 286.2,164.9 288.0,157.0 289.8,148.2 291.7,146.2 293.6,145.3 295.5,146.4 297.4,147.2 313.1,144.1 328.8,141.1 344.5,138.3 360.2,135.6 375.9,133.0 391.6,130.5 407.3,128.1 423.0,125.8 438.7,123.7 454.4,121.6 470.1,119.6 485.8,117.8 501.5,116.0 517.2,114.2 532.9,112.6 548.6,111.0 564.3,109.5 580.0,108.1 595.7,106.7 611.4,105.4 627.1,104.2 642.8,103.0 658.5,101.9 674.3,100.8 690.0,99.7 705.7,98.8 721.4,97.8 737.1,96.9 752.8,96.0 768.5,95.2 784.2,94.4 799.9,93.7 815.6,93.0 831.3,92.3 847.0,91.6 862.7,91.0 878.4,90.4 894.1,89.8 904.2,89.5" stroke-width="1.35" stroke="#000"/>
<polyline points="119.0,222.8 150.0,222.8 151.9,233.1 153.8,213.9 155.6,212.0 157.5,217.2 159.4,211.5 161.3,219.8 163.2,198.4 165.1,216.6 166.9,221.2 168.8,243.0 170.7,236.5 172.6,224.1 174.5,211.9 176.3,194.0 178.2,196.3 180.1,203.4 182.0,193.4 183.9,202.3 185.8,189.4 187.6,183.0 189.5,173.7 191.4,159.4 193.3,142.5 195.2,132.9 197.0,127.6 198.9,127.1 200.8,132.1 202.7,127.5 204.6,127.3 220.3,125.6 236.0,124.0 251.7,122.4 267.4,120.8 283.1,119.3 298.8,117.9 314.5,116.5 330.2,115.2 345.9,113.8 361.6,112.6 377.3,111.4 393.0,110.2 408.7,109.1 424.4,108.0 440.1,106.9 455.8,105.9 471.5,104.9 487.3,103.9 503.0,103.0 518.7,102.1 534.4,101.3 550.1,100.4 565.8,99.6 581.5,98.8 597.2,98.1 612.9,97.4 628.6,96.7 644.3,96.0 660.0,95.3 675.7,94.7 691.4,94.1 707.1,93.5 722.8,92.9 738.5,92.3 754.2,91.8 769.9,91.3 785.6,90.8 801.3,90.3 817.0,89.8 832.7,89.4 848.4,89.0 864.1,88.5 879.9,88.1 895.6,87.7 904.2,87.5" stroke-width="1.35" stroke="#000"/>
<polyline points="119.0,171.5 148.1,171.5 150.0,159.9 151.9,157.3 153.7,156.2 155.6,178.7 157.5,197.1 159.3,191.3 161.2,165.7 163.1,163.6 164.9,164.5 166.8,176.4 168.7,185.1 170.5,176.8 172.4,191.3 174.3,173.5 176.2,174.7 178.0,178.1 179.9,186.9 181.9,189.4 183.8,185.6 185.8,190.9 187.7,181.5 189.7,190.8 191.7,167.5 193.6,178.5 195.6,185.2 197.6,175.5 199.4,175.0 201.3,175.4 203.2,176.2 205.1,175.4 220.8,172.9 236.5,170.5 252.2,168.3 267.9,166.2 283.6,164.2 299.3,162.2 315.0,160.4 330.7,158.7 346.4,157.0 362.1,155.5 377.8,154.0 393.5,152.6 409.2,151.3 424.9,150.0 440.6,148.8 456.4,147.7 472.1,146.6 487.8,145.5 503.5,144.6 519.2,143.6 534.9,142.8 550.6,141.9 566.3,141.1 582.0,140.4 597.7,139.7 613.4,139.0 629.1,138.3 644.8,137.7 660.5,137.1 676.2,136.6 691.9,136.1 707.6,135.6 723.3,135.1 739.0,134.6 754.7,134.2 770.4,133.8 786.1,133.4 801.8,133.1 817.5,132.7 833.2,132.4 849.0,132.1 864.7,131.8 880.4,131.5 896.1,131.2 904.2,131.1" stroke-width="1.35" stroke="#000"/>
<polyline points="119.0,225.7 149.7,225.7 151.6,222.5 153.4,216.8 155.3,213.2 157.1,217.3 159.0,225.3 160.9,215.6 162.7,206.1 164.6,205.8 166.5,190.5 168.3,190.2 170.2,185.9 172.0,175.1 173.9,170.1 175.8,176.2 177.6,192.2 179.5,202.3 181.3,214.6 183.2,203.8 185.1,245.0 186.9,216.2 188.8,224.8 190.6,209.4 192.5,205.0 194.4,199.4 196.2,217.5 198.1,206.6 199.9,210.9 201.8,207.0 203.7,222.4 205.5,226.2 207.4,238.2 209.2,237.6 211.2,222.2 213.1,215.4 215.0,200.2 217.0,188.2 218.9,179.6 220.8,169.1 222.8,166.4 224.7,144.4 226.6,141.9 228.5,144.1 230.4,144.7 232.2,144.3 248.0,142.3 263.7,140.3 279.4,138.4 295.1,136.7 310.8,134.9 326.5,133.3 342.2,131.7 357.9,130.2 373.6,128.7 389.3,127.3 405.0,125.9 420.7,124.6 436.4,123.4 452.1,122.1 467.8,121.0 483.5,119.9 499.2,118.8 514.9,117.8 530.6,116.8 546.3,115.8 562.0,114.9 577.7,114.0 593.4,113.2 609.1,112.4 624.8,111.6 640.6,110.9 656.3,110.1 672.0,109.4 687.7,108.8 703.4,108.1 719.1,107.5 734.8,106.9 750.5,106.4 766.2,105.8 781.9,105.3 797.6,104.8 813.3,104.3 829.0,103.8 844.7,103.4 860.4,103.0 876.1,102.5 891.8,102.1 904.2,101.8" stroke-width="1.35" stroke="#000"/>
<polyline points="119.0,171.5 150.3,171.5 152.1,158.1 154.0,162.4 155.9,164.3 157.7,162.2 159.6,171.8 161.5,181.9 163.3,183.2 165.2,196.6 167.1,203.1 168.9,231.3 170.8,236.4 172.6,223.6 174.5,204.6 176.4,193.5 178.2,200.2 180.1,195.3 182.0,202.7 183.8,210.5 185.7,200.2 187.5,202.6 189.3,197.4 191.2,189.7 193.0,180.8 194.8,180.1 196.7,177.2 198.5,169.1 200.4,166.4 202.2,161.2 204.1,161.9 206.0,165.0 207.8,162.2 209.7,161.3 225.4,159.0 241.1,156.8 256.8,154.7 272.5,152.6 288.2,150.6 303.9,148.7 319.7,146.8 335.4,145.0 351.1,143.3 366.8,141.6 382.5,139.9 398.2,138.3 413.9,136.8 429.6,135.3 445.3,133.8 461.0,132.4 476.7,131.0 492.4,129.7 508.1,128.4 523.8,127.2 539.5,126.0 555.2,124.9 570.9,123.7 586.6,122.6 602.3,121.6 618.0,120.6 633.7,119.6 649.4,118.6 665.1,117.7 680.8,116.8 696.5,115.9 712.3,115.1 728.0,114.2 743.7,113.5 759.4,112.7 775.1,111.9 790.8,111.2 806.5,110.5 822.2,109.8 837.9,109.2 853.6,108.6 869.3,107.9 885.0,107.4 900.7,106.8 904.2,106.6" stroke-width="1.35" stroke="#000"/>
<polyline points="119.0,169.9 148.9,169.9 150.8,162.3 152.7,140.3 154.5,149.1 156.4,145.0 158.3,134.2 160.2,150.1 162.0,154.5 163.9,165.3 165.8,155.5 167.7,170.1 169.6,165.9 171.4,172.0 173.3,160.7 175.2,167.3 177.1,169.1 178.9,166.1 180.8,175.3 182.7,179.8 184.6,181.7 186.5,184.5 188.3,174.7 190.2,177.4 192.1,169.2 194.0,165.9 195.8,166.2 197.7,171.2 199.6,184.2 201.5,181.3 203.4,174.0 205.2,174.7 207.1,160.8 209.0,170.0 210.9,162.8 212.8,165.2 214.7,146.7 216.5,148.7 218.4,151.8 220.3,147.9 222.2,148.3 224.1,147.2 239.8,144.6 255.5,142.1 271.2,139.7 286.9,137.4 302.6,135.2 318.3,133.1 334.0,131.0 349.7,129.1 365.4,127.2 381.1,125.5 396.8,123.8 412.5,122.1 428.2,120.6 443.9,119.1 459.6,117.6 475.3,116.2 491.0,114.9 506.7,113.7 522.5,112.5 538.2,111.3 553.9,110.2 569.6,109.1 585.3,108.1 601.0,107.1 616.7,106.2 632.4,105.3 648.1,104.4 663.8,103.6 679.5,102.8 695.2,102.0 710.9,101.3 726.6,100.6 742.3,100.0 758.0,99.3 773.7,98.7 789.4,98.1 805.1,97.6 820.8,97.0 836.5,96.5 852.2,96.0 867.9,95.5 883.6,95.1 899.3,94.6 904.2,94.5" stroke-width="1.35" stroke="#000"/>
<polyline points="119.0,171.5 147.6,171.5 149.5,162.4 151.3,142.6 153.2,152.8 155.1,174.8 156.9,173.9 158.8,177.8 160.7,170.9 162.5,163.4 164.4,169.0 166.2,154.8 168.1,182.2 170.0,191.9 171.8,189.9 173.7,185.2 175.6,186.4 177.4,180.7 179.3,195.6 181.2,220.1 183.0,205.0 184.9,185.5 186.7,183.7 188.6,195.6 190.5,200.6 192.3,190.6 194.2,187.7 196.1,172.4 197.9,154.9 199.8,144.3 201.7,151.8 203.5,143.4 205.4,142.0 207.2,143.9 209.1,140.1 210.9,139.1 212.7,141.6 214.6,131.6 216.4,135.2 218.2,128.9 220.1,121.8 221.9,119.4 223.7,131.0 225.6,122.3 227.4,122.0 229.2,113.8 231.1,113.1 233.0,115.0 234.9,112.7 236.8,114.0 252.5,111.9 268.2,109.9 283.9,108.0 299.6,106.1 315.3,104.4 331.0,102.7 346.7,101.1 362.4,99.5 378.1,98.1 393.8,96.6 409.5,95.3 425.2,94.0 440.9,92.7 456.6,91.6 472.3,90.4 488.1,89.3 503.8,88.3 519.5,87.3 535.2,86.3 550.9,85.4 566.6,84.6 582.3,83.7 598.0,82.9 613.7,82.2 629.4,81.4 645.1,80.7 660.8,80.0 676.5,79.4 692.2,78.8 707.9,78.2 723.6,77.6 739.3,77.1 755.0,76.6 770.7,76.1 786.4,75.6 802.1,75.2 817.8,74.7 833.5,74.3 849.2,73.9 864.9,73.5" stroke-width="1.35" stroke="#000"/>
<polyline points="119.0,176.2 148.1,176.2 150.0,164.7 151.9,151.5 153.7,168.7 155.6,152.5 157.5,163.3 159.3,167.7 161.2,166.4 163.1,170.1 164.9,170.5 166.8,172.7 168.6,166.5 170.5,168.3 172.4,177.0 174.2,191.0 176.1,203.3 178.0,202.8 179.8,193.0 181.7,188.9 183.6,192.5 185.4,187.3 187.3,194.3 189.2,192.3 191.0,186.5 192.9,190.7 194.8,174.3 196.6,161.8 198.5,166.8 200.4,160.0 202.2,158.7 204.1,153.5 205.9,149.6 207.8,140.3 209.6,141.6 211.5,137.8 213.3,130.5 215.2,126.8 217.0,118.5 218.9,128.0 220.7,116.2 222.5,125.5 224.4,111.8 226.3,111.7 228.2,114.0 230.0,113.3 231.9,111.9 247.6,108.2 263.3,104.8 279.0,101.6 294.7,98.7 310.5,95.9 326.2,93.3 341.9,90.9 357.6,88.6 373.3,86.5 389.0,84.5 404.7,82.6 420.4,80.9 436.1,79.3 451.8,77.8 467.5,76.3 483.2,75.0 498.9,73.8 514.6,72.6 530.3,71.5 546.0,70.5 561.7,69.6 577.4,68.7 593.1,67.9 608.8,67.1 624.5,66.4 640.2,65.7 655.9,65.0 671.6,64.5 687.3,63.9 703.1,63.4 718.8,62.9 734.5,62.5 750.2,62.0 765.9,61.6 781.6,61.3" stroke-width="1.35" stroke="#000"/>
<polyline points="119.0,199.3 149.6,199.3 151.5,202.2 153.4,198.3 155.2,186.9 157.1,172.7 159.0,199.8 160.9,189.1 162.8,182.4 164.6,197.6 166.5,186.3 168.4,175.7 170.3,166.3 172.1,169.1 174.0,161.4 175.9,149.6 177.8,160.6 179.7,168.4 181.5,176.1 183.4,162.3 185.3,163.6 187.2,173.4 189.0,185.5 190.9,199.0 192.8,193.5 194.7,181.6 196.6,166.1 198.4,178.8 200.3,189.6 202.2,198.8 204.1,205.7 205.9,219.2 207.8,195.6 209.7,186.3 211.6,187.8 213.5,212.2 215.3,187.8 217.2,172.6 219.1,166.3 221.0,153.4 222.8,157.6 224.7,145.5 226.6,143.6 228.4,133.2 230.3,131.3 232.1,132.4 234.0,126.1 235.9,109.6 237.7,110.0 239.6,107.8 241.5,110.4 243.4,110.9 245.3,110.3 261.0,108.8 276.7,107.4 292.4,106.0 308.1,104.7 323.8,103.4 339.5,102.1 355.2,100.9 370.9,99.7 386.6,98.6 402.3,97.5 418.0,96.5 433.7,95.4 449.4,94.5 465.1,93.5 480.8,92.6 496.5,91.7 512.2,90.8 527.9,90.0 543.6,89.2 559.3,88.4 575.0,87.6 590.7,86.9 606.4,86.2 622.2,85.5 637.9,84.9 653.6,84.2 669.3,83.6 685.0,83.0 700.7,82.4 716.4,81.9 732.1,81.3 747.8,80.8 763.5,80.3 779.2,79.8 794.9,79.3 810.6,78.9 826.3,78.4 842.0,78.0 857.7,77.6 873.4,77.2 889.1,76.8" stroke-width="1.35" stroke="#000"/>
<polyline points="119.0,173.6 148.2,173.6 150.1,175.4 152.0,176.8 153.8,181.4 155.7,189.9 157.6,188.7 159.4,182.7 161.3,192.0 163.2,197.9 165.0,207.7 166.9,215.4 168.8,201.8 170.7,215.4 172.5,213.7 174.4,202.1 176.3,209.8 178.1,203.8 180.0,196.7 181.9,215.7 183.8,204.1 185.6,216.7 187.5,214.5 189.4,231.5 191.2,247.3 193.1,245.2 195.0,221.5 196.9,189.4 198.7,158.8 200.6,147.8 202.5,139.8 204.3,137.4 206.2,136.3 208.1,147.1 210.0,157.4 211.8,156.2 213.7,154.5 215.6,165.5 217.4,181.7 219.3,190.5 221.2,150.7 223.1,162.8 224.9,148.3 226.8,138.0 228.7,130.5 230.5,143.5 232.4,124.1 234.3,127.0 236.1,139.1 238.0,149.7 239.9,151.9 241.8,127.1 243.6,144.6 245.5,152.3 247.4,150.5 249.2,142.9 251.1,153.9 252.9,156.4 254.7,150.9 256.5,141.3 258.3,142.7 260.1,139.9 261.9,134.5 263.7,131.9 265.5,124.3 267.3,130.2 269.1,123.2 270.9,119.9 272.8,121.5 274.7,118.7 276.6,119.0 278.5,120.0 294.2,118.3 309.9,116.6 325.6,114.9 341.3,113.3 357.0,111.7 372.7,110.2 388.4,108.8 404.1,107.4 419.8,106.0 435.5,104.7 451.2,103.4 466.9,102.1 482.6,100.9 498.3,99.8 514.0,98.7 529.7,97.6 545.4,96.5 561.1,95.5 576.8,94.5 592.5,93.5 608.2,92.6 623.9,91.7 639.6,90.9 655.3,90.0 671.1,89.2 686.8,88.4 702.5,87.6 718.2,86.9 733.9,86.2 749.6,85.5 765.3,84.8 781.0,84.2 796.7,83.6 812.4,82.9 828.1,82.4 843.8,81.8 859.5,81.2 875.2,80.7 890.9,80.2 904.2,79.8" stroke-width="1.35" stroke="#000"/>
<polyline points="119.0,191.4 147.8,191.4 149.8,190.6 151.7,184.4 153.6,193.9 155.5,201.4 157.4,192.6 159.3,196.4 161.2,186.4 163.2,194.8 165.1,188.2 167.0,175.3 168.9,179.3 170.8,161.2 172.7,146.5 174.6,180.3 176.6,148.3 178.5,165.3 180.4,130.8 182.3,139.3 184.2,160.2 186.1,168.4 188.0,152.8 190.0,155.4 191.9,150.8 193.7,140.1 195.4,147.7 197.2,135.2 199.0,126.6 200.8,139.1 202.6,131.1 204.4,119.2 206.1,115.7 208.0,115.8 209.9,115.3 211.8,118.1 213.7,116.2 229.4,114.2 245.1,112.2 260.8,110.3 276.5,108.4 292.2,106.6 307.9,104.9 323.6,103.2 339.3,101.6 355.0,100.0 370.7,98.5 386.4,97.0 402.1,95.6 417.8,94.2 433.5,92.8 449.2,91.5 464.9,90.3 480.6,89.1 496.4,87.9 512.1,86.7 527.8,85.6 543.5,84.6 559.2,83.5 574.9,82.5 590.6,81.6 606.3,80.6 622.0,79.7 637.7,78.8 653.4,78.0 669.1,77.2 684.8,76.4 700.5,75.6 716.2,74.9 731.9,74.1 747.6,73.4 763.3,72.8 779.0,72.1 794.7,71.5 810.4,70.8 826.1,70.2 841.8,69.7 857.5,69.1" stroke-width="1.35" stroke="#000"/>
<polyline points="119.0,223.0 150.4,223.0 152.3,225.5 154.1,213.7 156.0,208.6 157.9,214.6 159.8,198.9 161.6,193.8 163.5,194.8 165.4,193.6 167.3,178.6 169.1,171.1 171.0,174.1 172.9,163.4 174.8,191.7 176.6,182.8 178.5,193.4 180.4,200.2 182.3,201.7 184.1,178.1 186.0,181.4 187.9,184.1 189.8,177.7 191.6,202.8 193.5,203.9 195.4,193.9 197.3,205.0 199.1,195.9 201.0,203.7 202.9,219.2 204.8,204.4 206.6,200.8 208.5,189.4 210.4,186.1 212.3,197.6 214.1,182.9 216.0,176.8 217.9,171.2 219.8,175.5 221.6,187.5 223.5,167.8 225.4,157.9 227.3,156.1 229.1,163.5 231.0,147.1 232.9,158.2 234.8,166.9 236.6,140.3 238.5,134.8 240.4,126.2 242.3,120.9 244.1,99.7 246.0,101.1 247.9,101.1 249.8,117.2 251.6,120.5 253.5,141.8 255.4,146.9 257.3,147.1 259.1,138.5 261.0,123.6 262.9,134.8 264.8,149.1 266.6,145.9 268.5,156.5 270.4,135.5 272.3,122.0 274.1,136.5 276.0,134.9 277.9,122.2 279.8,128.3 281.7,120.2 283.6,112.3 285.5,98.7 287.4,100.4 289.3,99.2 291.2,100.8 293.1,100.0 294.9,100.3 310.7,98.1 326.4,95.9 342.1,93.7 357.8,91.7 373.5,89.7 389.2,87.8 404.9,85.9 420.6,84.2 436.3,82.4 452.0,80.8 467.7,79.2 483.4,77.7 499.1,76.2 514.8,74.7 530.5,73.3 546.2,72.0 561.9,70.7 577.6,69.5 593.3,68.3 609.0,67.1 624.7,66.0 640.4,64.9 656.1,63.9 671.8,62.9 687.5,61.9 703.3,61.0 719.0,60.1 734.7,59.2 750.4,58.4 766.1,57.5 781.8,56.8 797.5,56.0 813.2,55.3 828.9,54.6 844.6,53.9" stroke-width="1.35" stroke="#000"/>
<polyline points="119.0,210.5 149.5,210.5 151.4,196.9 153.2,200.6 155.1,202.1 157.0,193.4 158.8,202.7 160.7,189.5 162.6,180.5 164.5,177.9 166.3,175.5 168.2,167.8 170.1,168.4 171.9,199.5 173.8,191.7 175.7,201.9 177.6,205.7 179.4,208.3 181.3,210.5 183.2,227.2 185.1,244.5 186.9,238.3 188.8,231.3 190.7,220.6 192.5,230.9 194.4,228.5 196.3,213.4 198.2,213.4 200.0,215.8 201.9,187.2 203.8,204.9 205.6,210.2 207.5,218.1 209.4,217.9 211.3,174.7 213.1,185.6 215.0,186.2 216.9,189.7 218.8,195.3 220.6,181.4 222.5,184.1 224.4,168.4 226.2,150.6 228.1,157.1 230.0,140.6 231.9,158.1 233.7,158.6 235.6,151.3 237.5,169.4 239.3,174.5 241.2,173.0 243.1,171.0 245.0,172.4 246.8,154.7 248.7,152.1 250.6,141.7 252.5,133.6 254.4,145.2 256.3,141.1 258.2,141.3 260.1,128.7 261.9,121.8 263.8,126.7 265.7,130.6 267.6,128.2 269.5,127.3 271.4,125.3 287.1,122.3 302.8,119.5 318.5,116.8 334.2,114.2 349.9,111.7 365.6,109.4 381.3,107.1 397.0,105.0 412.7,103.0 428.4,101.1 444.1,99.2 459.8,97.5 475.5,95.9 491.2,94.3 506.9,92.8 522.6,91.4 538.3,90.0 554.0,88.7 569.7,87.5 585.4,86.3 601.2,85.2 616.9,84.1 632.6,83.1 648.3,82.2 664.0,81.3 679.7,80.4 695.4,79.6 711.1,78.8 726.8,78.0 742.5,77.3 758.2,76.7 773.9,76.0 789.6,75.4 805.3,74.8 821.0,74.3 836.7,73.7 852.4,73.2 868.1,72.8 883.8,72.3 899.5,71.9 904.2,71.8" stroke-width="1.35" stroke="#000"/>
<polyline points="119.0,203.6 147.9,203.6 149.8,210.3 151.7,212.3 153.6,214.3 155.5,199.3 157.4,212.7 159.3,203.0 161.2,205.1 163.0,212.0 164.9,213.1 166.8,214.6 168.7,209.8 170.6,206.0 172.5,204.7 174.4,207.3 176.3,228.9 178.2,222.3 180.1,213.9 182.0,214.2 183.9,215.2 185.8,228.1 187.7,227.7 189.6,221.2 191.5,238.1 193.4,244.3 195.2,250.2 197.1,237.1 199.0,243.2 200.9,260.9 202.8,258.4 204.7,244.2 206.6,246.3 208.5,250.9 210.4,248.2 212.3,230.4 214.2,235.0 216.1,238.9 218.0,235.2 219.9,244.3 221.8,259.7 223.7,256.7 225.6,258.0 227.4,252.9 229.3,250.0 231.2,243.2 233.1,253.3 235.0,248.3 236.9,255.3 238.8,249.9 240.7,252.2 242.6,232.9 244.5,242.2 246.4,260.6 248.3,257.3 250.2,258.2 252.1,261.4 254.0,257.8 255.9,239.7 257.8,240.4 259.6,246.4 261.5,230.0 263.4,218.5 265.3,219.9 267.2,227.0 269.1,220.2 271.0,228.9 272.9,235.9 274.8,244.0 276.7,237.2 278.6,221.2 280.5,222.1 282.4,205.3 284.3,229.3 286.2,230.4 288.1,248.3 290.0,238.1 291.8,224.7 293.7,244.6 295.6,250.8 297.5,247.7 299.4,254.2 301.3,254.6 303.2,255.4 305.1,248.2 307.0,247.3 308.9,249.4 310.8,247.8 312.7,239.3 328.4,235.5 344.1,231.9 359.8,228.6 375.5,225.5 391.2,222.6 406.9,219.9 422.6,217.4 438.3,215.1 454.0,212.9 469.7,210.9 485.4,209.0 501.1,207.2 516.8,205.6 532.5,204.0 548.2,202.6 563.9,201.3 579.7,200.0 595.4,198.9 611.1,197.8 626.8,196.8 642.5,195.9 658.2,195.0 673.9,194.2 689.6,193.4 705.3,192.7 721.0,192.0 736.7,191.4 752.4,190.8 768.1,190.3 783.8,189.8 799.5,189.4 815.2,188.9 830.9,188.5 846.6,188.1 862.3,187.8 878.0,187.5 893.7,187.2 904.2,187.0" stroke-width="1.35" stroke="#000"/>
<polyline points="119.0,223.0 148.6,223.0 150.5,213.7 152.4,211.1 154.3,208.5 156.2,223.2 158.1,228.3 160.0,225.4 161.9,217.8 163.8,228.1 165.7,236.0 167.6,251.1 169.5,263.7 171.4,252.6 173.3,252.0 175.1,245.7 177.0,234.6 178.9,236.3 180.8,236.3 182.7,248.1 184.6,253.9 186.5,248.7 188.4,234.2 190.3,225.3 192.2,235.0 194.1,244.4 196.0,237.7 197.9,234.0 199.8,230.1 201.7,229.7 203.6,218.9 205.5,219.6 207.4,208.2 209.3,207.4 211.2,211.9 213.0,227.4 214.9,226.2 216.8,219.3 218.7,220.4 220.6,233.0 222.5,252.6 224.4,253.8 226.3,234.4 228.2,246.3 230.1,249.9 232.0,246.6 233.9,235.4 235.8,245.3 237.7,243.4 239.6,239.1 241.5,250.0 243.4,243.7 245.3,252.1 247.2,248.1 249.1,239.6 251.0,237.5 252.8,249.0 254.7,239.8 256.6,231.2 258.5,229.5 260.4,221.2 262.3,227.0 264.2,235.9 266.1,236.0 268.0,226.4 269.9,213.4 271.8,217.7 273.7,211.8 275.6,206.7 277.5,208.4 279.4,225.0 281.3,235.9 297.0,232.3 312.7,228.9 328.4,225.7 344.1,222.7 359.8,219.9 375.5,217.2 391.2,214.8 406.9,212.5 422.6,210.4 438.3,208.3 454.0,206.5 469.7,204.7 485.4,203.1 501.1,201.5 516.8,200.1 532.5,198.7 548.2,197.5 563.9,196.3 579.7,195.2 595.4,194.1 611.1,193.2 626.8,192.3 642.5,191.4 658.2,190.6 673.9,189.9 689.6,189.2 705.3,188.6 721.0,188.0 736.7,187.4 752.4,186.9 768.1,186.4 783.8,185.9 799.5,185.5 815.2,185.0 830.9,184.7 846.6,184.3 862.3,184.0 878.0,183.7 893.7,183.4 904.2,183.2" stroke-width="1.35" stroke="#000"/>
<polyline points="119.0,199.3 147.8,199.3 149.7,202.0 151.5,213.0 153.4,221.1 155.3,220.5 157.2,224.0 159.1,245.2 161.0,233.8 162.9,226.8 164.7,240.7 166.6,244.5 168.5,241.0 170.4,239.4 172.3,244.3 174.2,244.4 176.0,226.8 177.9,232.8 179.8,225.0 181.7,225.4 183.6,240.0 185.5,234.6 187.4,232.7 189.2,222.8 191.1,209.7 193.0,203.6 194.9,205.6 196.8,205.2 198.7,201.7 200.5,215.2 202.4,229.0 204.3,223.2 206.2,237.2 208.1,241.0 210.0,223.4 211.9,216.8 213.7,207.6 215.6,212.5 217.5,204.7 219.4,218.0 221.3,229.3 223.2,232.8 225.0,241.3 226.9,228.5 228.8,232.0 230.7,245.2 232.6,235.9 234.5,229.5 236.4,219.1 238.2,234.0 240.1,243.6 242.0,261.6 243.9,257.5 245.8,256.4 247.7,258.9 249.5,245.6 251.4,252.1 253.3,255.0 255.2,259.5 257.1,262.9 259.0,261.5 260.9,260.8 262.7,260.9 264.6,263.6 266.5,265.4 268.4,265.4 270.3,264.5 272.2,265.0 274.0,264.7 275.9,264.2 277.8,264.7 279.7,265.4 281.6,264.9 283.5,260.1 285.4,255.8 287.2,254.8 289.1,257.3 291.0,258.7 292.9,249.7 294.8,256.1 296.7,238.6 298.5,237.1 300.4,233.1 302.3,236.1 304.2,225.3 306.1,216.0 308.0,224.8 309.9,206.4 311.7,206.8 313.6,224.3 315.5,219.4 317.4,216.8 319.3,216.0 321.2,208.3 323.0,199.1 324.9,214.2 326.8,217.4 328.7,219.7 330.6,219.8 332.5,238.6 334.4,234.3 336.2,232.6 351.9,229.1 367.6,225.9 383.4,222.9 399.1,220.2 414.8,217.6 430.5,215.3 446.2,213.1 461.9,211.1 477.6,209.2 493.3,207.5 509.0,205.9 524.7,204.4 540.4,203.1 556.1,201.8 571.8,200.6 587.5,199.5 603.2,198.5 618.9,197.6 634.6,196.8 650.3,196.0 666.0,195.2 681.7,194.5 697.4,193.9 713.1,193.3 728.8,192.8 744.5,192.3 760.2,191.8 776.0,191.4 791.7,191.0 807.4,190.6 823.1,190.3 838.8,190.0 854.5,189.7 870.2,189.4 885.9,189.2 901.6,188.9 904.2,188.9" stroke-width="1.35" stroke="#000"/>
<polyline points="119.0,195.2 147.9,195.2 149.8,209.7 151.7,212.5 153.5,209.5 155.4,221.4 157.3,201.5 159.2,203.8 161.1,207.3 162.9,227.6 164.8,236.9 166.7,258.0 168.6,250.2 170.5,257.4 172.3,255.5 174.2,250.5 176.1,247.7 178.0,251.2 179.9,242.3 181.8,253.3 183.6,266.4 185.5,270.7 187.4,265.0 189.3,249.9 191.2,254.7 193.0,257.4 194.9,251.0 196.8,261.0 198.7,262.2 200.6,267.9 202.4,265.5 204.3,271.8 206.2,272.2 208.1,272.4 210.0,272.0 211.8,271.0 213.7,270.2 215.6,260.4 217.5,258.6 219.4,263.6 221.2,264.5 223.1,258.6 225.0,253.3 226.9,230.4 228.8,229.8 230.7,240.9 232.5,251.8 234.4,242.4 236.3,263.9 238.2,259.8 240.1,251.2 241.9,254.8 243.8,252.0 245.7,238.9 247.6,225.2 249.5,214.5 251.3,209.4 253.2,216.9 255.1,234.3 270.8,231.3 286.5,228.5 302.2,225.9 317.9,223.4 333.6,221.1 349.3,218.9 365.0,216.8 380.7,214.9 396.4,213.1 412.1,211.3 427.8,209.7 443.5,208.2 459.3,206.8 475.0,205.4 490.7,204.1 506.4,202.9 522.1,201.8 537.8,200.7 553.5,199.7 569.2,198.8 584.9,197.9 600.6,197.1 616.3,196.3 632.0,195.5 647.7,194.8 663.4,194.2 679.1,193.5 694.8,193.0 710.5,192.4 726.2,191.9 741.9,191.4 757.6,191.0 773.3,190.5 789.0,190.1 804.7,189.7 820.4,189.4 836.1,189.0 851.9,188.7 867.6,188.4 883.3,188.1 899.0,187.9 904.2,187.8" stroke-width="1.35" stroke="#000"/>
<polyline points="119.0,223.0 149.3,223.0 151.2,232.2 153.1,247.2 155.0,226.3 156.9,243.6 158.7,255.9 160.6,248.0 162.5,239.5 164.4,235.1 166.3,247.2 168.2,249.2 170.1,257.3 172.0,260.3 173.9,240.5 175.8,238.0 177.7,230.5 179.6,241.4 181.5,247.2 183.3,241.9 185.2,229.4 187.1,232.6 189.0,218.1 190.9,196.0 192.8,220.3 194.7,222.8 196.6,218.3 198.5,223.4 200.4,208.3 202.3,211.2 204.2,211.5 206.1,232.0 207.9,223.0 209.8,228.9 211.7,226.2 213.6,231.1 215.5,240.0 217.4,242.4 219.3,255.4 221.2,256.5 223.1,244.4 225.0,234.8 226.9,246.3 228.8,237.6 230.7,242.7 232.6,249.8 234.4,243.3 236.3,236.2 238.2,244.0 240.1,234.5 242.0,235.9 243.9,214.6 245.8,233.9 247.7,237.6 249.6,241.3 251.5,250.1 253.4,259.8 255.3,248.0 257.2,244.2 259.0,256.2 260.9,258.4 262.8,259.0 264.7,254.8 266.6,259.6 268.5,245.5 270.4,244.1 272.3,228.0 274.2,223.0 276.1,226.9 278.0,229.2 279.9,225.3 281.8,224.1 283.7,221.9 285.5,214.6 287.4,203.3 289.3,216.8 291.2,234.9 293.1,243.3 295.0,228.3 296.9,229.8 298.8,235.7 300.7,230.6 302.6,222.1 304.5,234.0 306.4,242.8 308.3,241.0 310.1,239.9 312.0,245.3 313.9,219.3 315.8,206.8 317.7,210.5 319.6,205.1 321.5,220.0 323.4,210.8 325.3,214.4 327.2,223.0 329.1,237.5 331.0,227.3 332.9,226.3 334.7,232.3 336.6,221.0 338.5,224.3 340.4,221.9 342.3,227.5 344.2,223.2 346.1,235.8 348.0,239.0 349.9,236.8 351.8,242.4 353.7,244.2 355.6,233.6 357.5,236.0 359.4,221.9 361.2,215.9 363.1,214.6 365.0,229.2 380.7,225.9 396.4,222.8 412.1,219.8 427.8,217.0 443.5,214.4 459.3,211.9 475.0,209.6 490.7,207.3 506.4,205.3 522.1,203.3 537.8,201.4 553.5,199.7 569.2,198.0 584.9,196.4 600.6,194.9 616.3,193.5 632.0,192.2 647.7,191.0 663.4,189.8 679.1,188.7 694.8,187.6 710.5,186.6 726.2,185.7 741.9,184.8 757.6,184.0 773.3,183.2 789.0,182.4 804.7,181.7 820.4,181.1 836.1,180.4 851.9,179.9 867.6,179.3 883.3,178.8 899.0,178.3 904.2,178.1" stroke-width="1.35" stroke="#000"/>
<polyline points="119.0,206.6 147.5,206.6 149.4,203.6 151.3,220.7 153.2,220.5 155.1,215.5 157.0,233.7 158.9,238.2 160.8,251.4 162.7,260.7 164.5,250.2 166.4,257.6 168.3,225.2 170.2,225.7 172.1,232.8 174.0,233.4 175.9,231.1 177.8,225.8 179.7,220.8 181.5,216.5 183.4,204.6 185.3,192.9 187.2,194.2 189.1,192.1 191.0,201.9 192.9,208.9 194.8,212.6 196.7,197.9 198.5,206.2 200.4,204.0 202.3,202.8 204.2,194.7 206.1,202.1 208.0,206.2 209.9,194.6 211.8,192.8 213.7,199.3 215.5,187.3 217.4,187.6 219.3,194.3 221.2,185.3 223.1,168.5 225.0,176.2 226.9,189.1 228.8,214.6 230.7,193.4 232.5,199.4 234.4,202.1 236.3,211.8 238.2,211.7 240.1,220.5 242.0,201.6 243.9,193.5 245.8,199.2 247.7,211.3 249.5,203.0 251.4,210.6 253.3,195.2 255.2,192.0 257.1,192.5 259.0,205.0 260.9,200.9 262.8,213.6 264.7,198.9 266.5,218.6 268.4,219.1 270.3,191.2 272.2,196.5 274.1,188.2 276.0,177.6 277.9,175.6 279.8,178.8 281.7,169.6 283.5,161.0 285.4,170.4 287.3,156.3 289.2,146.7 291.1,162.4 293.0,160.2 294.9,157.7 296.8,159.8 298.7,169.6 300.5,184.3 302.4,179.4 304.3,197.0 306.2,201.7 308.1,220.0 310.0,223.3 311.9,217.2 313.8,228.2 315.7,215.1 317.5,201.9 319.4,195.7 321.3,187.7 323.2,172.3 325.1,166.2 327.0,186.2 328.9,187.8 330.8,196.2 332.6,194.6 334.5,211.0 336.4,207.3 338.3,207.4 340.2,199.2 342.1,207.5 344.0,207.6 345.9,226.8 347.8,223.6 349.6,219.5 351.5,229.4 353.4,224.2 355.3,233.9 357.2,223.4 359.1,227.6 361.0,227.2 362.9,205.4 364.8,197.6 366.6,180.8 368.5,171.2 370.4,174.3 372.3,160.0 374.2,160.6 376.1,164.5 378.0,173.4 379.9,189.1 381.8,185.2 383.6,189.8 385.5,187.1 387.4,190.7 389.3,186.5 391.2,195.3 406.9,192.1 422.6,189.1 438.3,186.2 454.0,183.5 469.7,181.0 485.4,178.6 501.1,176.4 516.8,174.3 532.5,172.3 548.2,170.5 563.9,168.7 579.7,167.1 595.4,165.6 611.1,164.1 626.8,162.8 642.5,161.5 658.2,160.3 673.9,159.2 689.6,158.1 705.3,157.1 721.0,156.2 736.7,155.3 752.4,154.5 768.1,153.7 783.8,153.0 799.5,152.3 815.2,151.7 830.9,151.1 846.6,150.5 862.3,150.0 878.0,149.5 893.7,149.0 904.2,148.7" stroke-width="1.35" stroke="#000"/>
<polyline points="119.0,176.2 150.3,176.2 152.1,162.2 154.0,171.6 155.9,157.1 157.7,153.2 159.6,166.6 161.5,166.2 163.4,181.8 165.2,185.7 167.1,189.5 169.0,189.3 170.9,175.6 172.7,193.4 174.6,227.7 176.5,214.3 178.4,214.0 180.2,199.3 182.1,187.4 184.0,167.3 185.9,191.6 187.7,171.9 189.6,172.9 191.5,178.7 193.4,159.8 195.2,146.9 197.1,165.7 199.0,173.3 200.9,156.0 202.7,173.7 204.6,168.7 206.5,162.7 208.4,165.5 210.2,172.0 212.1,162.5 214.0,166.0 215.8,178.0 217.7,170.0 219.6,187.7" stroke-width="1.35" stroke="#000"/>
<polyline points="119.0,234.3 149.1,234.3 151.0,237.1 152.9,225.4 154.7,221.2 156.6,209.3 158.5,209.9 160.4,200.5 162.3,213.1 164.1,224.9 166.0,226.6 167.9,242.7 169.8,236.8 171.6,228.1 173.5,241.2 175.4,235.4 177.3,235.9 179.2,237.0 181.0,215.3 182.9,215.4 184.8,211.7 186.7,215.1 188.6,217.1 190.4,214.3 192.3,210.1 194.2,209.5 196.1,194.0 197.9,195.4 199.8,194.6 201.7,172.8 203.6,170.9 205.5,161.9 207.3,155.6 209.2,162.6 211.1,148.8 213.0,148.7 214.8,149.6 216.7,151.0 218.6,148.6 220.5,141.3 222.4,169.0 224.2,152.8 226.1,178.0 228.0,190.7 229.9,180.0 231.7,180.0 233.6,169.9 235.5,182.7 237.4,179.5 239.3,170.4 241.1,178.7 243.0,184.7 244.9,179.8 246.8,171.3 248.6,198.5 250.5,197.6 252.4,189.2 254.3,168.2 256.2,180.0 258.0,175.8 259.9,186.2 261.8,193.7 263.7,196.5 265.5,172.4 267.4,164.1 269.3,151.8 271.2,153.7 273.1,141.2 274.9,142.5 276.8,135.4 278.7,154.9 280.6,165.1 282.5,155.8 284.3,130.2 286.2,110.7 288.1,127.8 290.0,133.2 291.8,138.7 293.7,110.4 295.6,124.3 297.5,125.2 299.4,114.6 301.2,111.1 303.1,131.0 305.0,110.1 306.9,140.2 308.7,138.8 310.6,145.5 312.5,163.3 314.4,166.7 316.3,170.0 318.1,181.9" stroke-width="1.35" stroke="#000"/>
<polyline points="119.0,234.3 149.5,234.3 151.4,228.8 153.3,212.5 155.2,196.8 157.1,217.1 159.0,221.1 160.8,214.3 162.7,202.4 164.6,180.2 166.5,184.8 168.4,199.9 170.2,197.6 172.1,193.2 174.0,199.9 175.9,209.1 177.8,198.9 179.6,212.7 181.5,216.2 183.4,209.0 185.3,204.4 187.2,201.5 189.1,211.0 190.9,250.3 192.8,253.2 194.7,238.0 196.6,221.7 198.5,199.7 200.3,192.3 202.2,175.5 204.1,178.0 206.0,174.5 207.9,151.4 209.7,164.5 211.6,174.2 213.5,162.0 215.4,155.1 217.3,179.1 219.2,164.7 221.0,176.6 222.9,186.3 224.8,174.2 226.7,169.9 228.6,165.3 230.4,150.6 232.3,142.9 234.2,178.1 236.1,175.1 238.0,167.3 239.8,168.8 241.7,173.1 243.6,170.7 245.5,168.6 247.4,170.2 249.3,172.3 251.1,185.5 253.0,182.9 254.9,190.2 256.8,178.5 258.7,184.1 260.5,187.6 262.4,201.3 264.3,201.2 266.2,191.3 268.1,203.2 269.9,186.2 271.8,183.9 273.7,185.7 275.6,175.9 277.5,172.2 279.3,195.9 281.2,182.0 283.1,174.4 285.0,175.6 286.9,213.4 288.8,253.3 290.6,259.8 292.5,247.4 294.4,228.5 296.3,221.7 298.2,217.5 300.0,240.3 301.9,234.0 303.8,239.3" stroke-width="1.35" stroke="#000"/>
<polyline points="119.0,191.4 148.5,191.4 150.4,203.1 152.3,222.7 154.2,237.1 156.1,245.4 157.9,240.9 159.8,214.0 161.7,209.5 163.6,211.3 165.5,201.0 167.4,215.8 169.2,212.0 171.1,208.4 173.0,235.1 174.9,228.7 176.8,233.4 178.6,231.7 180.5,232.1 182.4,227.5 184.3,234.3 186.2,220.5 188.0,207.0 189.9,218.3 191.8,213.6 193.7,214.9 195.6,197.8 197.5,207.3 199.3,204.6 201.2,205.9 203.1,221.7 205.0,205.8 206.9,201.1 208.7,214.9 210.6,202.3 212.5,189.5 214.4,208.2 216.3,209.1 218.1,210.3 220.0,210.4 221.9,209.1 223.8,211.9 225.7,230.2 227.5,225.0 229.4,236.4 231.3,237.9 233.2,225.9 235.1,199.2 237.0,181.3 238.8,190.2 240.7,192.1 242.6,174.9 244.5,169.4 246.4,160.6 248.2,172.9 250.1,167.2 252.0,161.0 253.9,146.8 255.8,129.6 257.6,143.3 259.5,130.6 261.4,139.4 263.3,142.9 265.2,129.8 267.0,132.8 268.9,131.4 270.8,116.8 272.7,96.8 274.6,97.7 276.5,118.8 278.3,123.2 280.2,136.3 282.1,145.6 284.0,145.3 285.9,152.6 287.7,156.0 289.6,160.4 291.5,165.0 293.4,189.8 295.3,192.3 297.1,193.7 299.0,174.5 300.9,166.3 302.8,165.6 304.7,175.1 306.6,170.8" stroke-width="1.35" stroke="#000"/>
<polyline points="119.0,178.2 150.3,178.2 152.2,183.0 154.1,189.1 156.0,206.8 157.9,192.6 159.8,226.3 161.6,219.7 163.5,216.1 165.4,211.0 167.3,219.2 169.2,231.4 171.1,208.5 172.9,203.9 174.8,194.3 176.7,216.4 178.6,204.2 180.5,187.6 182.3,180.7 184.2,204.6 186.1,219.4 188.0,249.6 189.9,241.8 191.8,226.3 193.6,220.9 195.5,225.4 197.4,234.8 199.3,221.9 201.2,232.5 203.1,206.7 204.9,200.1 206.8,183.5 208.7,183.7 210.6,188.5 212.5,183.5 214.3,194.7 216.2,197.5 218.1,198.7 220.0,209.6 221.9,201.9 223.8,214.3 225.6,234.9 227.5,233.9 229.4,231.0 231.3,230.8 233.2,227.1 235.0,222.0 236.9,215.8 238.8,213.3 240.7,211.9 242.6,229.4 244.5,219.8 246.3,204.8 248.2,208.6 250.1,216.8 252.0,203.4 253.9,209.6 255.8,205.1 257.6,197.5 259.5,183.2 261.4,146.8 263.3,154.0 265.2,197.2 267.0,194.3 268.9,202.4 270.8,192.5 272.7,187.0 274.6,175.6 276.5,176.9 278.3,166.8 280.2,174.8 282.1,166.7 284.0,182.0 285.9,193.1 287.8,193.3 289.6,184.4 291.5,195.9 293.4,194.4 295.3,185.3 297.2,176.6 299.0,190.9 300.9,167.4 302.8,173.5 304.7,169.3 306.6,152.3 308.5,164.5 310.3,189.1 312.2,173.0 314.1,190.6 316.0,186.9 317.9,195.8 319.7,170.0 321.6,165.8 323.5,145.3 325.4,142.0 327.3,152.0 329.2,143.3 331.0,158.8 332.9,167.0 334.8,156.2 336.7,148.7 338.6,162.7 340.5,165.5 342.3,168.5 344.2,184.0" stroke-width="1.35" stroke="#000"/>
<polyline points="119.0,191.4 148.9,191.4 150.8,190.8 152.7,199.8 154.6,184.4 156.4,204.6 158.3,192.8 160.2,187.6 162.1,199.5 163.9,197.7 165.8,190.6 167.7,208.2 169.6,229.2 171.4,230.7 173.3,219.7 175.2,213.6 177.1,211.4 178.9,217.6 180.8,221.7 182.7,208.7 184.6,201.4 186.4,180.9 188.3,175.0 190.2,175.7 192.1,182.4 194.0,183.8 195.8,166.3 197.7,174.8 199.6,180.0 201.5,177.5 203.3,172.4 205.2,157.5 207.1,162.0 209.0,138.0 210.8,142.1 212.7,143.6 214.6,144.1 216.5,131.2 218.3,125.4 220.2,128.7 222.1,146.6 224.0,165.7 225.8,163.2 227.7,161.0 229.6,164.3 231.5,162.8 233.3,172.7 235.2,170.0 237.1,154.9 239.0,152.0 240.8,153.8 242.7,154.3 244.6,145.3 246.5,156.8 248.3,164.4 250.2,175.4 252.1,196.8 254.0,179.1 255.8,170.7 257.7,181.2 259.6,159.1 261.5,170.3 263.3,166.4 265.2,177.0 267.1,160.9 269.0,157.0 270.8,151.3 272.7,146.7 274.6,122.9 276.5,156.6 278.3,163.8 280.2,163.6 282.1,158.0 284.0,160.5" stroke-width="1.35" stroke="#000"/>
<polyline points="119.0,203.6 149.7,203.6 151.6,207.3 153.5,188.9 155.3,186.7 157.2,182.3 159.1,155.8 161.0,139.4 162.8,166.1 164.7,157.2 166.6,146.7 168.5,144.7 170.3,154.6 172.2,138.0 174.1,147.1 176.0,149.3 177.8,160.0 179.7,163.0 181.6,181.2 183.5,165.3 185.3,172.8 187.2,171.4 189.1,175.3 191.0,155.8 192.8,131.5 194.7,129.6 196.6,131.7 198.5,132.8 200.4,148.2 202.2,162.3 204.1,169.9 206.0,168.7 207.9,176.8 209.7,179.4 211.6,178.1 213.5,169.8 215.4,168.8 217.2,176.8 219.1,177.5 221.0,193.3 222.9,177.6 224.7,168.9 226.6,164.5 228.5,186.9 230.4,189.9 232.2,187.1 234.1,190.9 236.0,181.4 237.9,199.1 239.7,190.1 241.6,175.1 243.5,181.3 245.4,187.4 247.2,199.9 249.1,190.7 251.0,191.1 252.9,189.6 254.7,196.1 256.6,187.5 258.5,185.4 260.4,185.9 262.2,188.8 264.1,182.3 266.0,185.8 267.9,191.8 269.7,195.1 271.6,198.1 273.5,208.3 275.4,182.3 277.2,161.8 279.1,181.9 281.0,188.5 282.9,197.3 284.7,174.9 286.6,179.7 288.5,172.8 290.4,182.0 292.2,183.2 294.1,170.9 296.0,144.7 297.9,145.1 299.7,130.5 301.6,115.3 303.5,105.3 305.4,96.9 307.2,113.3 309.1,106.6 311.0,111.0 312.9,140.4 314.7,135.9 316.6,138.1 318.5,150.4 320.4,143.7 322.2,155.5 324.1,161.4 326.0,167.8" stroke-width="1.35" stroke="#000"/>
<polyline points="119.0,174.5 147.7,174.5 149.6,175.4 151.5,174.9 153.4,166.6 155.3,164.5 157.2,157.0 159.0,173.0 160.9,161.3 162.8,146.0 164.7,141.6 166.6,138.8 168.5,138.2 170.4,149.4 172.3,165.2 174.2,168.3 176.0,168.0 177.9,171.4 179.8,166.6 181.7,174.8 183.6,175.4 185.5,186.7 187.4,199.3 189.3,179.0 191.2,175.1 193.0,176.6 194.9,188.0 196.8,181.3 198.7,158.3 200.6,169.0 202.5,174.1 204.4,169.6 206.3,182.0 208.2,205.5 210.1,194.2 211.9,194.9 213.8,180.7 215.7,170.2 217.6,170.4 219.5,188.9 221.4,172.9 223.3,167.9 225.2,167.1 227.1,167.2 228.9,168.2 230.8,163.5 232.7,179.1 234.6,177.1 236.5,189.3 238.4,197.9 240.3,196.0 242.2,199.5 244.1,195.9 245.9,194.4 247.8,199.9 249.7,189.3 251.6,182.3 253.5,185.3 255.4,193.1 257.3,173.7 259.2,190.6 261.1,181.9 262.9,189.2 264.8,177.7 266.7,178.9 268.6,156.4 270.5,152.5 272.4,158.2 274.3,167.9 276.2,160.4 278.1,161.9 279.9,182.5 281.8,195.3 283.7,212.9 285.6,188.2 287.5,169.1 289.4,170.3 291.3,156.5 293.2,160.1 295.1,163.4 296.9,165.6 298.8,158.3 300.7,166.5 302.6,162.1 304.5,163.2 306.4,186.1 308.3,200.7 310.2,187.7 312.1,187.9" stroke-width="1.35" stroke="#000"/>
<polyline points="119.0,173.6 149.1,173.6 151.0,184.5 152.9,184.4 154.8,176.0 156.7,177.8 158.6,207.2 160.5,192.4 162.4,207.7 164.3,213.6 166.2,205.6 168.1,183.1 169.9,177.4 171.8,178.9 173.7,185.8 175.6,194.2 177.5,206.5 179.4,195.6 181.3,196.9 183.2,195.5 185.1,211.8 187.0,207.5 188.9,225.6 190.8,216.0 192.7,191.7 194.6,203.3 196.5,216.5 198.4,198.8 200.3,205.0 202.2,189.6 204.1,206.1 205.9,201.1 207.8,189.3 209.7,185.9 211.6,198.6 213.5,230.4 215.4,227.7 217.3,233.3 219.2,228.1 221.1,204.8 223.0,222.6 224.9,223.9 226.8,212.8 228.7,187.5 230.6,187.8 232.5,175.3 234.4,188.3 236.3,188.2 238.2,188.8 240.1,181.3 241.9,182.9 243.8,185.3 245.7,173.4 247.6,174.6 249.5,177.6 251.4,175.9 253.3,178.7 255.2,167.8 257.1,162.5 259.0,175.3 260.9,175.9 262.8,196.7 264.7,205.6 266.6,202.7 268.5,184.5 270.4,179.4 272.3,167.0 274.2,176.5 276.0,161.2 277.9,156.5 279.8,165.3 281.7,172.2 283.6,175.3 285.5,192.7 287.4,208.7 289.3,214.1 291.2,207.0 293.1,205.3 295.0,182.6 296.9,170.5 298.8,176.2 300.7,163.2 302.6,170.1" stroke-width="1.35" stroke="#000"/>
<polyline points="119.0,173.6 148.4,173.6 150.3,163.5 152.2,153.1 154.1,150.4 156.0,147.5 157.9,156.0 159.8,179.8 161.7,181.0 163.6,181.9 165.5,162.0 167.3,164.3 169.2,163.7 171.1,160.5 173.0,172.0 174.9,171.6 176.8,161.1 178.7,165.9 180.6,181.8 182.5,181.7 184.4,169.8 186.3,172.8 188.2,179.8 190.1,170.6 192.0,190.2 193.9,188.9 195.7,188.4 197.6,197.6 199.5,196.6 201.4,182.9 203.3,171.8 205.2,170.5 207.1,158.4 209.0,153.7 210.9,171.2 212.8,160.6 214.7,163.4 216.6,163.9 218.5,163.4 220.4,148.0 222.3,156.8 224.1,152.1 226.0,155.4 227.9,163.8 229.8,183.8 231.7,174.3 233.6,180.2 235.5,183.8 237.4,183.7 239.3,189.5 241.2,206.8 243.1,184.3 245.0,175.2" stroke-width="1.35" stroke="#000"/>
<polyline points="119.0,222.8 148.1,222.8 150.0,214.6 151.9,193.6 153.8,206.2 155.7,221.6 157.6,224.4 159.5,214.3 161.3,210.3 163.2,231.4 165.1,220.7 167.0,201.3 168.9,204.4 170.8,195.5 172.7,193.5 174.6,201.8 176.5,187.2 178.3,188.7 180.2,205.8 182.1,193.7 184.0,218.6 185.9,193.0 187.8,220.4 189.7,226.9 191.6,246.4 193.5,234.9 195.3,215.5 197.2,230.0 199.1,221.8 201.0,234.2 202.9,251.3 204.8,243.7 206.7,224.9 208.6,221.3 210.5,217.7 212.3,204.2 214.2,199.1 216.1,187.8 218.0,177.4 219.9,173.1 221.8,168.7 223.7,162.8 225.6,166.8 227.5,172.1 229.3,181.1 231.2,171.5 233.1,178.5 235.0,165.7 236.9,151.9 238.8,154.7 240.7,157.1 242.6,141.4 244.5,141.8 246.3,122.0 248.2,141.0 250.1,161.4 252.0,159.4 253.9,157.8 255.8,162.7 257.7,180.6 259.6,178.7 261.5,181.8 263.4,173.1 265.2,169.1 267.1,177.4 269.0,180.4 270.9,168.8 272.8,170.8 274.7,179.2 276.6,182.4 278.5,160.0 280.4,135.5 282.2,133.1 284.1,128.4 286.0,127.4 287.9,128.6 289.8,157.4 291.7,132.6 293.6,139.6 295.5,138.4 297.4,135.3 299.2,149.4 301.1,168.8 303.0,162.0 304.9,159.3 306.8,153.1 308.7,136.2 310.6,152.7 312.5,163.3 314.4,159.9 316.2,148.4 318.1,136.4 320.0,150.2 321.9,156.1 323.8,164.0" stroke-width="1.35" stroke="#000"/>
<polyline points="119.0,174.5 148.8,174.5 150.6,181.9 152.5,171.2 154.4,159.6 156.3,167.4 158.2,163.2 160.1,160.8 161.9,171.7 163.8,175.3 165.7,150.5 167.6,148.9 169.5,145.4 171.4,170.3 173.2,194.1 175.1,186.8 177.0,190.3 178.9,205.3 180.8,212.6 182.7,217.3 184.5,235.6 186.4,220.3 188.3,240.7 190.2,210.5 192.1,229.6 194.0,233.8 195.8,220.2 197.7,213.1 199.6,198.3 201.5,205.3 203.4,226.8 205.3,210.7 207.1,216.6 209.0,209.2 210.9,190.0 212.8,169.0 214.7,195.4 216.6,188.5 218.4,205.0 220.3,211.2 222.2,220.0 224.1,197.2 226.0,193.2 227.9,202.4 229.7,188.9 231.6,199.2 233.5,180.8 235.4,187.2 237.3,180.1 239.2,165.1 241.0,178.9 242.9,169.2 244.8,163.9 246.7,160.1 248.6,174.0 250.5,170.4 252.3,177.4 254.2,170.4 256.1,192.7 258.0,190.8 259.9,197.2 261.8,207.8 263.6,187.7 265.5,197.3 267.4,199.3 269.3,188.6 271.2,196.8 273.1,179.6 275.0,188.7 276.8,197.5 278.7,199.1 280.6,199.2 282.5,175.4 284.4,162.2 286.3,165.9 288.1,154.8 290.0,166.2 291.9,160.2 293.8,161.8 295.7,168.7" stroke-width="1.35" stroke="#000"/>
<polyline points="119.0,203.6 148.2,203.6 150.1,197.7 152.0,221.9 153.8,207.0 155.7,206.3 157.6,203.3 159.5,213.6 161.4,233.1 163.3,232.2 165.2,231.2 167.1,228.4 169.0,199.5 170.8,201.4 172.7,176.5 174.6,183.0 176.5,171.9 178.4,180.8 180.3,185.3 182.2,164.8 184.1,159.5 186.0,179.1 187.8,170.0 189.7,159.1 191.6,157.3 193.5,169.4 195.4,174.2 197.3,169.3 199.2,169.0 201.1,170.2 203.0,185.6 204.9,164.7 206.7,157.8 208.6,172.7 210.5,191.8 212.4,180.9 214.3,182.9 216.2,208.6 218.1,203.7 220.0,198.5 221.9,207.2 223.7,214.6 225.6,201.5 227.5,212.5 229.4,224.4 231.3,244.1 233.2,236.0 235.1,213.2 237.0,208.6 238.9,222.8 240.7,214.9 242.6,200.6 244.5,205.4 246.4,197.5 248.3,196.9 250.2,169.0 252.1,179.8 254.0,200.3 255.9,200.2 257.8,182.7 259.6,181.4 261.5,167.1 263.4,164.3 265.3,150.8 267.2,155.5 269.1,166.9 271.0,178.5 272.9,184.5 274.8,179.6 276.6,167.7 278.5,175.4 280.4,159.7 282.3,166.9 284.2,154.5 286.1,164.0 288.0,166.5" stroke-width="1.35" stroke="#000"/>
<polyline points="119.0,222.8 149.7,222.8 151.6,231.8 153.5,231.7 155.3,212.2 157.2,197.6 159.1,192.0 161.0,188.3 162.8,197.4 164.7,195.1 166.6,202.8 168.5,216.7 170.3,216.7 172.2,194.7 174.1,197.5 176.0,191.5 177.8,202.1 179.7,204.1 181.6,189.5 183.5,187.4 185.3,192.4 187.2,178.0 189.1,178.9 191.0,171.2 192.8,149.5 194.7,128.4 196.6,149.2 198.5,150.9 200.3,168.1 202.2,172.1 204.1,170.2 206.0,179.5 207.8,166.0 209.7,170.6 211.6,193.3 213.5,192.8 215.3,208.6 217.2,213.4 219.1,221.0 221.0,218.0 222.8,236.1 224.7,237.4 226.6,229.7 228.5,233.9 230.3,248.9 232.2,237.5 234.1,233.8 236.0,242.2 237.8,251.8 239.7,248.9 241.6,235.2 243.5,244.1 245.3,243.4 247.2,219.9 249.1,217.3 251.0,211.7 252.8,209.1 254.7,190.3 256.6,200.8 258.5,198.6 260.3,196.1 262.2,187.7 264.1,190.1 266.0,216.6 267.8,224.9 269.7,220.9 271.6,200.8 273.5,210.7 275.3,191.6 277.2,195.1 279.1,187.6 281.0,183.7 282.8,195.7 284.7,192.1 286.6,197.7 288.5,181.9 290.3,167.4 292.2,165.8 294.1,165.6 296.0,165.4 297.8,152.8 299.7,153.9 301.6,172.0 303.5,169.4 305.3,134.2 307.2,152.2 309.1,147.8 311.0,150.7 312.8,139.1 314.7,129.2 316.6,138.8 318.5,134.3" stroke-width="1.35" stroke="#000"/>
<polyline points="119.0,183.5 149.1,183.5 151.2,176.9 153.3,166.1 155.4,158.4 157.5,158.2 159.6,153.0 161.5,141.9 163.5,134.4 165.5,136.9 167.4,137.8 169.4,125.4 171.3,114.8 173.3,106.0 175.3,95.1 177.2,95.7 179.2,98.9 181.2,91.9 183.1,85.0 185.1,84.4 187.1,81.3 189.1,82.9 191.1,81.8 193.0,81.9 194.9,81.3 210.6,78.7 226.3,76.3 242.0,73.9 257.7,71.7 273.4,69.5 289.1,67.4 304.8,65.3 320.5,63.4 336.2,61.4 351.9,59.6 367.6,57.8 383.4,56.1 399.1,54.5 414.8,52.9 430.5,51.3 446.2,49.9 461.9,48.4 477.6,47.0 493.3,45.7 509.0,44.4 524.7,43.2 540.4,42.0 556.1,40.8 571.8,39.7 587.5,38.6 603.2,37.5 618.9,36.5 634.6,35.6 650.3,34.6 666.0,33.7 681.7,32.8 697.4,32.0 713.1,31.2 728.8,30.4 744.5,29.6 759.2,29.0" stroke-width="1.35" stroke="#000"/>
<polyline points="119.0,195.3 149.6,195.3 152.4,191.5 154.3,185.0 156.3,176.4 158.3,171.6 160.2,170.8 162.2,163.4 164.1,159.9 166.1,158.1 168.1,159.9 170.0,158.3 172.0,163.5 174.0,161.5 175.9,154.9 177.9,151.1 179.9,141.0 181.8,137.8 183.6,132.1 185.3,126.1 187.1,127.6 188.8,130.0 190.5,127.5 192.3,131.0 194.0,124.4 195.8,114.1 197.5,109.0 199.5,100.8 201.4,102.2 203.4,98.8 205.4,102.9 221.1,100.4 236.8,98.0 252.5,95.6 268.2,93.4 283.9,91.3 299.6,89.2 315.3,87.2 331.0,85.3 346.7,83.5 362.4,81.7 378.1,80.0 393.8,78.4 409.5,76.8 425.2,75.3 440.9,73.9 456.6,72.5 472.3,71.2 488.0,69.9 503.7,68.7 519.5,67.5 535.2,66.4 550.9,65.3 566.6,64.2 582.3,63.2 598.0,62.3 613.7,61.3 629.4,60.4 645.1,59.6 660.8,58.8 676.5,58.0 692.2,57.2 707.9,56.5 723.6,55.8 739.3,55.1 755.0,54.5 770.7,53.8 776.0,53.6" stroke-width="1.35" stroke="#000"/>
<polyline points="119.0,212.3 148.3,212.3 150.2,208.9 152.0,214.6 153.9,204.2 155.8,207.6 157.6,195.0 159.5,202.3 161.4,210.1 163.2,188.4 165.1,197.1 167.0,197.1 168.8,194.8 170.7,189.3 172.6,215.7 174.4,207.0 176.3,216.8 178.2,232.9 180.0,218.2 181.9,228.1 183.8,214.4 185.6,196.5 187.5,196.9 189.4,196.0 191.2,213.5 193.1,216.7 195.0,188.7 196.8,178.9 198.7,168.2 200.5,157.8 202.4,150.9 204.3,143.6 206.1,135.2 208.0,152.0 209.9,166.2 211.7,165.5 213.6,152.4 215.5,163.3 217.3,148.2 219.2,153.2 221.1,124.2 222.8,124.1 224.6,124.4 226.3,131.0 228.3,117.5 230.2,110.7 232.5,104.8 234.7,91.1 236.7,86.6 238.7,80.2 240.7,77.2 242.7,79.6 244.6,85.0 246.6,84.3 248.6,81.3 250.5,87.1 252.5,85.0 254.2,87.1 256.0,85.1 257.7,83.6 273.4,81.8 289.1,80.0 304.8,78.2 320.5,76.6 336.2,74.9 351.9,73.4 367.6,71.9 383.4,70.5 399.1,69.1 414.8,67.7 430.5,66.5 446.2,65.2 461.9,64.0 477.6,62.9 493.3,61.8 509.0,60.7 524.7,59.7 540.4,58.7 556.1,57.8 571.8,56.8 587.5,56.0 603.2,55.1 618.9,54.3 634.6,53.5 650.3,52.7 666.0,52.0 681.7,51.3 697.4,50.6 713.1,50.0 728.8,49.3 739.3,48.9" stroke-width="1.35" stroke="#000"/>
<polyline points="119.0,188.6 148.3,188.6 150.1,184.0 152.0,197.1 153.9,199.0 155.8,191.2 157.7,201.8 159.5,206.6 161.4,223.7 163.3,224.3 165.2,224.5 167.1,214.3 168.9,213.2 170.8,226.8 172.7,222.2 174.6,233.0 176.5,238.1 178.3,241.8 180.2,213.9 182.1,196.9 184.0,215.8 185.8,210.4 187.7,197.6 189.6,188.5 191.5,190.7 193.4,191.5 195.2,194.1 197.1,195.8 199.0,200.0 200.9,213.8 202.8,202.8 204.6,208.3 206.5,183.1 208.4,181.6 210.3,180.7 212.2,168.9 214.0,166.4 215.9,166.7 217.8,182.2 219.7,196.2 221.5,210.0 223.4,194.3 225.3,199.1 227.2,196.4 229.1,191.4 230.9,199.9 232.8,197.5 234.7,200.3 236.6,208.5 238.5,208.7 240.3,216.7 242.2,212.7 244.1,209.9 246.0,203.7 247.9,180.8 249.7,179.8 251.6,162.1 253.5,147.8 255.4,154.6 257.3,163.5 259.1,168.6 261.0,156.2 262.9,148.8 264.8,138.4 266.6,126.6 268.5,116.8 270.4,98.4 272.3,117.4 274.2,114.6 276.0,124.2 278.0,124.8 280.0,130.8 281.9,133.9 283.9,137.8 285.9,135.0 287.8,127.2 289.8,120.9 291.7,117.5 293.8,114.3 295.8,109.4 297.8,105.8 299.9,102.9 301.9,112.3 303.9,116.3 305.9,124.1 308.0,130.7 309.9,128.2 311.9,119.7 313.9,117.0 315.8,114.8 317.8,121.2 319.8,128.4 321.8,134.4 323.8,124.1 325.8,118.8 327.7,115.2 329.6,106.8 331.5,102.9 333.5,88.1 335.5,79.2 337.2,74.1 338.9,63.3 341.2,61.4 343.6,59.3 345.5,59.7 347.5,53.5 349.8,49.0 352.2,51.5 353.8,53.9 355.3,55.5 357.4,53.8 359.4,50.9 361.4,53.5 377.1,51.9 392.8,50.4 408.5,48.9 424.2,47.5 439.9,46.2 455.6,44.9 471.3,43.7 487.0,42.5 502.7,41.4 518.4,40.4 534.1,39.3 549.8,38.4 565.5,37.5 581.2,36.6 596.9,35.7 612.6,34.9 628.3,34.2 644.0,33.4 659.7,32.7 675.4,32.1 691.1,31.4 706.9,30.8 712.1,30.6" stroke-width="1.35" stroke="#000"/>
<polyline points="119.0,178.4 150.4,178.4 152.2,180.1 154.1,175.1 156.0,175.4 157.9,151.8 159.8,151.2 161.7,158.2 163.6,170.0 165.4,166.0 167.3,180.8 169.2,178.0 171.1,181.0 173.0,180.5 174.9,191.5 176.8,197.3 178.7,206.3 180.5,202.9 182.4,182.5 184.3,172.4 186.2,163.0 188.1,144.8 190.0,170.7 191.9,155.3 193.7,170.3 195.6,158.4 197.5,162.3 199.4,157.0 201.3,191.5 203.2,201.7 205.1,200.1 207.0,188.9 208.8,198.3 210.7,226.2 212.6,233.9 214.5,237.8 216.4,223.0 218.3,233.4 220.2,215.3 222.1,211.4 223.9,208.4 225.8,201.1 227.7,188.9 229.6,184.9 231.5,189.3 233.4,193.0 235.3,191.8 237.1,190.3 239.0,197.5 240.9,192.7 242.8,192.8 244.7,190.9 246.6,191.1 248.5,208.5 250.4,212.9 252.2,211.4 254.1,215.4 256.0,211.9 257.9,202.8 259.8,177.0 261.7,161.8 263.6,172.8 265.5,176.1 267.3,181.0 269.2,189.1 271.1,198.1 273.0,200.9 274.9,193.8 276.8,177.8 278.7,151.7 280.5,140.5 282.4,152.1 284.3,157.8 286.2,150.4 288.1,143.1 290.0,133.7 291.9,156.4 293.8,149.9 295.6,154.4 297.5,144.3 299.4,154.5 301.3,149.1 303.2,159.0 305.1,145.8 307.0,149.2 308.8,127.0 310.7,149.9 312.6,167.0 314.5,151.7 316.4,148.5 318.3,148.5 320.2,155.3 322.1,149.5 323.9,142.2 325.8,143.5 327.7,135.9 329.6,113.7 331.5,112.8 333.4,99.0 335.3,107.6 337.2,117.3 339.0,129.4 340.9,144.9 342.8,153.7 344.7,158.5 346.6,149.8 348.5,164.2 350.4,143.5 352.2,159.4 354.1,146.7 356.0,138.7 357.9,132.2 359.8,134.4 361.5,129.9 363.3,135.8 365.0,121.7 366.8,123.5 368.5,121.1 370.3,120.9 372.0,123.0 373.8,129.2 375.5,129.3 377.2,135.1 379.0,132.8 380.7,134.4 382.7,130.0 384.7,135.3 386.6,122.9 388.6,124.2 390.4,122.2 392.2,120.8 394.1,114.7 395.9,115.8 397.7,112.7 399.8,119.4 401.8,124.5 403.8,130.7 405.9,132.0 408.0,127.9 410.0,131.4 412.1,124.2 414.1,126.4 416.1,123.4 418.0,130.9 420.0,134.4 421.9,133.0 423.8,133.2 425.8,139.4 427.7,137.6 429.6,135.9 431.5,136.4 433.3,133.6 435.2,133.8 437.0,127.6 439.1,127.4 441.2,124.8 443.3,122.6 445.3,128.4 447.3,141.8 449.3,142.5 451.3,137.5 453.3,134.6 455.3,132.7 457.2,136.8 459.2,142.5 461.1,138.5 463.0,136.3 465.0,138.2 467.0,126.8 468.9,126.6 471.0,131.3 473.0,124.9 475.0,123.7 477.1,130.7 479.2,121.6 481.4,119.2 483.6,114.8 485.3,107.9 487.1,95.1 488.8,85.0 490.8,75.2 492.8,65.3 494.2,67.9 495.6,63.3 497.2,74.2 498.8,73.1 500.7,71.6 502.7,67.4 504.7,66.5 506.6,69.4 508.6,67.6 510.6,67.9 512.6,65.3 642.5,46.4 871.5,13.9" stroke-width="1.35" stroke="#000"/>
<polyline points="119.0,208.9 147.7,208.9 149.6,190.6 151.5,197.5 153.3,201.1 155.2,203.7 157.1,219.3 159.0,204.8 160.9,227.2 162.7,219.3 164.6,241.3 166.5,226.2 168.4,233.6 170.2,222.3 172.1,211.3 174.0,194.5 175.9,195.3 177.8,189.5 179.6,180.7 181.5,190.0 183.4,193.8 185.3,168.5 187.2,196.9 189.0,179.5 190.9,181.3 192.8,188.6 194.7,207.7 196.5,205.4 198.4,193.8 200.3,194.9 202.2,175.6 204.1,186.6 205.9,192.1 207.8,192.3 209.7,199.0 211.6,197.2 213.4,205.2 215.3,217.1 217.2,220.2 219.1,210.6 221.0,198.4 222.8,207.7 224.7,191.7 226.6,190.0 228.5,190.6 230.4,200.5 232.2,197.7 234.1,201.3 236.0,209.6 237.9,197.8 239.7,188.4 241.6,187.6 243.5,174.4 245.4,164.9 247.3,159.5 249.1,159.9 251.0,171.6 252.9,172.5 254.8,164.7 256.6,165.4 258.5,166.0 260.4,164.3 262.3,155.0 264.2,167.3 266.0,159.1 267.9,142.8 269.8,163.2 271.7,177.8 273.6,175.6 275.4,158.4 277.3,143.5 279.2,137.9 281.1,134.0 282.9,136.8 284.8,138.2 286.7,126.7 288.6,142.8 290.5,149.3 292.3,145.6 294.2,130.3 296.1,144.7 298.0,149.7 299.8,147.6 301.7,141.6 303.6,123.7 305.5,118.8 307.4,130.6 309.2,146.4 311.1,163.6 313.0,181.3 314.9,182.0 316.8,157.7 318.6,157.1 320.5,164.2 322.4,164.0 324.3,169.5 326.1,150.7 328.0,147.3 329.9,157.4 331.8,155.3 333.7,151.3 335.5,162.3 337.4,175.5 339.3,175.1 341.2,202.6 343.0,214.0 344.9,205.3 346.8,193.3 348.7,172.0 350.6,167.1 352.4,166.7 354.3,172.3 356.2,177.4 358.1,166.0 360.0,162.2 361.8,151.8 363.7,160.4 365.6,151.8 367.5,169.1 369.3,188.5 371.2,174.9 373.1,165.5 375.0,155.4 376.9,163.0 378.7,157.0 380.6,157.3 382.5,174.4 384.4,169.7 386.2,188.9 388.1,184.9 390.0,179.1 391.9,191.5 393.8,185.2 395.6,200.3 397.5,214.8 399.4,208.1 401.3,210.0 403.2,228.7 405.0,193.8 406.9,191.9 408.9,185.6 410.8,183.4 412.8,181.5 414.8,175.0 416.7,180.2 418.7,185.6 420.6,192.0 422.6,195.3 424.6,191.7 426.5,180.9 428.5,180.3 430.5,171.6 432.4,170.9 434.4,177.2 436.4,186.6 438.3,190.3 440.3,184.4 442.2,181.7 444.2,173.3 446.2,168.2 448.1,171.7 450.1,175.7 452.1,179.7 454.0,185.2 456.0,179.4 457.9,174.7 459.9,175.7 461.9,169.9 463.6,171.3 465.4,177.6 467.2,182.0 468.9,178.1 470.9,187.6 473.0,193.1 475.0,196.0 476.9,196.6 478.8,187.5 480.8,190.4 482.7,182.0 484.7,186.0 486.6,184.8 488.6,179.4 490.6,187.2 492.6,188.6 494.6,202.1 496.5,203.5 498.4,194.7 500.3,189.6 502.2,189.9 504.0,185.6 505.8,190.4 507.7,185.8 509.5,187.2 511.5,193.1 513.5,195.2 515.5,208.2 517.8,210.2 520.0,213.9 521.8,214.1 523.6,215.5 525.5,211.1 527.3,217.5 529.1,210.9 531.4,227.5 533.6,232.2 535.6,240.1 537.6,238.3 539.6,246.4 541.6,243.0 543.6,241.9 545.6,238.0 547.9,226.1 550.1,226.1 552.0,220.3 553.9,212.4 555.8,210.1 557.7,206.5 559.7,212.6 561.7,212.8 563.7,218.7 565.5,223.9 567.3,231.4 569.2,230.7 571.0,232.2 572.8,233.9 574.7,222.3 576.5,219.2 578.3,218.1 580.2,210.9 582.2,217.9 584.2,216.6 586.2,213.9 588.2,210.2 590.2,210.0 592.2,207.6 594.2,213.5 596.2,202.3 598.2,206.5 600.2,201.5 602.2,203.9 604.1,204.6 606.1,196.9 608.0,203.1 610.0,200.4 612.0,196.6 614.0,203.6 616.0,195.0 618.0,193.2 620.0,199.6 622.1,197.7 624.1,203.3 626.1,205.6 628.1,201.0 630.1,202.0 632.1,200.8 634.1,203.5 636.1,204.5 638.1,201.1 640.1,196.0 642.1,193.2 644.1,197.2 646.1,196.0 648.1,191.3 650.1,203.4 652.2,197.7 654.2,190.4 656.2,194.2 658.2,194.9 660.2,194.5 662.2,186.4 664.2,189.9 666.2,193.5 668.1,185.1 670.1,189.7 672.0,195.0 674.0,192.5 676.0,187.5 677.9,196.6 679.9,194.7 681.7,193.4 683.4,190.9 685.2,197.3 686.9,189.2 688.7,192.1 690.4,193.9 692.2,186.9 693.9,188.7 695.7,188.4 697.4,188.0 699.2,188.7 700.9,197.1 702.7,191.9 704.5,194.2 706.4,190.8 708.3,184.0 710.1,182.5 712.0,184.3 713.9,183.9 715.8,185.2 717.6,183.0 719.5,188.9 721.4,189.2 723.3,188.8 725.1,179.8 727.0,185.9 729.0,182.4 730.9,175.9 732.9,176.4 734.9,179.1 736.8,179.3 738.8,174.0 740.7,178.3 742.7,171.0 744.7,168.9 746.6,178.1 748.6,173.1 750.6,174.0 752.6,173.4 754.6,155.0 756.6,154.4 758.3,145.7 760.0,149.8 761.7,137.6 763.4,139.1 765.5,151.5 767.6,149.7 769.7,158.4 771.4,156.4 773.1,166.7 774.8,167.8 776.5,174.0 778.5,178.5 780.5,180.8 782.4,176.8 784.4,183.2 786.4,178.1 788.4,174.6 790.3,171.8 792.3,175.0 794.3,170.3 796.2,162.9 798.1,152.4 800.0,146.6 802.1,145.0 804.2,139.1 806.1,151.5 808.1,151.2 810.0,158.4 812.0,156.8 814.0,153.0 816.0,150.3 818.0,160.7 819.9,174.0 821.8,165.8 823.8,164.1 825.7,158.4 827.7,159.0 829.7,165.9 831.7,162.2 833.7,160.0 835.7,158.8 837.7,158.4 839.7,158.7 841.6,170.3 843.7,166.3 845.7,166.1 847.7,158.4 849.7,149.6 851.7,145.7 853.7,134.4 855.6,129.5 857.6,130.7 860.0,146.7 862.3,154.4 864.1,149.1 865.8,153.3 867.6,146.6 869.5,131.4 871.5,118.8 873.4,118.3 875.3,113.0 877.2,114.1 879.2,118.1 881.3,113.8 883.3,122.6 885.3,124.5 887.3,122.0 889.3,130.7 891.2,131.8 893.2,135.1 895.2,139.3 897.1,134.4 898.9,135.6 900.7,129.0 902.4,130.1 904.2,134.4" stroke-width="1.35" stroke="#000"/>
<polyline points="119.0,198.7 149.4,198.7 151.3,202.1 153.2,203.0 155.0,235.9 156.9,234.0 158.8,220.4 160.7,223.6 162.6,233.1 164.4,246.2 166.3,235.6 168.2,250.4 170.1,247.8 171.9,232.5 173.8,222.5 175.7,227.8 177.6,200.8 179.5,190.1 181.3,196.3 183.2,183.5 185.1,191.2 187.0,194.3 188.9,199.4 190.7,198.8 192.6,201.9 194.5,200.7 196.4,207.2 198.2,224.6 200.1,201.6 202.0,188.3 203.9,197.1 205.8,186.7 207.6,208.6 209.5,214.6 211.4,216.3 213.3,186.8 215.2,177.7 217.0,197.6 218.9,182.3 220.8,186.5 222.7,200.3 224.5,202.3 226.4,198.9 228.3,197.7 230.2,190.7 232.1,205.5 233.9,219.7 235.8,233.3 237.7,227.0 239.6,239.5 241.5,260.9 243.3,265.1 245.2,260.0 247.1,237.5 249.0,236.5 250.9,229.6 252.7,258.1 254.6,259.4 256.5,253.3 258.4,262.8 260.2,264.1 262.1,265.6 264.0,265.5 265.9,264.3 267.8,255.6 269.6,240.8 271.5,233.7 273.4,215.3 275.3,201.7 277.2,204.3 279.0,191.8 280.9,201.5 282.8,207.7 284.7,212.8 286.5,194.0 288.4,173.6 290.3,177.7 292.2,187.8 294.1,168.5 295.9,186.9 297.8,174.9 299.7,164.5 301.6,178.3 303.5,170.6 305.3,184.0 307.2,182.4 309.1,189.1 311.0,185.7 312.8,191.7 314.7,202.7 316.6,199.4 318.5,191.6 320.4,187.4 322.2,200.7 324.1,181.3 326.0,187.2 327.9,181.6 329.8,199.3 331.6,196.6 333.5,203.7 335.4,203.8 337.3,191.6 339.1,193.8 341.0,194.7 342.9,183.4 344.8,174.8 346.7,183.5 348.5,188.2 350.4,190.2 352.3,197.5 354.2,200.7 356.1,189.5 357.9,197.4 359.8,190.7 361.7,198.6 363.6,217.3 365.4,211.8 367.3,203.9 369.2,195.6 371.1,189.8 373.0,185.5 374.8,205.9 376.7,204.5 378.6,191.6 380.5,181.8 382.4,186.8 384.2,183.3 386.1,175.2 388.0,177.5 389.9,175.2 391.7,166.2 393.6,163.2 395.5,169.5 397.4,188.7 399.3,195.7 401.1,178.8 403.0,177.0 404.9,161.6 406.8,165.9 408.7,147.8 410.5,163.4 412.4,189.6 414.3,182.1 416.2,184.9 418.1,178.2 419.9,152.8 421.8,155.4 423.7,152.5 425.6,185.6 427.4,185.5 429.3,195.4 431.2,198.0 433.1,185.2 434.8,178.6 436.6,182.1 438.3,174.8 440.1,167.1 441.8,164.7 443.5,164.9 445.3,163.9 447.0,176.3 448.8,175.3 450.5,184.7 452.3,179.7 454.0,188.6 455.8,182.7 457.5,178.0 459.3,180.1 461.0,172.6 462.7,179.3 464.5,171.6 466.2,172.5 468.0,179.0 469.7,179.8 471.5,183.5 473.2,182.0 475.0,185.2 476.7,184.1 478.4,185.4 480.2,182.7 481.9,174.8 483.7,178.6 485.4,176.7 487.2,175.2 488.9,183.3 490.7,179.3 492.4,177.5 494.2,185.4 495.9,185.2 497.9,180.8 499.9,189.1 501.9,187.7 503.9,187.7 505.9,182.8 507.9,186.9 509.9,187.3 511.8,186.0 513.7,185.7 515.6,184.8 517.6,184.7 519.5,184.4 521.4,186.1 523.4,184.1 525.3,185.8 527.2,182.9 529.1,184.2 531.0,181.4 532.9,181.9 534.8,183.4 536.8,181.4 538.7,179.2 540.6,181.3 542.5,180.6 544.4,181.9 546.3,178.6 548.2,178.0 550.1,178.1 551.9,175.8 553.8,175.3 555.7,175.4 557.5,173.9 559.4,170.8 561.3,172.5 563.1,168.9 565.0,168.9 566.8,165.6 568.7,165.7 570.5,164.7 572.3,160.2 574.2,160.1 575.9,159.2 577.7,155.3 579.5,153.6 581.3,149.6 583.1,149.6 584.9,154.3 586.7,154.6 588.5,157.8 590.4,162.6 592.2,163.2 594.2,160.8 596.2,160.1 598.2,160.1 600.2,162.2 602.1,167.8 604.0,172.0 606.0,163.5 608.0,158.5 610.0,144.9 612.4,138.0 614.7,130.0 616.9,126.1 619.2,127.0 620.6,119.5 622.1,115.1 624.4,118.4 626.8,127.0 628.9,108.2 631.0,94.1 633.0,97.4 635.0,98.5 637.0,104.6 638.5,93.5 640.1,89.4 642.1,84.3 644.1,85.2 646.1,88.0 648.1,93.8 650.1,92.4 652.2,94.1 654.5,91.0 656.9,85.3 658.8,85.0 660.8,83.6 904.2,44.4" stroke-width="1.35" stroke="#000"/>
<polyline points="119.0,219.0 148.6,219.0 150.5,207.0 152.4,211.5 154.3,204.0 156.2,184.1 158.1,194.4 159.9,204.6 161.8,200.2 163.7,208.2 165.6,193.6 167.5,202.9 169.4,218.1 171.3,237.1 173.1,227.6 175.0,224.9 176.9,217.0 178.8,222.3 180.7,207.5 182.6,201.2 184.4,196.2 186.3,201.8 188.2,192.1 190.1,182.2 192.0,184.7 193.9,192.1 195.8,210.7 197.6,208.3 199.5,203.4 201.4,228.2 203.3,213.6 205.2,212.0 207.1,205.5 208.9,205.5 210.8,201.1 212.7,212.3 214.6,204.3 216.5,187.1 218.4,188.0 220.2,177.4 222.1,167.7 224.0,171.3 225.9,168.4 227.8,160.1 229.7,148.6 231.6,153.0 233.4,157.1 235.3,154.7 237.2,144.4 239.1,164.3 241.0,169.1 242.9,175.8 244.7,180.4 246.6,181.9 248.5,148.2 250.4,135.4 252.3,143.6 254.2,159.3 256.1,162.2 257.9,150.0 259.8,152.3 261.7,122.7 263.6,132.3 265.5,136.4 267.4,148.6 269.2,154.7 271.1,161.3 273.0,166.3 274.9,176.6 276.8,175.5 278.7,157.5 280.5,156.7 282.4,150.5 284.3,158.9 286.2,158.3 288.1,136.1 290.0,138.5 291.9,141.2 293.7,145.2 295.6,127.8 297.5,133.0 299.4,146.8 301.3,156.1 303.2,169.7 305.0,169.0 306.9,166.5 308.8,162.0 310.7,165.5 312.6,151.5 314.5,177.7 316.4,195.7 318.2,182.9 320.1,187.4 322.0,173.1 323.9,178.7 325.8,176.3 327.7,185.5 329.5,173.9 331.4,191.4 333.3,204.5 335.2,181.5 337.1,161.4 339.0,170.7 340.8,185.4 342.7,183.2 344.6,199.5 346.5,195.0 348.4,206.5 350.3,185.1 352.2,211.9 354.0,200.4 355.9,208.5 357.8,204.9 359.7,213.0 361.6,202.3 363.5,174.0 365.3,172.3 367.2,192.8 369.1,182.2 371.0,200.1 372.9,199.6 374.8,205.2 376.7,194.8 378.5,195.6 380.4,195.6 382.3,209.9 384.2,213.3 386.1,205.9 388.0,205.0 389.8,215.3 391.7,217.2 393.6,194.9 395.5,184.4 397.4,194.9 399.3,200.3 401.1,194.1 403.0,210.7 404.9,203.7 406.8,203.0 408.7,212.5 410.6,215.4 412.5,217.8 414.3,207.1 416.2,186.3 418.1,169.3 420.0,181.8 421.7,187.5 423.5,187.4 425.2,185.4 427.0,194.2 428.7,191.0 430.5,198.7 432.2,194.5 434.0,190.5 435.7,186.7 437.4,186.3 439.2,176.9 440.9,178.4 442.7,180.4 444.4,186.0 446.2,188.6 447.9,189.5 449.7,194.0 451.4,195.3 453.1,190.9 454.9,194.1 456.6,188.0 458.4,184.9 460.1,185.4 461.9,181.8 463.6,184.4 465.4,191.9 467.1,192.0 468.9,193.5 470.6,196.0 472.3,198.7 474.1,198.5 475.8,192.8 477.6,186.5 479.3,183.9 481.1,187.1 482.8,183.5 484.6,186.6 486.3,184.4 488.0,189.8 489.8,188.8 491.5,187.0 493.3,191.9 495.1,192.8 496.9,189.7 498.8,192.1 500.6,185.0 502.4,190.5 504.3,193.8 506.1,184.7 507.9,187.9 509.8,188.0 511.7,188.6 513.5,187.2 515.4,188.3 517.3,188.7 519.1,187.5 521.0,188.3 522.9,186.8 524.7,185.5 526.6,186.1 528.4,189.4 530.3,186.8 532.2,188.1 534.0,186.2 535.9,186.7 537.8,186.9 539.7,186.3 541.6,186.9 543.4,184.2 545.3,184.3 547.2,184.5 549.1,180.7 551.0,180.7 552.9,183.0 554.8,180.1 556.7,178.7 558.6,180.1 560.5,178.3 562.3,176.9 564.2,176.5 566.1,173.4 568.0,174.1 569.9,174.8 571.8,173.3 573.6,174.7 575.4,172.5 577.2,171.5 579.0,172.4 580.8,171.4 582.6,172.7 584.4,173.2 586.2,172.0 588.2,172.6 590.1,177.2 592.1,175.9 594.0,177.8 596.0,181.8 598.0,181.1 599.9,182.5 601.9,180.3 603.9,183.1 605.8,183.7 607.8,182.9 609.8,184.0 611.7,184.7 613.7,185.2 615.8,184.3 617.9,184.8 620.0,187.9 621.8,189.4 623.6,184.6 625.5,186.0 627.3,181.8 629.1,182.1 631.3,174.1 633.6,166.9 635.8,155.6 638.0,152.0 640.1,150.9 642.2,145.9 643.9,153.7 645.5,155.5 647.2,161.1 648.7,167.4 650.3,169.9 652.9,152.0 655.3,143.9 657.6,140.2 659.1,133.4 660.5,134.4 662.8,140.8 665.0,142.9 666.5,129.3 668.1,124.9 670.3,125.8 672.6,131.0 674.1,120.0 675.7,113.1 677.9,107.4 680.2,103.9 682.3,91.9 684.3,89.0 686.1,89.3 687.8,82.3 689.6,76.9 691.3,73.6 693.1,68.6 694.9,69.9 696.6,68.1 699.0,67.4 701.4,75.2 703.3,75.3 705.3,73.5 707.0,70.2 708.8,76.5 710.5,77.5 712.5,82.2 714.4,83.2 716.4,82.2 718.4,79.6 904.2,59.6" stroke-width="1.35" stroke="#000"/>
<polyline points="119.0,191.9 149.0,191.9 150.9,212.9 152.8,188.2 154.7,184.8 156.6,178.4 158.5,179.4 160.3,191.6 162.2,169.7 164.1,164.5 166.0,171.8 167.9,174.8 169.8,191.9 171.6,191.1 173.5,185.6 175.4,207.5 177.3,208.7 179.2,211.7 181.1,205.1 182.9,213.5 184.8,209.4 186.7,197.5 188.6,191.9 190.5,182.8 192.4,188.2 194.2,180.6 196.1,157.9 198.0,160.8 199.9,151.3 201.8,153.9 203.6,142.8 205.5,139.7 207.4,165.1 209.3,173.6 211.2,173.8 213.1,151.5 214.9,166.1 216.8,176.0 218.7,174.8 220.6,180.6 222.5,204.1 224.4,178.8 226.2,197.9 228.1,197.5 230.0,182.6 231.9,186.2 233.8,163.4 235.7,166.2 237.5,164.8 239.4,173.7 241.3,170.5 243.2,174.0 245.1,170.8 247.0,182.2 248.8,195.9 250.7,191.4 252.6,193.9 254.5,188.5 256.4,170.4 258.3,158.9 260.1,158.4 262.0,163.8 263.9,165.8 265.8,170.0 267.7,170.9 269.5,187.2 271.4,182.9 273.3,173.9 275.2,169.1 277.1,173.5 279.0,168.1 280.8,180.7 282.7,179.1 284.6,185.7 286.5,181.2 288.4,189.6 290.3,180.7 292.1,197.3 294.0,208.9 295.9,193.5 297.8,178.0 299.7,162.9 301.6,166.8 303.4,171.0 305.3,169.9 307.2,185.9 309.1,201.3 311.0,203.3 312.9,201.9 314.7,191.9 316.6,206.2 318.5,204.9 320.4,209.2 322.3,211.8 324.2,202.5 326.0,185.6 327.9,182.8 329.8,164.2 331.7,149.5 333.6,145.2 335.5,153.0 337.3,147.0 339.2,146.4 341.1,136.6 343.0,134.8 344.9,132.5 346.7,123.8 348.6,131.3 350.5,117.4 352.4,104.1 354.3,106.9 356.2,100.5 358.0,103.9 359.9,113.6 361.8,120.6 363.7,116.1 365.6,119.6 367.5,137.3 369.3,173.5 371.2,163.7 373.1,150.8 375.0,142.1 376.9,131.4 378.8,146.7 380.6,140.3 382.5,139.2 384.4,172.8 386.3,182.4 388.2,177.0 390.1,178.7 391.9,157.5 393.8,171.6 395.6,178.9 397.3,178.9 399.1,187.2 400.8,192.3 402.5,192.3 404.3,195.3 406.0,188.7 407.8,188.1 409.5,185.1 411.3,186.3 413.0,178.9 414.8,178.4 416.5,183.4 418.2,188.7 420.0,196.7 421.7,195.4 423.5,204.4 425.2,205.5 427.0,201.1 428.7,199.8 430.5,195.0 432.2,196.8 434.0,186.8 435.7,185.2 437.4,191.0 439.2,188.3 440.9,197.2 442.7,197.2 444.4,203.0 446.2,202.1 447.9,202.0 449.7,197.7 451.4,196.6 453.1,188.4 454.9,188.1 456.6,185.2 458.4,183.2 460.1,185.0 461.9,187.1 463.6,191.0 465.4,196.0 467.1,195.3 469.0,194.1 470.8,194.0 472.7,194.8 474.6,195.4 476.5,186.1 478.3,186.7 480.2,186.9 482.1,183.0 483.9,192.7 485.8,192.5 487.7,190.4 489.5,191.5 491.4,194.3 493.3,193.6 495.1,189.8 496.9,191.1 498.8,194.0 500.6,186.2 502.4,186.4 504.3,185.0 506.1,190.5 507.9,188.6 509.8,186.3 511.7,190.6 513.5,188.2 515.4,189.0 517.3,187.3 519.1,187.3 521.0,190.1 522.9,189.7 524.7,186.1 526.6,188.0 528.5,189.9 530.3,186.5 532.2,185.4 534.1,187.2 535.9,186.9 537.8,186.4 539.7,188.8 541.5,187.2 543.4,185.5 545.3,187.2 547.1,186.0 549.0,187.8 550.9,186.9 552.8,187.6 554.7,187.1 556.6,185.7 558.5,184.1 560.4,186.5 562.3,183.2 564.2,187.0 566.1,185.9 568.0,184.5 569.9,184.6 571.8,184.2 573.6,182.8 575.5,180.5 577.3,179.8 579.1,182.7 581.0,181.6 582.8,180.1 584.6,179.2 586.5,176.4 588.3,179.6 590.1,176.7 592.0,178.7 593.9,177.2 595.7,179.7 597.6,179.2 599.5,177.7 601.3,179.2 603.2,181.1 605.1,182.1 606.9,183.3 608.8,182.5 610.7,185.7 612.6,185.9 614.4,188.1 616.3,188.6 618.2,186.6 620.0,190.9 621.9,187.4 623.8,188.5 625.6,187.6 627.5,188.8 629.4,190.3 631.1,190.1 632.9,188.9 634.6,188.2 636.4,189.2 638.1,187.9 639.8,186.9 641.6,182.9 643.3,179.3 645.1,175.0 646.8,172.0 648.6,172.1 650.3,164.9 652.3,162.0 654.2,168.2 656.2,162.9 658.2,149.6 660.1,149.0 662.1,154.7 664.1,143.3 666.0,137.8 668.0,141.9 669.9,142.9 671.9,135.5 673.9,124.2 675.8,116.8 677.8,110.7 680.0,107.3 682.2,99.8 684.3,90.4 686.7,94.3 689.1,100.5 691.3,104.1 693.5,107.3 695.5,102.2 697.5,95.5 699.5,96.5 701.5,101.0 703.5,103.4 705.5,107.3 707.8,110.5 710.0,110.0 904.2,90.4" stroke-width="1.35" stroke="#000"/>
<polyline points="119.0,225.8 148.5,225.8 150.4,228.0 152.3,227.1 154.2,223.0 156.1,219.9 158.0,200.9 159.9,183.4 161.8,184.0 163.7,192.3 165.5,191.8 167.4,175.8 169.3,162.2 171.2,162.1 173.1,153.3 175.0,149.5 176.9,132.7 178.8,120.8 180.7,137.3 182.5,155.4 184.4,182.8 186.3,181.7 188.2,184.2 190.1,171.6 192.0,184.9 193.9,200.8 195.8,204.8 197.7,200.4 199.5,191.3 201.4,205.2 203.3,202.7 205.2,221.2 207.1,227.7 209.0,236.8 210.9,216.1 212.8,204.6 214.7,184.0 216.5,202.7 218.4,189.5 220.3,190.3 222.2,191.2 224.1,193.2 226.0,194.9 227.9,219.5 229.8,219.7 231.7,228.4 233.5,221.3 235.4,212.8 237.3,214.1 239.2,215.2 241.1,210.0 243.0,221.0 244.9,200.2 246.8,193.1 248.7,196.9 250.5,203.4 252.4,192.2 254.3,191.4 256.2,174.3 258.1,167.6 260.0,165.2 261.9,161.5 263.8,149.1 265.6,147.2 267.5,140.7 269.4,143.8 271.3,154.8 273.2,154.0 275.1,162.3 277.0,181.7 278.9,176.1 280.8,154.7 282.6,145.2 284.5,149.7 286.4,142.6 288.3,157.9 290.2,163.5 292.1,182.1 294.0,187.8 295.9,174.8 297.8,188.7 299.6,195.6 301.5,224.0 303.4,232.8 305.3,231.1 307.2,204.7 309.1,207.2 311.0,175.9 312.9,182.9 314.8,190.3 316.6,178.8 318.5,161.8 320.4,164.4 322.3,180.9 324.2,158.2 326.1,165.7 328.0,167.5 329.9,175.5 331.8,169.2 333.6,184.6 335.5,176.0 337.4,175.6 339.3,176.8 341.2,183.8 343.1,191.3 345.0,197.9 346.9,191.5 348.8,175.1 350.6,182.7 352.5,200.1 354.4,205.4 356.3,200.8 358.2,201.4 360.1,202.6 362.0,208.9 363.9,199.1 365.8,198.5 367.6,195.3 369.4,195.9 371.1,202.5 372.9,202.3 374.6,211.7 376.4,214.7 378.1,219.0 379.9,215.9 381.6,209.8 383.4,207.0 385.1,207.3 386.8,199.9 388.6,198.7 390.3,203.8 392.1,206.5 393.8,207.4 395.6,211.3 397.3,213.8 399.1,215.6 400.8,210.7 402.5,205.5 404.3,204.5 406.0,199.1 407.8,195.3 409.5,191.9 411.3,199.6 413.0,196.2 414.8,205.3 416.5,205.9 418.2,207.5 420.0,208.9 421.9,207.0 423.7,205.3 425.6,204.6 427.5,194.7 429.3,200.1 431.2,189.5 433.1,191.9 435.0,198.5 437.0,193.2 439.0,193.8 440.9,201.8 442.9,203.3 444.9,204.3 446.8,207.2 448.8,205.5 450.7,202.4 452.7,201.9 454.7,205.3 456.6,197.3 458.6,194.8 460.6,196.0 462.5,192.1 464.5,191.9 466.3,197.3 468.2,192.9 470.0,190.2 471.8,198.7 473.6,193.6 475.5,199.2 477.3,198.6 479.1,199.4 481.0,197.9 482.8,197.0 484.7,195.2 486.7,196.6 488.6,192.6 490.5,194.3 492.5,194.1 494.4,193.7 496.3,196.2 498.3,191.2 500.2,192.3 502.1,194.0 504.1,194.8 506.0,190.2 507.9,190.9 509.8,191.2 511.7,189.8 513.5,190.3 515.4,191.5 517.3,190.0 519.1,190.8 521.0,189.3 522.9,190.8 524.7,190.2 526.6,190.5 528.5,191.0 530.3,190.8 532.2,192.2 534.1,190.5 535.9,190.5 537.8,191.2 539.7,189.5 541.5,192.3 543.4,191.8 545.3,189.3 547.1,192.1 549.0,191.7 550.9,189.9 552.8,189.8 554.6,189.6 556.5,190.7 558.4,190.6 560.3,191.2 562.2,189.7 564.1,189.3 566.0,189.7 567.9,187.0 569.8,188.8 571.7,189.9 573.5,188.9 575.4,185.5 577.3,187.0 579.2,188.2 581.1,189.4 583.0,187.5 584.9,186.9 586.8,189.1 588.6,187.5 590.5,185.6 592.4,187.8 594.2,188.3 596.1,186.2 598.0,188.9 599.8,186.1 601.7,188.4 603.6,186.5 605.5,187.9 607.3,189.5 609.2,187.5 611.1,189.2 613.0,186.9 614.9,186.8 616.8,186.8 618.7,187.6 620.6,187.5 622.5,190.1 624.4,188.7 626.3,187.5 628.2,186.1 630.1,186.3 632.0,186.9 633.9,187.6 635.8,186.4 637.8,186.4 639.7,185.0 641.6,184.1 643.5,182.7 645.4,184.0 647.4,180.9 649.3,181.1 651.1,180.9 652.8,178.3 654.6,169.4 656.4,174.2 658.2,165.9 660.2,172.5 662.2,169.8 664.2,172.0 666.2,175.0 668.2,180.6 670.2,181.1 672.0,173.4 673.9,157.5 675.7,152.0 677.9,147.3 680.2,149.0 682.3,157.0 684.3,158.1 685.9,164.0 687.5,169.9 689.1,188.3 690.6,211.9 692.5,212.1 694.3,205.5 696.1,203.9 698.0,197.0 699.9,188.5 701.7,188.2 703.6,184.2 705.5,176.0 707.8,176.0 710.0,187.9 712.0,197.9 714.0,198.8 716.0,200.1 718.2,192.6 720.5,182.1 722.5,185.8 724.5,188.4 726.5,194.0 728.8,196.9 731.2,187.9 732.5,211.9 734.7,211.3 737.0,206.2 739.3,219.8 741.7,235.9 743.9,224.4 746.1,206.2 748.1,204.4 750.1,190.2 752.1,190.9 754.1,197.7 756.1,193.3 758.2,200.1 760.4,208.7 762.6,215.0 764.8,223.0 767.1,229.9 768.6,237.6 770.2,239.0 772.1,229.7 774.0,224.5 776.0,215.0 777.5,227.4 779.1,235.9 781.1,227.0 783.1,226.4 785.1,218.0 787.3,213.0 789.6,211.9 791.8,202.5 794.0,200.1 796.0,192.9 798.0,183.8 800.0,182.1 802.0,184.1 804.0,199.4 806.0,205.8 808.0,213.2 810.0,207.2 811.9,218.7 813.9,215.6 815.9,203.8 817.9,202.7 819.9,198.0 821.8,207.9 823.8,204.8 825.7,209.9 827.6,210.7 829.6,213.8 831.6,215.2 833.5,215.6 835.5,213.3 837.5,209.3 839.4,198.2 841.4,198.0 843.3,194.0 845.3,203.7 847.3,202.4 849.2,205.8 851.2,202.7 853.2,200.5 855.1,205.9 857.1,198.0 859.1,202.0 861.0,198.3 863.0,195.2 864.9,202.1 866.9,206.4 868.9,212.9 870.8,214.2 872.8,213.6 874.5,213.1 876.3,218.2 878.0,217.7 879.8,206.8 881.6,210.7 883.3,205.7 885.1,198.0 887.1,202.0 889.2,191.0 891.2,193.6 893.2,189.9 895.1,192.7 897.0,192.5 899.0,198.0 900.9,190.6 902.9,185.9 904.2,205.5" stroke-width="1.35" stroke="#000"/>
<polyline points="119.0,173.6 149.4,173.6 151.3,181.8 153.2,183.8 155.1,186.3 157.0,199.4 158.9,192.2 160.8,205.0 162.7,197.5 164.6,181.5 166.5,196.2 168.4,205.1 170.2,218.8 172.1,200.9 174.0,205.7 175.9,186.2 177.8,205.1 179.7,201.5 181.6,212.6 183.5,201.1 185.4,197.9 187.3,191.0 189.2,192.6 191.0,188.3 192.9,191.9 194.8,175.6 196.7,178.3 198.6,184.4 200.5,199.7 202.4,203.4 204.3,196.5 206.2,197.3 208.1,198.8 210.0,207.0 211.8,196.4 213.7,188.4 215.6,189.3 217.5,165.4 219.4,170.0 221.3,147.0 223.2,161.8 225.1,196.9 227.0,221.3 228.9,189.5 230.8,184.4 232.6,188.9 234.5,202.6 236.4,206.2 238.3,202.0 240.2,176.1 242.1,159.8 244.0,173.0 245.9,179.1 247.8,157.0 249.7,165.2 251.6,178.0 253.5,169.7 255.3,171.0 257.2,169.8 259.1,182.8 261.0,192.1 262.9,181.3 264.8,185.0 266.7,189.6 268.6,197.8 270.5,179.7 272.4,184.6 274.3,169.8 276.1,177.8 278.0,176.9 279.9,165.7 281.8,161.9 283.7,173.7 285.6,165.8 287.5,173.2 289.4,159.2 291.3,141.1 293.2,128.1 295.1,134.6 296.9,146.7 298.8,138.0 300.7,145.0 302.6,157.0 304.5,160.2 306.4,162.5 308.3,163.0 310.2,151.2 312.1,157.7 314.0,153.9 315.9,145.3 317.7,156.2 319.6,131.0 321.5,136.2 323.4,118.6 325.3,134.8 327.2,152.7 329.1,147.7 331.0,165.8 332.9,180.1 334.8,174.0 336.7,156.7 338.5,154.9 340.4,136.2 342.3,149.5 344.2,161.0 346.1,160.1 348.0,165.5 349.9,172.9 351.8,160.3 353.7,145.0 355.6,157.6 357.5,150.2 359.3,156.0 361.2,170.5 363.1,153.7 365.0,164.3 366.9,168.1 368.8,166.9 370.7,150.2 372.6,153.7 374.5,164.5 376.4,162.5 378.3,151.2 380.1,148.6 382.0,153.5 383.9,163.9 385.8,170.3 387.7,159.6 389.6,166.8 391.5,153.8 393.4,152.3 395.3,141.9 397.2,148.5 399.1,149.6 400.9,145.1 402.8,140.3 404.7,152.0 406.5,134.9 408.4,139.0 410.3,125.9 412.1,129.3 414.0,127.0 415.9,129.0 417.8,127.9 419.7,130.0 435.4,127.8 451.1,125.6 466.8,123.6 482.5,121.6 498.2,119.6 513.9,117.8 529.6,116.0 545.3,114.2 561.0,112.6 576.7,111.0 592.4,109.4 608.1,107.9 623.8,106.5 639.5,105.1 655.2,103.8 670.9,102.5 686.6,101.3 702.4,100.1 718.1,98.9 733.8,97.8 749.5,96.7 765.2,95.7 780.9,94.7 796.6,93.7 812.3,92.8 828.0,91.9 843.7,91.1 859.4,90.3 875.1,89.5 890.8,88.7 904.2,88.1" stroke-width="1.35" stroke="#000"/>
<polyline points="119.0,210.0 148.3,210.0 150.1,219.4 152.0,227.2 153.9,224.1 155.8,225.6 157.7,217.4 159.6,211.0 161.4,215.4 163.3,233.8 165.2,243.7 167.1,231.2 169.0,220.0 170.9,219.7 172.7,212.8 174.6,196.3 176.5,190.0 178.4,202.5 180.3,204.4 182.2,209.9 184.0,212.8 185.9,207.9 187.8,208.5 189.7,206.7 191.6,195.1 193.5,182.4 195.3,157.4 197.2,164.2 199.1,163.0 201.0,177.3 202.9,184.8 204.8,201.5 206.6,165.0 208.5,176.0 210.4,168.1 212.3,158.8 214.2,129.4 216.1,123.6 217.9,136.5 219.8,138.2 221.7,149.6 223.6,160.3 225.5,173.4 227.4,168.5 229.2,177.2 231.1,172.0 233.0,165.7 234.9,179.5 236.8,187.4 238.7,186.9 240.5,192.3 242.4,183.4 244.3,202.7 246.2,191.6 248.1,176.2 250.0,181.7 251.8,209.3 253.7,199.4 255.6,181.8 257.5,163.5 259.4,128.7 261.3,115.8 263.2,128.8 265.0,154.2 266.9,161.0 268.8,170.8 270.7,185.7 272.6,186.2 274.5,189.4 276.3,166.7 278.2,180.0 280.1,205.7 282.0,218.2 283.9,218.1 285.8,229.3 287.6,208.3 289.5,193.2 291.4,184.9 293.3,200.4 295.2,206.9 297.1,194.1 298.9,167.7 300.8,164.7 302.7,149.7 304.6,144.2 306.5,149.2 308.4,137.9 310.2,126.5 312.1,138.2 314.0,158.8 315.9,166.0 317.8,145.0 319.7,139.9 321.5,136.4 323.4,133.0 325.3,128.6 327.2,132.1 329.1,147.3 331.0,165.1 332.8,170.4 334.7,168.0 336.6,154.9 338.5,170.8 340.4,144.5 342.3,148.1 344.1,152.6 346.0,141.5 347.9,144.5 349.8,144.7 351.7,136.5 353.6,149.6 355.4,171.5 357.3,158.2 359.2,165.1 361.1,159.6 363.0,143.3 364.9,163.5 366.7,164.0 368.6,151.4 370.5,155.4 372.4,155.0 374.3,159.5 376.2,166.9 378.0,146.4 379.9,130.0 381.8,131.3 383.7,133.3 385.6,127.5 387.5,130.7 389.3,124.5 391.2,138.4 393.1,137.4 395.0,131.5 396.9,140.0 398.8,144.7 400.6,149.3 402.5,159.4 404.4,167.5 406.3,171.1 408.2,159.9 410.1,169.2 411.9,161.3 413.8,162.0 415.7,152.9 417.6,134.7 419.5,122.0 421.4,117.0 423.2,107.1 425.1,120.0 427.0,123.1 428.9,119.4 430.8,125.1 432.7,133.6 434.5,122.2 436.4,139.6 438.3,141.2 440.2,144.0 442.1,140.5 443.9,135.0 445.8,123.7 447.7,128.5 449.5,125.2 451.4,119.2 453.3,117.0 455.2,122.0 457.1,117.0 458.9,119.0 474.6,116.5 490.3,114.0 506.1,111.6 521.8,109.3 537.5,107.1 553.2,105.0 568.9,103.0 584.6,101.1 600.3,99.3 616.0,97.5 631.7,95.8 647.4,94.1 663.1,92.6 678.8,91.1 694.5,89.6 710.2,88.2 725.9,86.9 741.6,85.6 757.3,84.4 773.0,83.2 788.7,82.1 804.4,81.0 820.1,80.0 835.8,79.0 851.5,78.0 867.2,77.1 882.9,76.2 898.7,75.4 904.2,75.1" stroke-width="1.35" stroke="#000"/>
<polyline points="119.0,222.8 148.1,222.8 150.0,224.5 151.9,221.3 153.8,221.3 155.7,219.3 157.6,205.6 159.5,197.2 161.4,200.1 163.2,224.3 165.1,226.5 167.0,228.5 168.9,243.8 170.8,236.4 172.7,220.6 174.6,206.5 176.4,195.1 178.3,213.0 180.2,217.5 182.1,207.8 184.0,208.4 185.9,218.8 187.8,202.5 189.6,183.2 191.5,153.2 193.4,161.7 195.3,188.1 197.2,175.7 199.1,180.3 201.0,183.5 202.8,181.5 204.7,186.2 206.6,194.6 208.5,198.2 210.4,191.1 212.3,188.3 214.2,172.6 216.0,182.6 217.9,185.3 219.8,180.4 221.7,177.0 223.6,163.6 225.5,164.4 227.4,158.0 229.2,166.2 231.1,177.4 233.0,168.3 234.9,166.1 236.8,165.8 238.7,166.0 240.6,159.5 242.4,166.7 244.3,142.1 246.2,160.7 248.1,170.6 250.0,176.3 251.9,163.9 253.8,189.2 255.6,187.0 257.5,168.8 259.4,157.2 261.3,156.7 263.2,150.9 265.1,148.8 267.0,148.9 268.8,156.9 270.7,167.4 272.6,178.8 274.5,166.1 276.4,179.5 278.3,184.2 280.2,196.1 282.0,181.4 283.9,175.9 285.8,178.6 287.7,189.5 289.6,181.1 291.5,173.2 293.4,170.7 295.3,163.9 297.1,162.3 299.0,158.8 300.9,168.0 302.8,172.9 304.7,177.0 306.6,172.3 308.5,144.8 310.3,158.3 312.2,147.9 314.1,148.2 316.0,144.7 317.9,140.6 319.8,143.0 321.7,154.9 323.5,149.9 325.4,149.6 327.3,140.4 329.2,164.6 331.1,166.7 333.0,161.8 334.9,156.9 336.7,150.8 338.6,147.2 340.5,137.7 342.4,132.3 344.3,109.8 346.2,130.5 348.1,145.1 349.9,154.8 351.8,155.3 353.7,159.1 355.6,163.9 357.5,166.1 359.4,154.0 361.3,150.1 363.1,151.1 365.0,161.5 366.9,157.4 368.8,162.6 370.6,144.6 372.5,145.6 374.4,132.9 376.2,146.7 378.1,136.1 380.0,132.6 381.9,138.7 383.8,133.7 385.7,136.6 401.4,134.9 417.1,133.2 432.8,131.6 448.5,130.0 464.2,128.5 479.9,127.0 495.6,125.5 511.3,124.2 527.0,122.8 542.7,121.5 558.4,120.3 574.1,119.1 589.8,117.9 605.5,116.7 621.2,115.6 636.9,114.6 652.6,113.5 668.3,112.5 684.0,111.6 699.7,110.6 715.4,109.7 731.1,108.8 746.8,108.0 762.5,107.2 778.3,106.4 794.0,105.6 809.7,104.8 825.4,104.1 841.1,103.4 856.8,102.7 872.5,102.1 888.2,101.4 903.9,100.8 904.2,100.8" stroke-width="1.35" stroke="#000"/>
<polyline points="119.0,223.0 150.3,223.0 152.2,208.7 154.0,203.0 155.9,193.5 157.8,191.5 159.7,188.7 161.5,199.9 163.4,209.5 165.3,217.1 167.2,226.1 169.1,211.6 170.9,189.7 172.8,193.1 174.7,178.9 176.6,199.7 178.5,201.0 180.3,197.2 182.2,197.6 184.1,186.5 186.0,176.6 187.9,166.5 189.7,172.0 191.6,143.7 193.5,148.4 195.4,146.6 197.3,151.0 199.1,143.9 201.0,147.8 202.9,160.0 204.8,153.5 206.7,144.7 208.5,144.4 210.4,156.9 212.3,150.9 214.2,156.3 216.1,164.5 217.9,171.6 219.8,184.3 221.7,206.9 223.6,199.9 225.5,198.0 227.3,215.4 229.2,201.9 231.1,195.1 233.0,195.6 234.9,187.0 236.7,196.2 238.6,202.3 240.5,209.1 242.4,215.4 244.3,212.2 246.1,217.7 248.0,205.6 249.9,193.6 251.8,180.2 253.7,187.4 255.5,188.2 257.4,181.0 259.3,189.5 261.2,177.8 263.1,171.4 264.9,144.7 266.8,153.7 268.7,143.8 270.6,139.1 272.4,153.9 274.3,172.1 276.2,169.8 278.1,162.4 280.0,165.4 281.8,183.5 283.7,171.1 285.6,163.7 287.5,157.8 289.4,142.1 291.2,118.8 293.1,119.2 295.0,114.8 296.9,114.0 298.8,116.9 300.6,109.6 302.5,112.0 304.4,110.5 306.3,94.3 308.2,78.9 310.0,112.1 311.9,99.0 313.8,104.6 315.7,119.9 317.6,126.1 319.4,159.9 321.3,168.9 323.2,143.5 325.1,137.4 327.0,142.2 328.8,125.5 330.7,144.6 332.6,141.3 334.5,157.5 336.4,150.1 338.2,150.9 340.1,138.9 342.0,151.8 343.9,150.1 345.8,136.7 347.6,127.6 349.5,145.3 351.4,144.9 353.3,145.9 355.2,154.8 357.0,155.7 358.9,167.5 360.8,175.8 362.7,174.8 364.6,171.3 366.4,176.5 368.3,170.0 370.2,173.2 372.1,152.5 374.0,170.0 375.8,155.2 377.7,150.9 379.6,175.8 381.5,167.7 383.4,164.9 385.2,163.4 387.1,164.7 389.0,162.4 390.8,154.4 392.7,149.6 394.6,151.5 396.4,153.0 398.3,155.5 400.2,153.4 402.1,155.6 404.0,153.0 419.7,151.4 435.4,149.8 451.1,148.3 466.8,146.8 482.5,145.4 498.2,144.1 513.9,142.8 529.6,141.6 545.3,140.5 561.0,139.3 576.7,138.3 592.4,137.2 608.1,136.2 623.8,135.3 639.5,134.4 655.2,133.5 670.9,132.7 686.6,131.9 702.4,131.1 718.1,130.4 733.8,129.7 749.5,129.0 765.2,128.3 780.9,127.7 796.6,127.1 812.3,126.6 828.0,126.0 843.7,125.5 859.4,125.0 875.1,124.5 890.8,124.0 904.2,123.7" stroke-width="1.35" stroke="#000"/>
</g>
<rect x="119.00" y="0.60" width="785.20" height="287.60" fill="none" stroke="#000" stroke-width="2.0"/>
<line x1="249.87" y1="288.20" x2="249.87" y2="279.20" stroke="#000" stroke-width="2.0"/>
<line x1="249.87" y1="0.60" x2="249.87" y2="9.60" stroke="#000" stroke-width="2.0"/>
<line x1="380.73" y1="288.20" x2="380.73" y2="279.20" stroke="#000" stroke-width="2.0"/>
<line x1="380.73" y1="0.60" x2="380.73" y2="9.60" stroke="#000" stroke-width="2.0"/>
<line x1="511.60" y1="288.20" x2="511.60" y2="279.20" stroke="#000" stroke-width="2.0"/>
<line x1="511.60" y1="0.60" x2="511.60" y2="9.60" stroke="#000" stroke-width="2.0"/>
<line x1="642.47" y1="288.20" x2="642.47" y2="279.20" stroke="#000" stroke-width="2.0"/>
<line x1="642.47" y1="0.60" x2="642.47" y2="9.60" stroke="#000" stroke-width="2.0"/>
<line x1="773.33" y1="288.20" x2="773.33" y2="279.20" stroke="#000" stroke-width="2.0"/>
<line x1="773.33" y1="0.60" x2="773.33" y2="9.60" stroke="#000" stroke-width="2.0"/>
<line x1="145.17" y1="288.20" x2="145.17" y2="282.00" stroke="#000" stroke-width="2.0"/>
<line x1="145.17" y1="0.60" x2="145.17" y2="6.80" stroke="#000" stroke-width="2.0"/>
<line x1="171.35" y1="288.20" x2="171.35" y2="282.00" stroke="#000" stroke-width="2.0"/>
<line x1="171.35" y1="0.60" x2="171.35" y2="6.80" stroke="#000" stroke-width="2.0"/>
<line x1="197.52" y1="288.20" x2="197.52" y2="282.00" stroke="#000" stroke-width="2.0"/>
<line x1="197.52" y1="0.60" x2="197.52" y2="6.80" stroke="#000" stroke-width="2.0"/>
<line x1="223.69" y1="288.20" x2="223.69" y2="282.00" stroke="#000" stroke-width="2.0"/>
<line x1="223.69" y1="0.60" x2="223.69" y2="6.80" stroke="#000" stroke-width="2.0"/>
<line x1="276.04" y1="288.20" x2="276.04" y2="282.00" stroke="#000" stroke-width="2.0"/>
<line x1="276.04" y1="0.60" x2="276.04" y2="6.80" stroke="#000" stroke-width="2.0"/>
<line x1="302.21" y1="288.20" x2="302.21" y2="282.00" stroke="#000" stroke-width="2.0"/>
<line x1="302.21" y1="0.60" x2="302.21" y2="6.80" stroke="#000" stroke-width="2.0"/>
<line x1="328.39" y1="288.20" x2="328.39" y2="282.00" stroke="#000" stroke-width="2.0"/>
<line x1="328.39" y1="0.60" x2="328.39" y2="6.80" stroke="#000" stroke-width="2.0"/>
<line x1="354.56" y1="288.20" x2="354.56" y2="282.00" stroke="#000" stroke-width="2.0"/>
<line x1="354.56" y1="0.60" x2="354.56" y2="6.80" stroke="#000" stroke-width="2.0"/>
<line x1="406.91" y1="288.20" x2="406.91" y2="282.00" stroke="#000" stroke-width="2.0"/>
<line x1="406.91" y1="0.60" x2="406.91" y2="6.80" stroke="#000" stroke-width="2.0"/>
<line x1="433.08" y1="288.20" x2="433.08" y2="282.00" stroke="#000" stroke-width="2.0"/>
<line x1="433.08" y1="0.60" x2="433.08" y2="6.80" stroke="#000" stroke-width="2.0"/>
<line x1="459.25" y1="288.20" x2="459.25" y2="282.00" stroke="#000" stroke-width="2.0"/>
<line x1="459.25" y1="0.60" x2="459.25" y2="6.80" stroke="#000" stroke-width="2.0"/>
<line x1="485.43" y1="288.20" x2="485.43" y2="282.00" stroke="#000" stroke-width="2.0"/>
<line x1="485.43" y1="0.60" x2="485.43" y2="6.80" stroke="#000" stroke-width="2.0"/>
<line x1="537.77" y1="288.20" x2="537.77" y2="282.00" stroke="#000" stroke-width="2.0"/>
<line x1="537.77" y1="0.60" x2="537.77" y2="6.80" stroke="#000" stroke-width="2.0"/>
<line x1="563.95" y1="288.20" x2="563.95" y2="282.00" stroke="#000" stroke-width="2.0"/>
<line x1="563.95" y1="0.60" x2="563.95" y2="6.80" stroke="#000" stroke-width="2.0"/>
<line x1="590.12" y1="288.20" x2="590.12" y2="282.00" stroke="#000" stroke-width="2.0"/>
<line x1="590.12" y1="0.60" x2="590.12" y2="6.80" stroke="#000" stroke-width="2.0"/>
<line x1="616.29" y1="288.20" x2="616.29" y2="282.00" stroke="#000" stroke-width="2.0"/>
<line x1="616.29" y1="0.60" x2="616.29" y2="6.80" stroke="#000" stroke-width="2.0"/>
<line x1="668.64" y1="288.20" x2="668.64" y2="282.00" stroke="#000" stroke-width="2.0"/>
<line x1="668.64" y1="0.60" x2="668.64" y2="6.80" stroke="#000" stroke-width="2.0"/>
<line x1="694.81" y1="288.20" x2="694.81" y2="282.00" stroke="#000" stroke-width="2.0"/>
<line x1="694.81" y1="0.60" x2="694.81" y2="6.80" stroke="#000" stroke-width="2.0"/>
<line x1="720.99" y1="288.20" x2="720.99" y2="282.00" stroke="#000" stroke-width="2.0"/>
<line x1="720.99" y1="0.60" x2="720.99" y2="6.80" stroke="#000" stroke-width="2.0"/>
<line x1="747.16" y1="288.20" x2="747.16" y2="282.00" stroke="#000" stroke-width="2.0"/>
<line x1="747.16" y1="0.60" x2="747.16" y2="6.80" stroke="#000" stroke-width="2.0"/>
<line x1="799.51" y1="288.20" x2="799.51" y2="282.00" stroke="#000" stroke-width="2.0"/>
<line x1="799.51" y1="0.60" x2="799.51" y2="6.80" stroke="#000" stroke-width="2.0"/>
<line x1="825.68" y1="288.20" x2="825.68" y2="282.00" stroke="#000" stroke-width="2.0"/>
<line x1="825.68" y1="0.60" x2="825.68" y2="6.80" stroke="#000" stroke-width="2.0"/>
<line x1="851.85" y1="288.20" x2="851.85" y2="282.00" stroke="#000" stroke-width="2.0"/>
<line x1="851.85" y1="0.60" x2="851.85" y2="6.80" stroke="#000" stroke-width="2.0"/>
<line x1="878.03" y1="288.20" x2="878.03" y2="282.00" stroke="#000" stroke-width="2.0"/>
<line x1="878.03" y1="0.60" x2="878.03" y2="6.80" stroke="#000" stroke-width="2.0"/>
<line x1="119.00" y1="269.80" x2="128.00" y2="269.80" stroke="#000" stroke-width="2.0"/>
<line x1="904.20" y1="269.80" x2="895.20" y2="269.80" stroke="#000" stroke-width="2.0"/>
<line x1="119.00" y1="202.10" x2="128.00" y2="202.10" stroke="#000" stroke-width="2.0"/>
<line x1="904.20" y1="202.10" x2="895.20" y2="202.10" stroke="#000" stroke-width="2.0"/>
<line x1="119.00" y1="134.40" x2="128.00" y2="134.40" stroke="#000" stroke-width="2.0"/>
<line x1="904.20" y1="134.40" x2="895.20" y2="134.40" stroke="#000" stroke-width="2.0"/>
<line x1="119.00" y1="66.70" x2="128.00" y2="66.70" stroke="#000" stroke-width="2.0"/>
<line x1="904.20" y1="66.70" x2="895.20" y2="66.70" stroke="#000" stroke-width="2.0"/>
<line x1="119.00" y1="286.73" x2="125.20" y2="286.73" stroke="#000" stroke-width="2.0"/>
<line x1="904.20" y1="286.73" x2="898.00" y2="286.73" stroke="#000" stroke-width="2.0"/>
<line x1="119.00" y1="252.88" x2="125.20" y2="252.88" stroke="#000" stroke-width="2.0"/>
<line x1="904.20" y1="252.88" x2="898.00" y2="252.88" stroke="#000" stroke-width="2.0"/>
<line x1="119.00" y1="235.95" x2="125.20" y2="235.95" stroke="#000" stroke-width="2.0"/>
<line x1="904.20" y1="235.95" x2="898.00" y2="235.95" stroke="#000" stroke-width="2.0"/>
<line x1="119.00" y1="219.03" x2="125.20" y2="219.03" stroke="#000" stroke-width="2.0"/>
<line x1="904.20" y1="219.03" x2="898.00" y2="219.03" stroke="#000" stroke-width="2.0"/>
<line x1="119.00" y1="185.17" x2="125.20" y2="185.17" stroke="#000" stroke-width="2.0"/>
<line x1="904.20" y1="185.17" x2="898.00" y2="185.17" stroke="#000" stroke-width="2.0"/>
<line x1="119.00" y1="168.25" x2="125.20" y2="168.25" stroke="#000" stroke-width="2.0"/>
<line x1="904.20" y1="168.25" x2="898.00" y2="168.25" stroke="#000" stroke-width="2.0"/>
<line x1="119.00" y1="151.32" x2="125.20" y2="151.32" stroke="#000" stroke-width="2.0"/>
<line x1="904.20" y1="151.32" x2="898.00" y2="151.32" stroke="#000" stroke-width="2.0"/>
<line x1="119.00" y1="117.47" x2="125.20" y2="117.47" stroke="#000" stroke-width="2.0"/>
<line x1="904.20" y1="117.47" x2="898.00" y2="117.47" stroke="#000" stroke-width="2.0"/>
<line x1="119.00" y1="100.55" x2="125.20" y2="100.55" stroke="#000" stroke-width="2.0"/>
<line x1="904.20" y1="100.55" x2="898.00" y2="100.55" stroke="#000" stroke-width="2.0"/>
<line x1="119.00" y1="83.62" x2="125.20" y2="83.62" stroke="#000" stroke-width="2.0"/>
<line x1="904.20" y1="83.62" x2="898.00" y2="83.62" stroke="#000" stroke-width="2.0"/>
<line x1="119.00" y1="49.77" x2="125.20" y2="49.77" stroke="#000" stroke-width="2.0"/>
<line x1="904.20" y1="49.77" x2="898.00" y2="49.77" stroke="#000" stroke-width="2.0"/>
<line x1="119.00" y1="32.85" x2="125.20" y2="32.85" stroke="#000" stroke-width="2.0"/>
<line x1="904.20" y1="32.85" x2="898.00" y2="32.85" stroke="#000" stroke-width="2.0"/>
<line x1="119.00" y1="15.92" x2="125.20" y2="15.92" stroke="#000" stroke-width="2.0"/>
<line x1="904.20" y1="15.92" x2="898.00" y2="15.92" stroke="#000" stroke-width="2.0"/>
<text x="119.00" y="306.30" text-anchor="middle" font-size="19.9" fill="#000" stroke="#000" stroke-width="0.45" font-family="'DejaVu Sans','Liberation Sans',sans-serif">0</text>
<text x="249.87" y="306.30" text-anchor="middle" font-size="19.9" fill="#000" stroke="#000" stroke-width="0.45" font-family="'DejaVu Sans','Liberation Sans',sans-serif">5</text>
<text x="380.73" y="306.30" text-anchor="middle" font-size="19.9" fill="#000" stroke="#000" stroke-width="0.45" font-family="'DejaVu Sans','Liberation Sans',sans-serif">10</text>
<text x="511.60" y="306.30" text-anchor="middle" font-size="19.9" fill="#000" stroke="#000" stroke-width="0.45" font-family="'DejaVu Sans','Liberation Sans',sans-serif">15</text>
<text x="642.47" y="306.30" text-anchor="middle" font-size="19.9" fill="#000" stroke="#000" stroke-width="0.45" font-family="'DejaVu Sans','Liberation Sans',sans-serif">20</text>
<text x="773.33" y="306.30" text-anchor="middle" font-size="19.9" fill="#000" stroke="#000" stroke-width="0.45" font-family="'DejaVu Sans','Liberation Sans',sans-serif">25</text>
<text x="904.20" y="306.30" text-anchor="middle" font-size="19.9" fill="#000" stroke="#000" stroke-width="0.45" font-family="'DejaVu Sans','Liberation Sans',sans-serif">30</text>
<text x="116.00" y="278.00" text-anchor="end" font-size="19.9" fill="#000" stroke="#000" stroke-width="0.45" font-family="'DejaVu Sans','Liberation Sans',sans-serif">−2</text>
<text x="116.00" y="210.30" text-anchor="end" font-size="19.9" fill="#000" stroke="#000" stroke-width="0.45" font-family="'DejaVu Sans','Liberation Sans',sans-serif">0</text>
<text x="116.00" y="142.60" text-anchor="end" font-size="19.9" fill="#000" stroke="#000" stroke-width="0.45" font-family="'DejaVu Sans','Liberation Sans',sans-serif">2</text>
<text x="116.00" y="74.90" text-anchor="end" font-size="19.9" fill="#000" stroke="#000" stroke-width="0.45" font-family="'DejaVu Sans','Liberation Sans',sans-serif">4</text>
<text x="511.60" y="329.50" text-anchor="middle" font-size="21.25" fill="#000" stroke="#000" stroke-width="0.45" font-family="'DejaVu Sans','Liberation Sans',sans-serif">Time (ms)</text>
<text x="80.00" y="144.40" text-anchor="middle" font-size="21.25" fill="#000" stroke="#000" stroke-width="0.45" font-family="'DejaVu Sans','Liberation Sans',sans-serif" transform="rotate(-90 80.00 144.40)">Velocity in z (m/s)</text>
<text x="19.00" y="25.60" text-anchor="start" font-size="23.5" fill="#000" stroke="#000" stroke-width="0.45" font-family="'Liberation Sans','DejaVu Sans',sans-serif" font-weight="bold">(a)</text>
<rect x="77.40" y="388.70" width="314.60" height="287.40" fill="none" stroke="#000" stroke-width="2.0"/>
<line x1="182.27" y1="676.10" x2="182.27" y2="667.10" stroke="#000" stroke-width="2.0"/>
<line x1="182.27" y1="388.70" x2="182.27" y2="397.70" stroke="#000" stroke-width="2.0"/>
<line x1="287.13" y1="676.10" x2="287.13" y2="667.10" stroke="#000" stroke-width="2.0"/>
<line x1="287.13" y1="388.70" x2="287.13" y2="397.70" stroke="#000" stroke-width="2.0"/>
<line x1="98.37" y1="676.10" x2="98.37" y2="669.90" stroke="#000" stroke-width="2.0"/>
<line x1="98.37" y1="388.70" x2="98.37" y2="394.90" stroke="#000" stroke-width="2.0"/>
<line x1="119.35" y1="676.10" x2="119.35" y2="669.90" stroke="#000" stroke-width="2.0"/>
<line x1="119.35" y1="388.70" x2="119.35" y2="394.90" stroke="#000" stroke-width="2.0"/>
<line x1="140.32" y1="676.10" x2="140.32" y2="669.90" stroke="#000" stroke-width="2.0"/>
<line x1="140.32" y1="388.70" x2="140.32" y2="394.90" stroke="#000" stroke-width="2.0"/>
<line x1="161.29" y1="676.10" x2="161.29" y2="669.90" stroke="#000" stroke-width="2.0"/>
<line x1="161.29" y1="388.70" x2="161.29" y2="394.90" stroke="#000" stroke-width="2.0"/>
<line x1="203.24" y1="676.10" x2="203.24" y2="669.90" stroke="#000" stroke-width="2.0"/>
<line x1="203.24" y1="388.70" x2="203.24" y2="394.90" stroke="#000" stroke-width="2.0"/>
<line x1="224.21" y1="676.10" x2="224.21" y2="669.90" stroke="#000" stroke-width="2.0"/>
<line x1="224.21" y1="388.70" x2="224.21" y2="394.90" stroke="#000" stroke-width="2.0"/>
<line x1="245.19" y1="676.10" x2="245.19" y2="669.90" stroke="#000" stroke-width="2.0"/>
<line x1="245.19" y1="388.70" x2="245.19" y2="394.90" stroke="#000" stroke-width="2.0"/>
<line x1="266.16" y1="676.10" x2="266.16" y2="669.90" stroke="#000" stroke-width="2.0"/>
<line x1="266.16" y1="388.70" x2="266.16" y2="394.90" stroke="#000" stroke-width="2.0"/>
<line x1="308.11" y1="676.10" x2="308.11" y2="669.90" stroke="#000" stroke-width="2.0"/>
<line x1="308.11" y1="388.70" x2="308.11" y2="394.90" stroke="#000" stroke-width="2.0"/>
<line x1="329.08" y1="676.10" x2="329.08" y2="669.90" stroke="#000" stroke-width="2.0"/>
<line x1="329.08" y1="388.70" x2="329.08" y2="394.90" stroke="#000" stroke-width="2.0"/>
<line x1="350.05" y1="676.10" x2="350.05" y2="669.90" stroke="#000" stroke-width="2.0"/>
<line x1="350.05" y1="388.70" x2="350.05" y2="394.90" stroke="#000" stroke-width="2.0"/>
<line x1="371.03" y1="676.10" x2="371.03" y2="669.90" stroke="#000" stroke-width="2.0"/>
<line x1="371.03" y1="388.70" x2="371.03" y2="394.90" stroke="#000" stroke-width="2.0"/>
<line x1="77.40" y1="604.25" x2="86.40" y2="604.25" stroke="#000" stroke-width="2.0"/>
<line x1="392.00" y1="604.25" x2="383.00" y2="604.25" stroke="#000" stroke-width="2.0"/>
<line x1="77.40" y1="532.40" x2="86.40" y2="532.40" stroke="#000" stroke-width="2.0"/>
<line x1="392.00" y1="532.40" x2="383.00" y2="532.40" stroke="#000" stroke-width="2.0"/>
<line x1="77.40" y1="460.55" x2="86.40" y2="460.55" stroke="#000" stroke-width="2.0"/>
<line x1="392.00" y1="460.55" x2="383.00" y2="460.55" stroke="#000" stroke-width="2.0"/>
<line x1="77.40" y1="661.73" x2="83.60" y2="661.73" stroke="#000" stroke-width="2.0"/>
<line x1="392.00" y1="661.73" x2="385.80" y2="661.73" stroke="#000" stroke-width="2.0"/>
<line x1="77.40" y1="647.36" x2="83.60" y2="647.36" stroke="#000" stroke-width="2.0"/>
<line x1="392.00" y1="647.36" x2="385.80" y2="647.36" stroke="#000" stroke-width="2.0"/>
<line x1="77.40" y1="632.99" x2="83.60" y2="632.99" stroke="#000" stroke-width="2.0"/>
<line x1="392.00" y1="632.99" x2="385.80" y2="632.99" stroke="#000" stroke-width="2.0"/>
<line x1="77.40" y1="618.62" x2="83.60" y2="618.62" stroke="#000" stroke-width="2.0"/>
<line x1="392.00" y1="618.62" x2="385.80" y2="618.62" stroke="#000" stroke-width="2.0"/>
<line x1="77.40" y1="589.88" x2="83.60" y2="589.88" stroke="#000" stroke-width="2.0"/>
<line x1="392.00" y1="589.88" x2="385.80" y2="589.88" stroke="#000" stroke-width="2.0"/>
<line x1="77.40" y1="575.51" x2="83.60" y2="575.51" stroke="#000" stroke-width="2.0"/>
<line x1="392.00" y1="575.51" x2="385.80" y2="575.51" stroke="#000" stroke-width="2.0"/>
<line x1="77.40" y1="561.14" x2="83.60" y2="561.14" stroke="#000" stroke-width="2.0"/>
<line x1="392.00" y1="561.14" x2="385.80" y2="561.14" stroke="#000" stroke-width="2.0"/>
<line x1="77.40" y1="546.77" x2="83.60" y2="546.77" stroke="#000" stroke-width="2.0"/>
<line x1="392.00" y1="546.77" x2="385.80" y2="546.77" stroke="#000" stroke-width="2.0"/>
<line x1="77.40" y1="518.03" x2="83.60" y2="518.03" stroke="#000" stroke-width="2.0"/>
<line x1="392.00" y1="518.03" x2="385.80" y2="518.03" stroke="#000" stroke-width="2.0"/>
<line x1="77.40" y1="503.66" x2="83.60" y2="503.66" stroke="#000" stroke-width="2.0"/>
<line x1="392.00" y1="503.66" x2="385.80" y2="503.66" stroke="#000" stroke-width="2.0"/>
<line x1="77.40" y1="489.29" x2="83.60" y2="489.29" stroke="#000" stroke-width="2.0"/>
<line x1="392.00" y1="489.29" x2="385.80" y2="489.29" stroke="#000" stroke-width="2.0"/>
<line x1="77.40" y1="474.92" x2="83.60" y2="474.92" stroke="#000" stroke-width="2.0"/>
<line x1="392.00" y1="474.92" x2="385.80" y2="474.92" stroke="#000" stroke-width="2.0"/>
<line x1="77.40" y1="446.18" x2="83.60" y2="446.18" stroke="#000" stroke-width="2.0"/>
<line x1="392.00" y1="446.18" x2="385.80" y2="446.18" stroke="#000" stroke-width="2.0"/>
<line x1="77.40" y1="431.81" x2="83.60" y2="431.81" stroke="#000" stroke-width="2.0"/>
<line x1="392.00" y1="431.81" x2="385.80" y2="431.81" stroke="#000" stroke-width="2.0"/>
<line x1="77.40" y1="417.44" x2="83.60" y2="417.44" stroke="#000" stroke-width="2.0"/>
<line x1="392.00" y1="417.44" x2="385.80" y2="417.44" stroke="#000" stroke-width="2.0"/>
<line x1="77.40" y1="403.07" x2="83.60" y2="403.07" stroke="#000" stroke-width="2.0"/>
<line x1="392.00" y1="403.07" x2="385.80" y2="403.07" stroke="#000" stroke-width="2.0"/>
<text x="77.40" y="693.10" text-anchor="middle" font-size="19.9" fill="#000" stroke="#000" stroke-width="0.45" font-family="'DejaVu Sans','Liberation Sans',sans-serif">−4</text>
<text x="182.27" y="693.10" text-anchor="middle" font-size="19.9" fill="#000" stroke="#000" stroke-width="0.45" font-family="'DejaVu Sans','Liberation Sans',sans-serif">−3</text>
<text x="287.13" y="693.10" text-anchor="middle" font-size="19.9" fill="#000" stroke="#000" stroke-width="0.45" font-family="'DejaVu Sans','Liberation Sans',sans-serif">−2</text>
<text x="392.00" y="693.10" text-anchor="middle" font-size="19.9" fill="#000" stroke="#000" stroke-width="0.45" font-family="'DejaVu Sans','Liberation Sans',sans-serif">−1</text>
<text x="74.80" y="684.30" text-anchor="end" font-size="19.9" fill="#000" stroke="#000" stroke-width="0.45" font-family="'DejaVu Sans','Liberation Sans',sans-serif">50</text>
<text x="74.80" y="612.45" text-anchor="end" font-size="19.9" fill="#000" stroke="#000" stroke-width="0.45" font-family="'DejaVu Sans','Liberation Sans',sans-serif">100</text>
<text x="74.80" y="540.60" text-anchor="end" font-size="19.9" fill="#000" stroke="#000" stroke-width="0.45" font-family="'DejaVu Sans','Liberation Sans',sans-serif">150</text>
<text x="74.80" y="468.75" text-anchor="end" font-size="19.9" fill="#000" stroke="#000" stroke-width="0.45" font-family="'DejaVu Sans','Liberation Sans',sans-serif">200</text>
<text x="74.80" y="396.90" text-anchor="end" font-size="19.9" fill="#000" stroke="#000" stroke-width="0.45" font-family="'DejaVu Sans','Liberation Sans',sans-serif">250</text>
<text x="234.70" y="715.60" text-anchor="middle" font-size="21.25" fill="#000" stroke="#000" stroke-width="0.45" font-family="'DejaVu Sans','Liberation Sans',sans-serif">Beam detuning (Γ)</text>
<text x="31.40" y="532.40" text-anchor="middle" font-size="21.25" stroke="#000" stroke-width="0.45" font-family="'DejaVu Sans','Liberation Sans',sans-serif" transform="rotate(-90 31.40 532.40)">Beam power (<tspan font-style="italic">μ</tspan>W)</text>
<line x1="425.60" y1="676.10" x2="429.10" y2="676.10" stroke="#000" stroke-width="1.0"/>
<text x="430.60" y="683.10" text-anchor="start" font-size="19.9" fill="#000" stroke="#000" stroke-width="0.45" font-family="'DejaVu Sans','Liberation Sans',sans-serif">2</text>
<line x1="425.60" y1="604.25" x2="429.10" y2="604.25" stroke="#000" stroke-width="1.0"/>
<text x="430.60" y="611.25" text-anchor="start" font-size="19.9" fill="#000" stroke="#000" stroke-width="0.45" font-family="'DejaVu Sans','Liberation Sans',sans-serif">4</text>
<line x1="425.60" y1="532.40" x2="429.10" y2="532.40" stroke="#000" stroke-width="1.0"/>
<text x="430.60" y="539.40" text-anchor="start" font-size="19.9" fill="#000" stroke="#000" stroke-width="0.45" font-family="'DejaVu Sans','Liberation Sans',sans-serif">6</text>
<line x1="425.60" y1="460.55" x2="429.10" y2="460.55" stroke="#000" stroke-width="1.0"/>
<text x="430.60" y="467.55" text-anchor="start" font-size="19.9" fill="#000" stroke="#000" stroke-width="0.45" font-family="'DejaVu Sans','Liberation Sans',sans-serif">8</text>
<line x1="425.60" y1="388.70" x2="429.10" y2="388.70" stroke="#000" stroke-width="1.0"/>
<text x="430.60" y="395.70" text-anchor="start" font-size="19.9" fill="#000" stroke="#000" stroke-width="0.45" font-family="'DejaVu Sans','Liberation Sans',sans-serif">10</text>
<text x="475.00" y="533.40" text-anchor="middle" font-size="21.25" fill="#000" stroke="#000" stroke-width="0.45" font-family="'DejaVu Sans','Liberation Sans',sans-serif" transform="rotate(-90 475.00 533.40)">Mean Longitudinal velocity (m/s)</text>
<text x="-0.40" y="368.00" text-anchor="start" font-size="23.5" fill="#000" stroke="#000" stroke-width="0.45" font-family="'Liberation Sans','DejaVu Sans',sans-serif" font-weight="bold">(b)</text>
<rect x="573.30" y="392.40" width="314.10" height="287.00" fill="none" stroke="#000" stroke-width="2.0"/>
<line x1="678.00" y1="679.40" x2="678.00" y2="670.40" stroke="#000" stroke-width="2.0"/>
<line x1="678.00" y1="392.40" x2="678.00" y2="401.40" stroke="#000" stroke-width="2.0"/>
<line x1="782.70" y1="679.40" x2="782.70" y2="670.40" stroke="#000" stroke-width="2.0"/>
<line x1="782.70" y1="392.40" x2="782.70" y2="401.40" stroke="#000" stroke-width="2.0"/>
<line x1="594.24" y1="679.40" x2="594.24" y2="673.20" stroke="#000" stroke-width="2.0"/>
<line x1="594.24" y1="392.40" x2="594.24" y2="398.60" stroke="#000" stroke-width="2.0"/>
<line x1="615.18" y1="679.40" x2="615.18" y2="673.20" stroke="#000" stroke-width="2.0"/>
<line x1="615.18" y1="392.40" x2="615.18" y2="398.60" stroke="#000" stroke-width="2.0"/>
<line x1="636.12" y1="679.40" x2="636.12" y2="673.20" stroke="#000" stroke-width="2.0"/>
<line x1="636.12" y1="392.40" x2="636.12" y2="398.60" stroke="#000" stroke-width="2.0"/>
<line x1="657.06" y1="679.40" x2="657.06" y2="673.20" stroke="#000" stroke-width="2.0"/>
<line x1="657.06" y1="392.40" x2="657.06" y2="398.60" stroke="#000" stroke-width="2.0"/>
<line x1="698.94" y1="679.40" x2="698.94" y2="673.20" stroke="#000" stroke-width="2.0"/>
<line x1="698.94" y1="392.40" x2="698.94" y2="398.60" stroke="#000" stroke-width="2.0"/>
<line x1="719.88" y1="679.40" x2="719.88" y2="673.20" stroke="#000" stroke-width="2.0"/>
<line x1="719.88" y1="392.40" x2="719.88" y2="398.60" stroke="#000" stroke-width="2.0"/>
<line x1="740.82" y1="679.40" x2="740.82" y2="673.20" stroke="#000" stroke-width="2.0"/>
<line x1="740.82" y1="392.40" x2="740.82" y2="398.60" stroke="#000" stroke-width="2.0"/>
<line x1="761.76" y1="679.40" x2="761.76" y2="673.20" stroke="#000" stroke-width="2.0"/>
<line x1="761.76" y1="392.40" x2="761.76" y2="398.60" stroke="#000" stroke-width="2.0"/>
<line x1="803.64" y1="679.40" x2="803.64" y2="673.20" stroke="#000" stroke-width="2.0"/>
<line x1="803.64" y1="392.40" x2="803.64" y2="398.60" stroke="#000" stroke-width="2.0"/>
<line x1="824.58" y1="679.40" x2="824.58" y2="673.20" stroke="#000" stroke-width="2.0"/>
<line x1="824.58" y1="392.40" x2="824.58" y2="398.60" stroke="#000" stroke-width="2.0"/>
<line x1="845.52" y1="679.40" x2="845.52" y2="673.20" stroke="#000" stroke-width="2.0"/>
<line x1="845.52" y1="392.40" x2="845.52" y2="398.60" stroke="#000" stroke-width="2.0"/>
<line x1="866.46" y1="679.40" x2="866.46" y2="673.20" stroke="#000" stroke-width="2.0"/>
<line x1="866.46" y1="392.40" x2="866.46" y2="398.60" stroke="#000" stroke-width="2.0"/>
<line x1="573.30" y1="607.65" x2="582.30" y2="607.65" stroke="#000" stroke-width="2.0"/>
<line x1="887.40" y1="607.65" x2="878.40" y2="607.65" stroke="#000" stroke-width="2.0"/>
<line x1="573.30" y1="535.90" x2="582.30" y2="535.90" stroke="#000" stroke-width="2.0"/>
<line x1="887.40" y1="535.90" x2="878.40" y2="535.90" stroke="#000" stroke-width="2.0"/>
<line x1="573.30" y1="464.15" x2="582.30" y2="464.15" stroke="#000" stroke-width="2.0"/>
<line x1="887.40" y1="464.15" x2="878.40" y2="464.15" stroke="#000" stroke-width="2.0"/>
<line x1="573.30" y1="665.05" x2="579.50" y2="665.05" stroke="#000" stroke-width="2.0"/>
<line x1="887.40" y1="665.05" x2="881.20" y2="665.05" stroke="#000" stroke-width="2.0"/>
<line x1="573.30" y1="650.70" x2="579.50" y2="650.70" stroke="#000" stroke-width="2.0"/>
<line x1="887.40" y1="650.70" x2="881.20" y2="650.70" stroke="#000" stroke-width="2.0"/>
<line x1="573.30" y1="636.35" x2="579.50" y2="636.35" stroke="#000" stroke-width="2.0"/>
<line x1="887.40" y1="636.35" x2="881.20" y2="636.35" stroke="#000" stroke-width="2.0"/>
<line x1="573.30" y1="622.00" x2="579.50" y2="622.00" stroke="#000" stroke-width="2.0"/>
<line x1="887.40" y1="622.00" x2="881.20" y2="622.00" stroke="#000" stroke-width="2.0"/>
<line x1="573.30" y1="593.30" x2="579.50" y2="593.30" stroke="#000" stroke-width="2.0"/>
<line x1="887.40" y1="593.30" x2="881.20" y2="593.30" stroke="#000" stroke-width="2.0"/>
<line x1="573.30" y1="578.95" x2="579.50" y2="578.95" stroke="#000" stroke-width="2.0"/>
<line x1="887.40" y1="578.95" x2="881.20" y2="578.95" stroke="#000" stroke-width="2.0"/>
<line x1="573.30" y1="564.60" x2="579.50" y2="564.60" stroke="#000" stroke-width="2.0"/>
<line x1="887.40" y1="564.60" x2="881.20" y2="564.60" stroke="#000" stroke-width="2.0"/>
<line x1="573.30" y1="550.25" x2="579.50" y2="550.25" stroke="#000" stroke-width="2.0"/>
<line x1="887.40" y1="550.25" x2="881.20" y2="550.25" stroke="#000" stroke-width="2.0"/>
<line x1="573.30" y1="521.55" x2="579.50" y2="521.55" stroke="#000" stroke-width="2.0"/>
<line x1="887.40" y1="521.55" x2="881.20" y2="521.55" stroke="#000" stroke-width="2.0"/>
<line x1="573.30" y1="507.20" x2="579.50" y2="507.20" stroke="#000" stroke-width="2.0"/>
<line x1="887.40" y1="507.20" x2="881.20" y2="507.20" stroke="#000" stroke-width="2.0"/>
<line x1="573.30" y1="492.85" x2="579.50" y2="492.85" stroke="#000" stroke-width="2.0"/>
<line x1="887.40" y1="492.85" x2="881.20" y2="492.85" stroke="#000" stroke-width="2.0"/>
<line x1="573.30" y1="478.50" x2="579.50" y2="478.50" stroke="#000" stroke-width="2.0"/>
<line x1="887.40" y1="478.50" x2="881.20" y2="478.50" stroke="#000" stroke-width="2.0"/>
<line x1="573.30" y1="449.80" x2="579.50" y2="449.80" stroke="#000" stroke-width="2.0"/>
<line x1="887.40" y1="449.80" x2="881.20" y2="449.80" stroke="#000" stroke-width="2.0"/>
<line x1="573.30" y1="435.45" x2="579.50" y2="435.45" stroke="#000" stroke-width="2.0"/>
<line x1="887.40" y1="435.45" x2="881.20" y2="435.45" stroke="#000" stroke-width="2.0"/>
<line x1="573.30" y1="421.10" x2="579.50" y2="421.10" stroke="#000" stroke-width="2.0"/>
<line x1="887.40" y1="421.10" x2="881.20" y2="421.10" stroke="#000" stroke-width="2.0"/>
<line x1="573.30" y1="406.75" x2="579.50" y2="406.75" stroke="#000" stroke-width="2.0"/>
<line x1="887.40" y1="406.75" x2="881.20" y2="406.75" stroke="#000" stroke-width="2.0"/>
<text x="573.30" y="696.40" text-anchor="middle" font-size="19.9" fill="#000" stroke="#000" stroke-width="0.45" font-family="'DejaVu Sans','Liberation Sans',sans-serif">−4</text>
<text x="678.00" y="696.40" text-anchor="middle" font-size="19.9" fill="#000" stroke="#000" stroke-width="0.45" font-family="'DejaVu Sans','Liberation Sans',sans-serif">−3</text>
<text x="782.70" y="696.40" text-anchor="middle" font-size="19.9" fill="#000" stroke="#000" stroke-width="0.45" font-family="'DejaVu Sans','Liberation Sans',sans-serif">−2</text>
<text x="887.40" y="696.40" text-anchor="middle" font-size="19.9" fill="#000" stroke="#000" stroke-width="0.45" font-family="'DejaVu Sans','Liberation Sans',sans-serif">−1</text>
<text x="570.70" y="687.60" text-anchor="end" font-size="19.9" fill="#000" stroke="#000" stroke-width="0.45" font-family="'DejaVu Sans','Liberation Sans',sans-serif">50</text>
<text x="570.70" y="615.85" text-anchor="end" font-size="19.9" fill="#000" stroke="#000" stroke-width="0.45" font-family="'DejaVu Sans','Liberation Sans',sans-serif">100</text>
<text x="570.70" y="544.10" text-anchor="end" font-size="19.9" fill="#000" stroke="#000" stroke-width="0.45" font-family="'DejaVu Sans','Liberation Sans',sans-serif">150</text>
<text x="570.70" y="472.35" text-anchor="end" font-size="19.9" fill="#000" stroke="#000" stroke-width="0.45" font-family="'DejaVu Sans','Liberation Sans',sans-serif">200</text>
<text x="570.70" y="400.60" text-anchor="end" font-size="19.9" fill="#000" stroke="#000" stroke-width="0.45" font-family="'DejaVu Sans','Liberation Sans',sans-serif">250</text>
<text x="730.35" y="718.90" text-anchor="middle" font-size="21.25" fill="#000" stroke="#000" stroke-width="0.45" font-family="'DejaVu Sans','Liberation Sans',sans-serif">Beam detuning (Γ)</text>
<text x="527.30" y="535.90" text-anchor="middle" font-size="21.25" stroke="#000" stroke-width="0.45" font-family="'DejaVu Sans','Liberation Sans',sans-serif" transform="rotate(-90 527.30 535.90)">Beam power (<tspan font-style="italic">μ</tspan>W)</text>
<line x1="921.20" y1="679.40" x2="924.70" y2="679.40" stroke="#000" stroke-width="1.0"/>
<text x="926.20" y="686.40" text-anchor="start" font-size="19.9" fill="#000" stroke="#000" stroke-width="0.45" font-family="'DejaVu Sans','Liberation Sans',sans-serif">4</text>
<line x1="921.20" y1="607.65" x2="924.70" y2="607.65" stroke="#000" stroke-width="1.0"/>
<text x="926.20" y="614.65" text-anchor="start" font-size="19.9" fill="#000" stroke="#000" stroke-width="0.45" font-family="'DejaVu Sans','Liberation Sans',sans-serif">6</text>
<line x1="921.20" y1="535.90" x2="924.70" y2="535.90" stroke="#000" stroke-width="1.0"/>
<text x="926.20" y="542.90" text-anchor="start" font-size="19.9" fill="#000" stroke="#000" stroke-width="0.45" font-family="'DejaVu Sans','Liberation Sans',sans-serif">8</text>
<line x1="921.20" y1="464.15" x2="924.70" y2="464.15" stroke="#000" stroke-width="1.0"/>
<text x="926.20" y="471.15" text-anchor="start" font-size="19.9" fill="#000" stroke="#000" stroke-width="0.45" font-family="'DejaVu Sans','Liberation Sans',sans-serif">10</text>
<line x1="921.20" y1="392.40" x2="924.70" y2="392.40" stroke="#000" stroke-width="1.0"/>
<text x="926.20" y="399.40" text-anchor="start" font-size="19.9" fill="#000" stroke="#000" stroke-width="0.45" font-family="'DejaVu Sans','Liberation Sans',sans-serif">12</text>
<text x="972.00" y="536.90" text-anchor="middle" font-size="21.25" fill="#000" stroke="#000" stroke-width="0.45" font-family="'DejaVu Sans','Liberation Sans',sans-serif" transform="rotate(-90 972.00 536.90)">Mean Transverse Displacement (mm)</text>
<text x="493.20" y="361.40" text-anchor="start" font-size="23.5" fill="#000" stroke="#000" stroke-width="0.45" font-family="'Liberation Sans','DejaVu Sans',sans-serif" font-weight="bold">(c)</text>
<polyline points="162.2,388.7 188.4,460.3 204.5,483.6" fill="none" stroke="#fff" stroke-width="2.0" stroke-dasharray="6.3 2.7"/>
<polyline points="283.5,578.7 298.3,603.3 340.6,650.6 361.5,676.1" fill="none" stroke="#fff" stroke-width="2.0" stroke-dasharray="6.3 2.7"/>
<text x="244" y="531" text-anchor="middle" font-size="17.8" fill="#fff" stroke="#fff" stroke-width="0.3" font-family="'DejaVu Sans','Liberation Sans',sans-serif" transform="rotate(50.3 244 531)" dy="5">v<tspan font-size="12.4" dy="3.2" font-style="italic">max</tspan><tspan dy="-3.2"> = 4 m/s</tspan></text>
</svg>
</div>
</body></html>
